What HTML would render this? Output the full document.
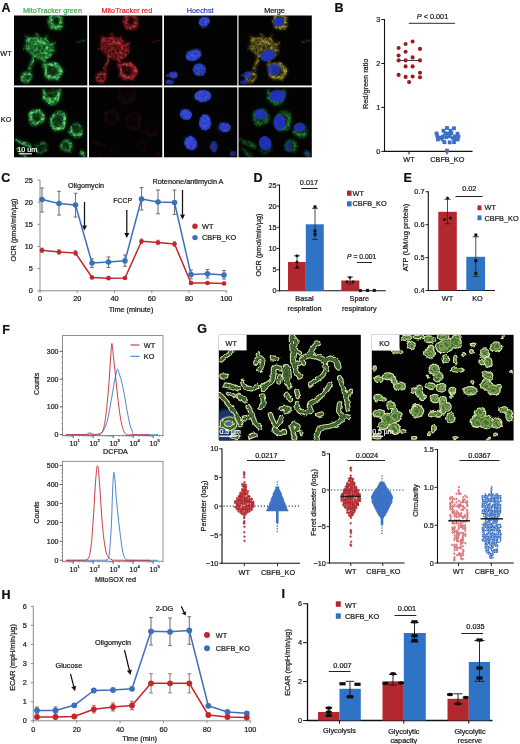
<!DOCTYPE html>
<html lang="en"><head><meta charset="utf-8"><title>Figure</title>
<style>
html,body{margin:0;padding:0;background:#fff;}
body{width:520px;height:744px;overflow:hidden;}
svg{display:block;font-family:"Liberation Sans",sans-serif;}
</style></head><body>
<svg width="520" height="744" viewBox="0 0 520 744">
<rect width="520" height="744" fill="#fff"/>
<defs>
<filter id="spk" x="-5%" y="-5%" width="110%" height="110%">
  <feTurbulence type="fractalNoise" baseFrequency="0.42" numOctaves="2" seed="7" result="n"/>
  <feColorMatrix in="n" type="matrix" values="0 0 0 0 0  0 0 0 0 0  0 0 0 0 0  2.4 0 0 0 -0.55" result="m"/>
  <feTurbulence type="fractalNoise" baseFrequency="0.085" numOctaves="2" seed="4" result="lf"/>
  <feDisplacementMap in="SourceGraphic" in2="lf" scale="6" xChannelSelector="R" yChannelSelector="G" result="sg"/>
  <feGaussianBlur in="sg" stdDeviation="0.8" result="b"/>
  <feComposite in="b" in2="m" operator="in" result="c"/>
  <feGaussianBlur in="c" stdDeviation="0.55"/>
</filter>
<filter id="spk2" x="-5%" y="-5%" width="110%" height="110%">
  <feTurbulence type="fractalNoise" baseFrequency="0.4" numOctaves="2" seed="3" result="n"/>
  <feColorMatrix in="n" type="matrix" values="0 0 0 0 0  0 0 0 0 0  0 0 0 0 0  2.2 0 0 0 -0.45" result="m"/>
  <feTurbulence type="fractalNoise" baseFrequency="0.085" numOctaves="2" seed="4" result="lf"/>
  <feDisplacementMap in="SourceGraphic" in2="lf" scale="6" xChannelSelector="R" yChannelSelector="G" result="sg"/>
  <feGaussianBlur in="sg" stdDeviation="0.8" result="b"/>
  <feComposite in="b" in2="m" operator="in" result="c"/>
  <feGaussianBlur in="c" stdDeviation="0.55"/>
</filter>
<filter id="hot" x="-5%" y="-5%" width="110%" height="110%">
  <feTurbulence type="fractalNoise" baseFrequency="0.33" numOctaves="2" seed="19" result="n"/>
  <feColorMatrix in="n" type="matrix" values="0 0 0 0 0  0 0 0 0 0  0 0 0 0 0  3.2 0 0 0 -1.35" result="m"/>
  <feTurbulence type="fractalNoise" baseFrequency="0.085" numOctaves="2" seed="4" result="lf"/>
  <feDisplacementMap in="SourceGraphic" in2="lf" scale="6" xChannelSelector="R" yChannelSelector="G" result="sg"/>
  <feGaussianBlur in="sg" stdDeviation="0.5" result="b"/>
  <feComposite in="b" in2="m" operator="in" result="c"/>
  <feGaussianBlur in="c" stdDeviation="0.5"/>
</filter>
<filter id="wob" x="-2%" y="-2%" width="104%" height="104%">
  <feTurbulence type="fractalNoise" baseFrequency="0.16" numOctaves="2" seed="11" result="t"/>
  <feDisplacementMap in="SourceGraphic" in2="t" scale="3.6" xChannelSelector="R" yChannelSelector="G" result="d"/>
  <feGaussianBlur in="d" stdDeviation="0.28"/>
</filter>
<filter id="glow" x="-5%" y="-5%" width="110%" height="110%">
  <feTurbulence type="fractalNoise" baseFrequency="0.085" numOctaves="2" seed="4" result="lf"/>
  <feDisplacementMap in="SourceGraphic" in2="lf" scale="6" xChannelSelector="R" yChannelSelector="G" result="sg"/>
  <feGaussianBlur in="sg" stdDeviation="2.0"/>
</filter>
<filter id="bl1"><feGaussianBlur stdDeviation="1.3"/></filter>
<filter id="bl05"><feGaussianBlur stdDeviation="0.7"/></filter>
<filter id="bl03"><feGaussianBlur stdDeviation="0.3"/></filter>
</defs>
<text x="1.50" y="12.00" font-size="12.5" fill="#111" stroke="#111" stroke-width="0.22" font-weight="bold">A</text>
<text x="52.50" y="12.60" font-size="7.3" fill="#3fae49" stroke="#3fae49" stroke-width="0.22" text-anchor="middle">MitoTracker green</text>
<text x="126.80" y="12.60" font-size="7.3" fill="#e0262b" stroke="#e0262b" stroke-width="0.22" text-anchor="middle">MitoTracker red</text>
<text x="200.20" y="12.60" font-size="7.3" fill="#2f3fc0" stroke="#2f3fc0" stroke-width="0.22" text-anchor="middle">Hoechst</text>
<text x="274.50" y="12.60" font-size="7.3" fill="#1a1a1a" stroke="#1a1a1a" stroke-width="0.22" text-anchor="middle">Merge</text>
<text x="0.30" y="55.60" font-size="7.3" fill="#1a1a1a" stroke="#1a1a1a" stroke-width="0.22">WT</text>
<text x="0.80" y="122.00" font-size="7.3" fill="#1a1a1a" stroke="#1a1a1a" stroke-width="0.22">KO</text>
<clipPath id="ct00"><rect x="14" y="15.5" width="73.3" height="70"/></clipPath>
<rect x="14.00" y="15.50" width="73.30" height="70.00" fill="#030303"/>
<g clip-path="url(#ct00)">
<g filter="url(#spk)" stroke="#3fd258" fill="#3fd258" stroke-linecap="round"><path d="M50.5 17.5 Q48.5 22.5 51 26 Q55.5 29.5 60.5 26.5 Q63 22.5 61 18.5" fill="none" stroke-width="3.0"/><ellipse cx="55.7" cy="22" rx="6.6" ry="5.0" fill-opacity="0.22" stroke-width="1.8" opacity="0.45"/><path d="M28 41 Q37 35 47 39 Q54 43 53 51 Q51 57 45 58 Q41 61 37 57 Q31 55 28 49 Q26 45 28 41 Z" opacity="0.9" stroke-width="1.5" fill-opacity="0.48"/><path d="M33 44 Q40 40 47 45 Q49 50 44 53" fill="none" stroke-width="3.0" opacity="0.9"/><path d="M31 40 L26 36.5 M38 38 L36 34 M45 38.5 L48 34.5 M51 44 L56 41.5 M28 47 L24 48" stroke-width="1.4" fill="none" opacity="0.55"/><path d="M34 55 Q32 61 30 70" fill="none" stroke-width="2.2" opacity="0.7"/><path d="M44 57 Q46 61 45 64" fill="none" stroke-width="2.2" opacity="0.6"/><path d="M44.5 65 L55.5 63 L61.5 72 L57 79 L46 75 Z" fill-opacity="0.15" stroke-width="2.8" stroke-linejoin="round"/><path d="M57 64.5 L62 72 L57.5 78.8 L50 77.5" fill="none" stroke-width="3.6" stroke-linejoin="round" opacity="0.95"/><ellipse cx="25.8" cy="76.8" rx="4.8" ry="4.6" fill-opacity="0.22" stroke-width="2.6" opacity="0.8"/><path d="M27 73 Q31.5 76 29 81" fill="none" stroke-width="2.2" opacity="0.7"/><path d="M78 42.8 L85.5 40.4" fill="none" stroke-width="1.6" opacity="0.3"/></g>
<g filter="url(#glow)" stroke="#1f9a38" fill="#1f9a38" opacity="0.6" stroke-linecap="round"><path d="M50.5 17.5 Q48.5 22.5 51 26 Q55.5 29.5 60.5 26.5 Q63 22.5 61 18.5" fill="none" stroke-width="3.0"/><ellipse cx="55.7" cy="22" rx="6.6" ry="5.0" fill-opacity="0.22" stroke-width="1.8" opacity="0.45"/><path d="M28 41 Q37 35 47 39 Q54 43 53 51 Q51 57 45 58 Q41 61 37 57 Q31 55 28 49 Q26 45 28 41 Z" opacity="0.9" stroke-width="1.5" fill-opacity="0.48"/><path d="M33 44 Q40 40 47 45 Q49 50 44 53" fill="none" stroke-width="3.0" opacity="0.9"/><path d="M31 40 L26 36.5 M38 38 L36 34 M45 38.5 L48 34.5 M51 44 L56 41.5 M28 47 L24 48" stroke-width="1.4" fill="none" opacity="0.55"/><path d="M34 55 Q32 61 30 70" fill="none" stroke-width="2.2" opacity="0.7"/><path d="M44 57 Q46 61 45 64" fill="none" stroke-width="2.2" opacity="0.6"/><path d="M44.5 65 L55.5 63 L61.5 72 L57 79 L46 75 Z" fill-opacity="0.15" stroke-width="2.8" stroke-linejoin="round"/><path d="M57 64.5 L62 72 L57.5 78.8 L50 77.5" fill="none" stroke-width="3.6" stroke-linejoin="round" opacity="0.95"/><ellipse cx="25.8" cy="76.8" rx="4.8" ry="4.6" fill-opacity="0.22" stroke-width="2.6" opacity="0.8"/><path d="M27 73 Q31.5 76 29 81" fill="none" stroke-width="2.2" opacity="0.7"/><path d="M78 42.8 L85.5 40.4" fill="none" stroke-width="1.6" opacity="0.3"/></g>
<g filter="url(#hot)" stroke="#8dffa0" fill="#8dffa0" opacity="0.8" stroke-linecap="round"><path d="M50.5 17.5 Q48.5 22.5 51 26 Q55.5 29.5 60.5 26.5 Q63 22.5 61 18.5" fill="none" stroke-width="3.0"/><ellipse cx="55.7" cy="22" rx="6.6" ry="5.0" fill-opacity="0.22" stroke-width="1.8" opacity="0.45"/><path d="M28 41 Q37 35 47 39 Q54 43 53 51 Q51 57 45 58 Q41 61 37 57 Q31 55 28 49 Q26 45 28 41 Z" opacity="0.9" stroke-width="1.5" fill-opacity="0.48"/><path d="M33 44 Q40 40 47 45 Q49 50 44 53" fill="none" stroke-width="3.0" opacity="0.9"/><path d="M31 40 L26 36.5 M38 38 L36 34 M45 38.5 L48 34.5 M51 44 L56 41.5 M28 47 L24 48" stroke-width="1.4" fill="none" opacity="0.55"/><path d="M34 55 Q32 61 30 70" fill="none" stroke-width="2.2" opacity="0.7"/><path d="M44 57 Q46 61 45 64" fill="none" stroke-width="2.2" opacity="0.6"/><path d="M44.5 65 L55.5 63 L61.5 72 L57 79 L46 75 Z" fill-opacity="0.15" stroke-width="2.8" stroke-linejoin="round"/><path d="M57 64.5 L62 72 L57.5 78.8 L50 77.5" fill="none" stroke-width="3.6" stroke-linejoin="round" opacity="0.95"/><ellipse cx="25.8" cy="76.8" rx="4.8" ry="4.6" fill-opacity="0.22" stroke-width="2.6" opacity="0.8"/><path d="M27 73 Q31.5 76 29 81" fill="none" stroke-width="2.2" opacity="0.7"/><path d="M78 42.8 L85.5 40.4" fill="none" stroke-width="1.6" opacity="0.3"/></g>
</g>
<clipPath id="ct10"><rect x="89" y="15.5" width="73.3" height="70"/></clipPath>
<rect x="89.00" y="15.50" width="73.30" height="70.00" fill="#030303"/>
<g clip-path="url(#ct10)">
<g transform="translate(75 0)" opacity="0.8">
<g filter="url(#spk2)" stroke="#ff3038" fill="#ff3038" stroke-linecap="round"><path d="M50.5 17.5 Q48.5 22.5 51 26 Q55.5 29.5 60.5 26.5 Q63 22.5 61 18.5" fill="none" stroke-width="3.0"/><ellipse cx="55.7" cy="22" rx="6.6" ry="5.0" fill-opacity="0.22" stroke-width="1.8" opacity="0.45"/><path d="M28 41 Q37 35 47 39 Q54 43 53 51 Q51 57 45 58 Q41 61 37 57 Q31 55 28 49 Q26 45 28 41 Z" opacity="0.9" stroke-width="1.5" fill-opacity="0.48"/><path d="M33 44 Q40 40 47 45 Q49 50 44 53" fill="none" stroke-width="3.0" opacity="0.9"/><path d="M31 40 L26 36.5 M38 38 L36 34 M45 38.5 L48 34.5 M51 44 L56 41.5 M28 47 L24 48" stroke-width="1.4" fill="none" opacity="0.55"/><path d="M34 55 Q32 61 30 70" fill="none" stroke-width="2.2" opacity="0.7"/><path d="M44 57 Q46 61 45 64" fill="none" stroke-width="2.2" opacity="0.6"/><path d="M44.5 65 L55.5 63 L61.5 72 L57 79 L46 75 Z" fill-opacity="0.15" stroke-width="2.8" stroke-linejoin="round"/><path d="M57 64.5 L62 72 L57.5 78.8 L50 77.5" fill="none" stroke-width="3.6" stroke-linejoin="round" opacity="0.95"/><ellipse cx="25.8" cy="76.8" rx="4.8" ry="4.6" fill-opacity="0.22" stroke-width="2.6" opacity="0.8"/><path d="M27 73 Q31.5 76 29 81" fill="none" stroke-width="2.2" opacity="0.7"/><path d="M78 42.8 L85.5 40.4" fill="none" stroke-width="1.6" opacity="0.3"/></g>
<g filter="url(#glow)" stroke="#b01820" fill="#b01820" opacity="0.6" stroke-linecap="round"><path d="M50.5 17.5 Q48.5 22.5 51 26 Q55.5 29.5 60.5 26.5 Q63 22.5 61 18.5" fill="none" stroke-width="3.0"/><ellipse cx="55.7" cy="22" rx="6.6" ry="5.0" fill-opacity="0.22" stroke-width="1.8" opacity="0.45"/><path d="M28 41 Q37 35 47 39 Q54 43 53 51 Q51 57 45 58 Q41 61 37 57 Q31 55 28 49 Q26 45 28 41 Z" opacity="0.9" stroke-width="1.5" fill-opacity="0.48"/><path d="M33 44 Q40 40 47 45 Q49 50 44 53" fill="none" stroke-width="3.0" opacity="0.9"/><path d="M31 40 L26 36.5 M38 38 L36 34 M45 38.5 L48 34.5 M51 44 L56 41.5 M28 47 L24 48" stroke-width="1.4" fill="none" opacity="0.55"/><path d="M34 55 Q32 61 30 70" fill="none" stroke-width="2.2" opacity="0.7"/><path d="M44 57 Q46 61 45 64" fill="none" stroke-width="2.2" opacity="0.6"/><path d="M44.5 65 L55.5 63 L61.5 72 L57 79 L46 75 Z" fill-opacity="0.15" stroke-width="2.8" stroke-linejoin="round"/><path d="M57 64.5 L62 72 L57.5 78.8 L50 77.5" fill="none" stroke-width="3.6" stroke-linejoin="round" opacity="0.95"/><ellipse cx="25.8" cy="76.8" rx="4.8" ry="4.6" fill-opacity="0.22" stroke-width="2.6" opacity="0.8"/><path d="M27 73 Q31.5 76 29 81" fill="none" stroke-width="2.2" opacity="0.7"/><path d="M78 42.8 L85.5 40.4" fill="none" stroke-width="1.6" opacity="0.3"/></g>
<g filter="url(#hot)" stroke="#ff8a8a" fill="#ff8a8a" opacity="0.7" stroke-linecap="round"><path d="M50.5 17.5 Q48.5 22.5 51 26 Q55.5 29.5 60.5 26.5 Q63 22.5 61 18.5" fill="none" stroke-width="3.0"/><ellipse cx="55.7" cy="22" rx="6.6" ry="5.0" fill-opacity="0.22" stroke-width="1.8" opacity="0.45"/><path d="M28 41 Q37 35 47 39 Q54 43 53 51 Q51 57 45 58 Q41 61 37 57 Q31 55 28 49 Q26 45 28 41 Z" opacity="0.9" stroke-width="1.5" fill-opacity="0.48"/><path d="M33 44 Q40 40 47 45 Q49 50 44 53" fill="none" stroke-width="3.0" opacity="0.9"/><path d="M31 40 L26 36.5 M38 38 L36 34 M45 38.5 L48 34.5 M51 44 L56 41.5 M28 47 L24 48" stroke-width="1.4" fill="none" opacity="0.55"/><path d="M34 55 Q32 61 30 70" fill="none" stroke-width="2.2" opacity="0.7"/><path d="M44 57 Q46 61 45 64" fill="none" stroke-width="2.2" opacity="0.6"/><path d="M44.5 65 L55.5 63 L61.5 72 L57 79 L46 75 Z" fill-opacity="0.15" stroke-width="2.8" stroke-linejoin="round"/><path d="M57 64.5 L62 72 L57.5 78.8 L50 77.5" fill="none" stroke-width="3.6" stroke-linejoin="round" opacity="0.95"/><ellipse cx="25.8" cy="76.8" rx="4.8" ry="4.6" fill-opacity="0.22" stroke-width="2.6" opacity="0.8"/><path d="M27 73 Q31.5 76 29 81" fill="none" stroke-width="2.2" opacity="0.7"/><path d="M78 42.8 L85.5 40.4" fill="none" stroke-width="1.6" opacity="0.3"/></g>
</g>
</g>
<clipPath id="ct20"><rect x="164" y="15.5" width="73.3" height="70"/></clipPath>
<rect x="164.00" y="15.50" width="73.30" height="70.00" fill="#030303"/>
<g clip-path="url(#ct20)">
<g filter="url(#bl05)" fill="#2232bc"><ellipse cx="204.2" cy="21.7" rx="5.6" ry="4.5" opacity="1" transform="rotate(-20 204.2 21.7)"/><ellipse cx="193.3" cy="55.4" rx="7.7" ry="5.6" opacity="1" transform="rotate(-20 193.3 55.4)"/><ellipse cx="199.4" cy="69.6" rx="6.6" ry="6.4" opacity="0.85"/><ellipse cx="173.4" cy="75.1" rx="4.4" ry="3.5" opacity="0.85"/><ellipse cx="168" cy="75.3" rx="1.8" ry="1.8" opacity="0.6"/><ellipse cx="169.5" cy="82.2" rx="4.2" ry="2.3" opacity="0.7"/></g>
<g filter="url(#spk2)" fill="#5a74f0" opacity="0.5"><ellipse cx="204.2" cy="21.7" rx="5.6" ry="4.5" opacity="1" transform="rotate(-20 204.2 21.7)"/><ellipse cx="193.3" cy="55.4" rx="7.7" ry="5.6" opacity="1" transform="rotate(-20 193.3 55.4)"/><ellipse cx="199.4" cy="69.6" rx="6.6" ry="6.4" opacity="0.85"/><ellipse cx="173.4" cy="75.1" rx="4.4" ry="3.5" opacity="0.85"/><ellipse cx="168" cy="75.3" rx="1.8" ry="1.8" opacity="0.6"/><ellipse cx="169.5" cy="82.2" rx="4.2" ry="2.3" opacity="0.7"/></g>
</g>
<clipPath id="ct30"><rect x="238.5" y="15.5" width="73.3" height="70"/></clipPath>
<rect x="238.50" y="15.50" width="73.30" height="70.00" fill="#030303"/>
<g clip-path="url(#ct30)">
<g transform="translate(224.5 0)" opacity="0.72">
<g filter="url(#spk)" stroke="#ece23a" fill="#ece23a" stroke-linecap="round"><path d="M50.5 17.5 Q48.5 22.5 51 26 Q55.5 29.5 60.5 26.5 Q63 22.5 61 18.5" fill="none" stroke-width="3.0"/><ellipse cx="55.7" cy="22" rx="6.6" ry="5.0" fill-opacity="0.22" stroke-width="1.8" opacity="0.45"/><path d="M28 41 Q37 35 47 39 Q54 43 53 51 Q51 57 45 58 Q41 61 37 57 Q31 55 28 49 Q26 45 28 41 Z" opacity="0.9" stroke-width="1.5" fill-opacity="0.48"/><path d="M33 44 Q40 40 47 45 Q49 50 44 53" fill="none" stroke-width="3.0" opacity="0.9"/><path d="M31 40 L26 36.5 M38 38 L36 34 M45 38.5 L48 34.5 M51 44 L56 41.5 M28 47 L24 48" stroke-width="1.4" fill="none" opacity="0.55"/><path d="M34 55 Q32 61 30 70" fill="none" stroke-width="2.2" opacity="0.7"/><path d="M44 57 Q46 61 45 64" fill="none" stroke-width="2.2" opacity="0.6"/><path d="M44.5 65 L55.5 63 L61.5 72 L57 79 L46 75 Z" fill-opacity="0.15" stroke-width="2.8" stroke-linejoin="round"/><path d="M57 64.5 L62 72 L57.5 78.8 L50 77.5" fill="none" stroke-width="3.6" stroke-linejoin="round" opacity="0.95"/><ellipse cx="25.8" cy="76.8" rx="4.8" ry="4.6" fill-opacity="0.22" stroke-width="2.6" opacity="0.8"/><path d="M27 73 Q31.5 76 29 81" fill="none" stroke-width="2.2" opacity="0.7"/><path d="M78 42.8 L85.5 40.4" fill="none" stroke-width="1.6" opacity="0.3"/></g>
<g filter="url(#glow)" stroke="#8a6a14" fill="#8a6a14" opacity="0.5" stroke-linecap="round"><path d="M50.5 17.5 Q48.5 22.5 51 26 Q55.5 29.5 60.5 26.5 Q63 22.5 61 18.5" fill="none" stroke-width="3.0"/><ellipse cx="55.7" cy="22" rx="6.6" ry="5.0" fill-opacity="0.22" stroke-width="1.8" opacity="0.45"/><path d="M28 41 Q37 35 47 39 Q54 43 53 51 Q51 57 45 58 Q41 61 37 57 Q31 55 28 49 Q26 45 28 41 Z" opacity="0.9" stroke-width="1.5" fill-opacity="0.48"/><path d="M33 44 Q40 40 47 45 Q49 50 44 53" fill="none" stroke-width="3.0" opacity="0.9"/><path d="M31 40 L26 36.5 M38 38 L36 34 M45 38.5 L48 34.5 M51 44 L56 41.5 M28 47 L24 48" stroke-width="1.4" fill="none" opacity="0.55"/><path d="M34 55 Q32 61 30 70" fill="none" stroke-width="2.2" opacity="0.7"/><path d="M44 57 Q46 61 45 64" fill="none" stroke-width="2.2" opacity="0.6"/><path d="M44.5 65 L55.5 63 L61.5 72 L57 79 L46 75 Z" fill-opacity="0.15" stroke-width="2.8" stroke-linejoin="round"/><path d="M57 64.5 L62 72 L57.5 78.8 L50 77.5" fill="none" stroke-width="3.6" stroke-linejoin="round" opacity="0.95"/><ellipse cx="25.8" cy="76.8" rx="4.8" ry="4.6" fill-opacity="0.22" stroke-width="2.6" opacity="0.8"/><path d="M27 73 Q31.5 76 29 81" fill="none" stroke-width="2.2" opacity="0.7"/><path d="M78 42.8 L85.5 40.4" fill="none" stroke-width="1.6" opacity="0.3"/></g>
<g filter="url(#hot)" stroke="#ffff70" fill="#ffff70" opacity="0.85" stroke-linecap="round"><path d="M50.5 17.5 Q48.5 22.5 51 26 Q55.5 29.5 60.5 26.5 Q63 22.5 61 18.5" fill="none" stroke-width="3.0"/><ellipse cx="55.7" cy="22" rx="6.6" ry="5.0" fill-opacity="0.22" stroke-width="1.8" opacity="0.45"/><path d="M28 41 Q37 35 47 39 Q54 43 53 51 Q51 57 45 58 Q41 61 37 57 Q31 55 28 49 Q26 45 28 41 Z" opacity="0.9" stroke-width="1.5" fill-opacity="0.48"/><path d="M33 44 Q40 40 47 45 Q49 50 44 53" fill="none" stroke-width="3.0" opacity="0.9"/><path d="M31 40 L26 36.5 M38 38 L36 34 M45 38.5 L48 34.5 M51 44 L56 41.5 M28 47 L24 48" stroke-width="1.4" fill="none" opacity="0.55"/><path d="M34 55 Q32 61 30 70" fill="none" stroke-width="2.2" opacity="0.7"/><path d="M44 57 Q46 61 45 64" fill="none" stroke-width="2.2" opacity="0.6"/><path d="M44.5 65 L55.5 63 L61.5 72 L57 79 L46 75 Z" fill-opacity="0.15" stroke-width="2.8" stroke-linejoin="round"/><path d="M57 64.5 L62 72 L57.5 78.8 L50 77.5" fill="none" stroke-width="3.6" stroke-linejoin="round" opacity="0.95"/><ellipse cx="25.8" cy="76.8" rx="4.8" ry="4.6" fill-opacity="0.22" stroke-width="2.6" opacity="0.8"/><path d="M27 73 Q31.5 76 29 81" fill="none" stroke-width="2.2" opacity="0.7"/><path d="M78 42.8 L85.5 40.4" fill="none" stroke-width="1.6" opacity="0.3"/></g>
</g>
<g transform="translate(74.5 0)">
<g filter="url(#bl05)" fill="#2232bc" opacity="0.95"><ellipse cx="204.2" cy="21.7" rx="5.6" ry="4.5" opacity="1" transform="rotate(-20 204.2 21.7)"/><ellipse cx="193.3" cy="55.4" rx="7.7" ry="5.6" opacity="1" transform="rotate(-20 193.3 55.4)"/><ellipse cx="199.4" cy="69.6" rx="6.6" ry="6.4" opacity="0.85"/><ellipse cx="173.4" cy="75.1" rx="4.4" ry="3.5" opacity="0.85"/><ellipse cx="168" cy="75.3" rx="1.8" ry="1.8" opacity="0.6"/><ellipse cx="169.5" cy="82.2" rx="4.2" ry="2.3" opacity="0.7"/></g>
</g>
</g>
<clipPath id="ct01"><rect x="14" y="87.3" width="73.3" height="70"/></clipPath>
<rect x="14.00" y="87.30" width="73.30" height="70.00" fill="#030303"/>
<g clip-path="url(#ct01)">
<g filter="url(#spk)" stroke="#3fd258" fill="#3fd258" stroke-linecap="round"><path d="M43 91 Q42 98 47 101 Q52 103.5 57 100 Q60.5 96 59 91" fill-opacity="0.2" stroke-width="3.2"/><path d="M44.5 98.5 Q51 104 58 98.5" fill="none" stroke-width="3.4" opacity="0.9"/><ellipse cx="36.8" cy="118" rx="6.2" ry="6.4" fill-opacity="0.22" stroke-width="3.2" opacity="0.8"/><path d="M31 114 Q34 110 40 111.5" fill="none" stroke-width="2.6" opacity="0.8"/><ellipse cx="57.3" cy="121" rx="5.9" ry="7.4" fill-opacity="0.22" stroke-width="2.4" opacity="0.85"/><path d="M52.5 126 Q56 131 61 128 Q64 124 63.5 117" fill="none" stroke-width="2.8" opacity="0.85"/><ellipse cx="76.2" cy="129.7" rx="5.2" ry="5.2" fill-opacity="0.22" stroke-width="2.2" opacity="0.6"/><path d="M70.8 131 Q75 137 81 133.5" fill="none" stroke-width="3.0" opacity="0.9"/><path d="M15 139 Q22 143 30 147" fill="none" stroke-width="2.6" opacity="0.7"/><ellipse cx="41.5" cy="147.5" rx="5.5" ry="5" fill-opacity="0.22" stroke-width="2.2" opacity="0.4"/><path d="M16 150 Q22 154 28 156" fill="none" stroke-width="2.2" opacity="0.5"/><ellipse cx="66" cy="146.3" rx="4.8" ry="4.8" fill-opacity="0.22" stroke-width="2.4" opacity="0.6"/><path d="M69 142 Q72.5 146 70 151" fill="none" stroke-width="2.6" opacity="0.8"/><path d="M81.5 152 L84 155.5" fill="none" stroke-width="3" opacity="0.8"/></g>
<g filter="url(#glow)" stroke="#1f9a38" fill="#1f9a38" opacity="0.6" stroke-linecap="round"><path d="M43 91 Q42 98 47 101 Q52 103.5 57 100 Q60.5 96 59 91" fill-opacity="0.2" stroke-width="3.2"/><path d="M44.5 98.5 Q51 104 58 98.5" fill="none" stroke-width="3.4" opacity="0.9"/><ellipse cx="36.8" cy="118" rx="6.2" ry="6.4" fill-opacity="0.22" stroke-width="3.2" opacity="0.8"/><path d="M31 114 Q34 110 40 111.5" fill="none" stroke-width="2.6" opacity="0.8"/><ellipse cx="57.3" cy="121" rx="5.9" ry="7.4" fill-opacity="0.22" stroke-width="2.4" opacity="0.85"/><path d="M52.5 126 Q56 131 61 128 Q64 124 63.5 117" fill="none" stroke-width="2.8" opacity="0.85"/><ellipse cx="76.2" cy="129.7" rx="5.2" ry="5.2" fill-opacity="0.22" stroke-width="2.2" opacity="0.6"/><path d="M70.8 131 Q75 137 81 133.5" fill="none" stroke-width="3.0" opacity="0.9"/><path d="M15 139 Q22 143 30 147" fill="none" stroke-width="2.6" opacity="0.7"/><ellipse cx="41.5" cy="147.5" rx="5.5" ry="5" fill-opacity="0.22" stroke-width="2.2" opacity="0.4"/><path d="M16 150 Q22 154 28 156" fill="none" stroke-width="2.2" opacity="0.5"/><ellipse cx="66" cy="146.3" rx="4.8" ry="4.8" fill-opacity="0.22" stroke-width="2.4" opacity="0.6"/><path d="M69 142 Q72.5 146 70 151" fill="none" stroke-width="2.6" opacity="0.8"/><path d="M81.5 152 L84 155.5" fill="none" stroke-width="3" opacity="0.8"/></g>
<g filter="url(#hot)" stroke="#8dffa0" fill="#8dffa0" opacity="0.8" stroke-linecap="round"><path d="M43 91 Q42 98 47 101 Q52 103.5 57 100 Q60.5 96 59 91" fill-opacity="0.2" stroke-width="3.2"/><path d="M44.5 98.5 Q51 104 58 98.5" fill="none" stroke-width="3.4" opacity="0.9"/><ellipse cx="36.8" cy="118" rx="6.2" ry="6.4" fill-opacity="0.22" stroke-width="3.2" opacity="0.8"/><path d="M31 114 Q34 110 40 111.5" fill="none" stroke-width="2.6" opacity="0.8"/><ellipse cx="57.3" cy="121" rx="5.9" ry="7.4" fill-opacity="0.22" stroke-width="2.4" opacity="0.85"/><path d="M52.5 126 Q56 131 61 128 Q64 124 63.5 117" fill="none" stroke-width="2.8" opacity="0.85"/><ellipse cx="76.2" cy="129.7" rx="5.2" ry="5.2" fill-opacity="0.22" stroke-width="2.2" opacity="0.6"/><path d="M70.8 131 Q75 137 81 133.5" fill="none" stroke-width="3.0" opacity="0.9"/><path d="M15 139 Q22 143 30 147" fill="none" stroke-width="2.6" opacity="0.7"/><ellipse cx="41.5" cy="147.5" rx="5.5" ry="5" fill-opacity="0.22" stroke-width="2.2" opacity="0.4"/><path d="M16 150 Q22 154 28 156" fill="none" stroke-width="2.2" opacity="0.5"/><ellipse cx="66" cy="146.3" rx="4.8" ry="4.8" fill-opacity="0.22" stroke-width="2.4" opacity="0.6"/><path d="M69 142 Q72.5 146 70 151" fill="none" stroke-width="2.6" opacity="0.8"/><path d="M81.5 152 L84 155.5" fill="none" stroke-width="3" opacity="0.8"/></g>
</g>
<clipPath id="ct11"><rect x="89" y="87.3" width="73.3" height="70"/></clipPath>
<rect x="89.00" y="87.30" width="73.30" height="70.00" fill="#030303"/>
<g clip-path="url(#ct11)">
<g transform="translate(75 0)" opacity="0.1">
<g filter="url(#spk2)" stroke="#ff3038" fill="#ff3038" stroke-linecap="round"><path d="M43 91 Q42 98 47 101 Q52 103.5 57 100 Q60.5 96 59 91" fill-opacity="0.2" stroke-width="3.2"/><path d="M44.5 98.5 Q51 104 58 98.5" fill="none" stroke-width="3.4" opacity="0.9"/><ellipse cx="36.8" cy="118" rx="6.2" ry="6.4" fill-opacity="0.22" stroke-width="3.2" opacity="0.8"/><path d="M31 114 Q34 110 40 111.5" fill="none" stroke-width="2.6" opacity="0.8"/><ellipse cx="57.3" cy="121" rx="5.9" ry="7.4" fill-opacity="0.22" stroke-width="2.4" opacity="0.85"/><path d="M52.5 126 Q56 131 61 128 Q64 124 63.5 117" fill="none" stroke-width="2.8" opacity="0.85"/><ellipse cx="76.2" cy="129.7" rx="5.2" ry="5.2" fill-opacity="0.22" stroke-width="2.2" opacity="0.6"/><path d="M70.8 131 Q75 137 81 133.5" fill="none" stroke-width="3.0" opacity="0.9"/><path d="M15 139 Q22 143 30 147" fill="none" stroke-width="2.6" opacity="0.7"/><ellipse cx="41.5" cy="147.5" rx="5.5" ry="5" fill-opacity="0.22" stroke-width="2.2" opacity="0.4"/><path d="M16 150 Q22 154 28 156" fill="none" stroke-width="2.2" opacity="0.5"/><ellipse cx="66" cy="146.3" rx="4.8" ry="4.8" fill-opacity="0.22" stroke-width="2.4" opacity="0.6"/><path d="M69 142 Q72.5 146 70 151" fill="none" stroke-width="2.6" opacity="0.8"/><path d="M81.5 152 L84 155.5" fill="none" stroke-width="3" opacity="0.8"/></g>
<g filter="url(#glow)" stroke="#b01820" fill="#b01820" opacity="0.6" stroke-linecap="round"><path d="M43 91 Q42 98 47 101 Q52 103.5 57 100 Q60.5 96 59 91" fill-opacity="0.2" stroke-width="3.2"/><path d="M44.5 98.5 Q51 104 58 98.5" fill="none" stroke-width="3.4" opacity="0.9"/><ellipse cx="36.8" cy="118" rx="6.2" ry="6.4" fill-opacity="0.22" stroke-width="3.2" opacity="0.8"/><path d="M31 114 Q34 110 40 111.5" fill="none" stroke-width="2.6" opacity="0.8"/><ellipse cx="57.3" cy="121" rx="5.9" ry="7.4" fill-opacity="0.22" stroke-width="2.4" opacity="0.85"/><path d="M52.5 126 Q56 131 61 128 Q64 124 63.5 117" fill="none" stroke-width="2.8" opacity="0.85"/><ellipse cx="76.2" cy="129.7" rx="5.2" ry="5.2" fill-opacity="0.22" stroke-width="2.2" opacity="0.6"/><path d="M70.8 131 Q75 137 81 133.5" fill="none" stroke-width="3.0" opacity="0.9"/><path d="M15 139 Q22 143 30 147" fill="none" stroke-width="2.6" opacity="0.7"/><ellipse cx="41.5" cy="147.5" rx="5.5" ry="5" fill-opacity="0.22" stroke-width="2.2" opacity="0.4"/><path d="M16 150 Q22 154 28 156" fill="none" stroke-width="2.2" opacity="0.5"/><ellipse cx="66" cy="146.3" rx="4.8" ry="4.8" fill-opacity="0.22" stroke-width="2.4" opacity="0.6"/><path d="M69 142 Q72.5 146 70 151" fill="none" stroke-width="2.6" opacity="0.8"/><path d="M81.5 152 L84 155.5" fill="none" stroke-width="3" opacity="0.8"/></g>
<g filter="url(#hot)" stroke="#ff8a8a" fill="#ff8a8a" opacity="0.7" stroke-linecap="round"><path d="M43 91 Q42 98 47 101 Q52 103.5 57 100 Q60.5 96 59 91" fill-opacity="0.2" stroke-width="3.2"/><path d="M44.5 98.5 Q51 104 58 98.5" fill="none" stroke-width="3.4" opacity="0.9"/><ellipse cx="36.8" cy="118" rx="6.2" ry="6.4" fill-opacity="0.22" stroke-width="3.2" opacity="0.8"/><path d="M31 114 Q34 110 40 111.5" fill="none" stroke-width="2.6" opacity="0.8"/><ellipse cx="57.3" cy="121" rx="5.9" ry="7.4" fill-opacity="0.22" stroke-width="2.4" opacity="0.85"/><path d="M52.5 126 Q56 131 61 128 Q64 124 63.5 117" fill="none" stroke-width="2.8" opacity="0.85"/><ellipse cx="76.2" cy="129.7" rx="5.2" ry="5.2" fill-opacity="0.22" stroke-width="2.2" opacity="0.6"/><path d="M70.8 131 Q75 137 81 133.5" fill="none" stroke-width="3.0" opacity="0.9"/><path d="M15 139 Q22 143 30 147" fill="none" stroke-width="2.6" opacity="0.7"/><ellipse cx="41.5" cy="147.5" rx="5.5" ry="5" fill-opacity="0.22" stroke-width="2.2" opacity="0.4"/><path d="M16 150 Q22 154 28 156" fill="none" stroke-width="2.2" opacity="0.5"/><ellipse cx="66" cy="146.3" rx="4.8" ry="4.8" fill-opacity="0.22" stroke-width="2.4" opacity="0.6"/><path d="M69 142 Q72.5 146 70 151" fill="none" stroke-width="2.6" opacity="0.8"/><path d="M81.5 152 L84 155.5" fill="none" stroke-width="3" opacity="0.8"/></g>
</g>
</g>
<clipPath id="ct21"><rect x="164" y="87.3" width="73.3" height="70"/></clipPath>
<rect x="164.00" y="87.30" width="73.30" height="70.00" fill="#030303"/>
<g clip-path="url(#ct21)">
<g filter="url(#bl05)" fill="#2232bc"><ellipse cx="203" cy="96" rx="8.4" ry="6.0" opacity="1.0"/><ellipse cx="186" cy="114.5" rx="6.2" ry="5.2" opacity="1" transform="rotate(20 186 114.5)"/><ellipse cx="205" cy="122.5" rx="6.0" ry="8.2" opacity="1.0"/><ellipse cx="225" cy="127.5" rx="5.8" ry="4.7" opacity="0.9"/><ellipse cx="190.7" cy="143.2" rx="6.2" ry="7.2" opacity="1" transform="rotate(-20 190.7 143.2)"/><ellipse cx="214" cy="146.5" rx="3.6" ry="5.8" opacity="0.6"/><ellipse cx="233" cy="153.5" rx="3" ry="2.6" opacity="0.55"/></g>
<g filter="url(#spk2)" fill="#5a74f0" opacity="0.5"><ellipse cx="203" cy="96" rx="8.4" ry="6.0" opacity="1.0"/><ellipse cx="186" cy="114.5" rx="6.2" ry="5.2" opacity="1" transform="rotate(20 186 114.5)"/><ellipse cx="205" cy="122.5" rx="6.0" ry="8.2" opacity="1.0"/><ellipse cx="225" cy="127.5" rx="5.8" ry="4.7" opacity="0.9"/><ellipse cx="190.7" cy="143.2" rx="6.2" ry="7.2" opacity="1" transform="rotate(-20 190.7 143.2)"/><ellipse cx="214" cy="146.5" rx="3.6" ry="5.8" opacity="0.6"/><ellipse cx="233" cy="153.5" rx="3" ry="2.6" opacity="0.55"/></g>
</g>
<clipPath id="ct31"><rect x="238.5" y="87.3" width="73.3" height="70"/></clipPath>
<rect x="238.50" y="87.30" width="73.30" height="70.00" fill="#030303"/>
<g clip-path="url(#ct31)">
<g transform="translate(224.5 0)" opacity="0.8">
<g filter="url(#spk)" stroke="#3fd258" fill="#3fd258" stroke-linecap="round"><path d="M43 91 Q42 98 47 101 Q52 103.5 57 100 Q60.5 96 59 91" fill-opacity="0.2" stroke-width="3.2"/><path d="M44.5 98.5 Q51 104 58 98.5" fill="none" stroke-width="3.4" opacity="0.9"/><ellipse cx="36.8" cy="118" rx="6.2" ry="6.4" fill-opacity="0.22" stroke-width="3.2" opacity="0.8"/><path d="M31 114 Q34 110 40 111.5" fill="none" stroke-width="2.6" opacity="0.8"/><ellipse cx="57.3" cy="121" rx="5.9" ry="7.4" fill-opacity="0.22" stroke-width="2.4" opacity="0.85"/><path d="M52.5 126 Q56 131 61 128 Q64 124 63.5 117" fill="none" stroke-width="2.8" opacity="0.85"/><ellipse cx="76.2" cy="129.7" rx="5.2" ry="5.2" fill-opacity="0.22" stroke-width="2.2" opacity="0.6"/><path d="M70.8 131 Q75 137 81 133.5" fill="none" stroke-width="3.0" opacity="0.9"/><path d="M15 139 Q22 143 30 147" fill="none" stroke-width="2.6" opacity="0.7"/><ellipse cx="41.5" cy="147.5" rx="5.5" ry="5" fill-opacity="0.22" stroke-width="2.2" opacity="0.4"/><path d="M16 150 Q22 154 28 156" fill="none" stroke-width="2.2" opacity="0.5"/><ellipse cx="66" cy="146.3" rx="4.8" ry="4.8" fill-opacity="0.22" stroke-width="2.4" opacity="0.6"/><path d="M69 142 Q72.5 146 70 151" fill="none" stroke-width="2.6" opacity="0.8"/><path d="M81.5 152 L84 155.5" fill="none" stroke-width="3" opacity="0.8"/></g>
<g filter="url(#glow)" stroke="#1f9a38" fill="#1f9a38" opacity="0.6" stroke-linecap="round"><path d="M43 91 Q42 98 47 101 Q52 103.5 57 100 Q60.5 96 59 91" fill-opacity="0.2" stroke-width="3.2"/><path d="M44.5 98.5 Q51 104 58 98.5" fill="none" stroke-width="3.4" opacity="0.9"/><ellipse cx="36.8" cy="118" rx="6.2" ry="6.4" fill-opacity="0.22" stroke-width="3.2" opacity="0.8"/><path d="M31 114 Q34 110 40 111.5" fill="none" stroke-width="2.6" opacity="0.8"/><ellipse cx="57.3" cy="121" rx="5.9" ry="7.4" fill-opacity="0.22" stroke-width="2.4" opacity="0.85"/><path d="M52.5 126 Q56 131 61 128 Q64 124 63.5 117" fill="none" stroke-width="2.8" opacity="0.85"/><ellipse cx="76.2" cy="129.7" rx="5.2" ry="5.2" fill-opacity="0.22" stroke-width="2.2" opacity="0.6"/><path d="M70.8 131 Q75 137 81 133.5" fill="none" stroke-width="3.0" opacity="0.9"/><path d="M15 139 Q22 143 30 147" fill="none" stroke-width="2.6" opacity="0.7"/><ellipse cx="41.5" cy="147.5" rx="5.5" ry="5" fill-opacity="0.22" stroke-width="2.2" opacity="0.4"/><path d="M16 150 Q22 154 28 156" fill="none" stroke-width="2.2" opacity="0.5"/><ellipse cx="66" cy="146.3" rx="4.8" ry="4.8" fill-opacity="0.22" stroke-width="2.4" opacity="0.6"/><path d="M69 142 Q72.5 146 70 151" fill="none" stroke-width="2.6" opacity="0.8"/><path d="M81.5 152 L84 155.5" fill="none" stroke-width="3" opacity="0.8"/></g>
</g>
<g transform="translate(74.5 0)">
<g filter="url(#bl05)" fill="#2232bc" opacity="0.95"><ellipse cx="203" cy="96" rx="8.4" ry="6.0" opacity="1.0"/><ellipse cx="186" cy="114.5" rx="6.2" ry="5.2" opacity="1" transform="rotate(20 186 114.5)"/><ellipse cx="205" cy="122.5" rx="6.0" ry="8.2" opacity="1.0"/><ellipse cx="225" cy="127.5" rx="5.8" ry="4.7" opacity="0.9"/><ellipse cx="190.7" cy="143.2" rx="6.2" ry="7.2" opacity="1" transform="rotate(-20 190.7 143.2)"/><ellipse cx="214" cy="146.5" rx="3.6" ry="5.8" opacity="0.6"/><ellipse cx="233" cy="153.5" rx="3" ry="2.6" opacity="0.55"/></g>
</g>
</g>
<text x="17.20" y="152.20" font-size="7.2" fill="#fff" stroke="#fff" stroke-width="0.22">10 um</text>
<line x1="18.80" y1="153.80" x2="32.00" y2="153.80" stroke="#fff" stroke-width="1.1"/>
<text x="334.50" y="12.00" font-size="12.5" fill="#111" stroke="#111" stroke-width="0.22" font-weight="bold">B</text>
<line x1="384.50" y1="19.00" x2="384.50" y2="151.90" stroke="#111" stroke-width="1.1"/>
<line x1="384.00" y1="151.40" x2="472.50" y2="151.40" stroke="#111" stroke-width="1.1"/>
<line x1="381.30" y1="151.40" x2="384.50" y2="151.40" stroke="#111" stroke-width="1.0"/>
<text x="380.20" y="154.00" font-size="7.3" fill="#1a1a1a" stroke="#1a1a1a" stroke-width="0.22" text-anchor="end">0</text>
<line x1="381.30" y1="107.43" x2="384.50" y2="107.43" stroke="#111" stroke-width="1.0"/>
<text x="380.20" y="110.03" font-size="7.3" fill="#1a1a1a" stroke="#1a1a1a" stroke-width="0.22" text-anchor="end">1</text>
<line x1="381.30" y1="63.47" x2="384.50" y2="63.47" stroke="#111" stroke-width="1.0"/>
<text x="380.20" y="66.07" font-size="7.3" fill="#1a1a1a" stroke="#1a1a1a" stroke-width="0.22" text-anchor="end">2</text>
<line x1="381.30" y1="19.50" x2="384.50" y2="19.50" stroke="#111" stroke-width="1.0"/>
<text x="380.20" y="22.10" font-size="7.3" fill="#1a1a1a" stroke="#1a1a1a" stroke-width="0.22" text-anchor="end">3</text>
<line x1="409.00" y1="151.40" x2="409.00" y2="154.40" stroke="#111" stroke-width="1.0"/>
<line x1="447.00" y1="151.40" x2="447.00" y2="154.40" stroke="#111" stroke-width="1.0"/>
<text x="367.60" y="83.80" font-size="7.3" fill="#1a1a1a" stroke="#1a1a1a" stroke-width="0.22" text-anchor="middle" transform="rotate(-90 367.60 83.80)">Red/green ratio</text>
<text x="409.00" y="161.60" font-size="7.3" fill="#1a1a1a" stroke="#1a1a1a" stroke-width="0.22" text-anchor="middle">WT</text>
<text x="447.30" y="161.60" font-size="7.3" fill="#1a1a1a" stroke="#1a1a1a" stroke-width="0.22" text-anchor="middle">CBFB_KO</text>
<text x="432.50" y="18.90" font-size="7.3" fill="#1a1a1a" stroke="#1a1a1a" stroke-width="0.22" text-anchor="middle"><tspan font-style="italic">P</tspan> &lt; 0.001</text>
<line x1="408.80" y1="23.40" x2="455.00" y2="23.40" stroke="#555" stroke-width="1.3"/>
<line x1="398.60" y1="60.40" x2="420.00" y2="60.40" stroke="#111" stroke-width="0.9"/>
<circle cx="412.60" cy="41.50" r="2.05" fill="#9c1a22"/>
<circle cx="405.60" cy="44.00" r="2.05" fill="#9c1a22"/>
<circle cx="398.60" cy="48.00" r="2.05" fill="#9c1a22"/>
<circle cx="420.00" cy="48.90" r="2.05" fill="#9c1a22"/>
<circle cx="405.60" cy="51.70" r="2.05" fill="#9c1a22"/>
<circle cx="398.60" cy="55.50" r="2.05" fill="#9c1a22"/>
<circle cx="412.60" cy="57.40" r="2.05" fill="#9c1a22"/>
<circle cx="398.60" cy="60.40" r="2.05" fill="#9c1a22"/>
<circle cx="405.60" cy="60.40" r="2.05" fill="#9c1a22"/>
<circle cx="420.00" cy="60.40" r="2.05" fill="#9c1a22"/>
<circle cx="405.60" cy="66.40" r="2.05" fill="#9c1a22"/>
<circle cx="412.60" cy="66.40" r="2.05" fill="#9c1a22"/>
<circle cx="420.00" cy="72.70" r="2.05" fill="#9c1a22"/>
<circle cx="398.60" cy="74.90" r="2.05" fill="#9c1a22"/>
<circle cx="405.60" cy="76.90" r="2.05" fill="#9c1a22"/>
<circle cx="412.60" cy="76.50" r="2.05" fill="#9c1a22"/>
<circle cx="420.00" cy="77.20" r="2.05" fill="#9c1a22"/>
<circle cx="409.10" cy="82.10" r="2.05" fill="#9c1a22"/>
<rect x="445.10" y="126.10" width="3.80" height="3.80" fill="#3b6fc6"/>
<rect x="452.10" y="126.40" width="3.80" height="3.80" fill="#3b6fc6"/>
<rect x="441.60" y="128.80" width="3.80" height="3.80" fill="#3b6fc6"/>
<rect x="448.60" y="128.80" width="3.80" height="3.80" fill="#3b6fc6"/>
<rect x="434.70" y="131.60" width="3.80" height="3.80" fill="#3b6fc6"/>
<rect x="443.40" y="131.60" width="3.80" height="3.80" fill="#3b6fc6"/>
<rect x="449.50" y="131.40" width="3.80" height="3.80" fill="#3b6fc6"/>
<rect x="455.60" y="131.80" width="3.80" height="3.80" fill="#3b6fc6"/>
<rect x="435.50" y="134.50" width="3.80" height="3.80" fill="#3b6fc6"/>
<rect x="440.80" y="134.70" width="3.80" height="3.80" fill="#3b6fc6"/>
<rect x="447.80" y="134.30" width="3.80" height="3.80" fill="#3b6fc6"/>
<rect x="453.10" y="134.60" width="3.80" height="3.80" fill="#3b6fc6"/>
<rect x="456.50" y="134.50" width="3.80" height="3.80" fill="#3b6fc6"/>
<rect x="436.10" y="137.50" width="3.80" height="3.80" fill="#3b6fc6"/>
<rect x="440.80" y="137.60" width="3.80" height="3.80" fill="#3b6fc6"/>
<rect x="453.10" y="137.50" width="3.80" height="3.80" fill="#3b6fc6"/>
<rect x="455.90" y="137.50" width="3.80" height="3.80" fill="#3b6fc6"/>
<rect x="442.50" y="140.30" width="3.80" height="3.80" fill="#3b6fc6"/>
<rect x="447.80" y="140.50" width="3.80" height="3.80" fill="#3b6fc6"/>
<rect x="452.10" y="140.30" width="3.80" height="3.80" fill="#3b6fc6"/>
<rect x="445.10" y="148.70" width="3.80" height="3.80" fill="#3b6fc6"/>
<rect x="446.40" y="131.70" width="3.80" height="3.80" fill="#3b6fc6"/>
<rect x="444.40" y="135.30" width="3.80" height="3.80" fill="#3b6fc6"/>
<rect x="450.70" y="136.30" width="3.80" height="3.80" fill="#3b6fc6"/>
<rect x="438.40" y="136.00" width="3.80" height="3.80" fill="#3b6fc6"/>
<line x1="443.00" y1="139.40" x2="452.00" y2="139.40" stroke="#e8eefc" stroke-width="0.7"/>
<text x="1.20" y="181.50" font-size="12.5" fill="#111" stroke="#111" stroke-width="0.22" font-weight="bold">C</text>
<line x1="40.00" y1="179.70" x2="40.00" y2="291.20" stroke="#7d7d7d" stroke-width="0.9"/>
<line x1="39.60" y1="290.80" x2="226.75" y2="290.80" stroke="#7d7d7d" stroke-width="0.9"/>
<line x1="37.40" y1="290.80" x2="40.00" y2="290.80" stroke="#7d7d7d" stroke-width="0.8"/>
<text x="32.80" y="293.40" font-size="7.3" fill="#1a1a1a" stroke="#1a1a1a" stroke-width="0.22" text-anchor="end">0</text>
<line x1="37.40" y1="268.64" x2="40.00" y2="268.64" stroke="#7d7d7d" stroke-width="0.8"/>
<text x="32.80" y="271.24" font-size="7.3" fill="#1a1a1a" stroke="#1a1a1a" stroke-width="0.22" text-anchor="end">5</text>
<line x1="37.40" y1="246.48" x2="40.00" y2="246.48" stroke="#7d7d7d" stroke-width="0.8"/>
<text x="32.80" y="249.08" font-size="7.3" fill="#1a1a1a" stroke="#1a1a1a" stroke-width="0.22" text-anchor="end">10</text>
<line x1="37.40" y1="224.32" x2="40.00" y2="224.32" stroke="#7d7d7d" stroke-width="0.8"/>
<text x="32.80" y="226.92" font-size="7.3" fill="#1a1a1a" stroke="#1a1a1a" stroke-width="0.22" text-anchor="end">15</text>
<line x1="37.40" y1="202.16" x2="40.00" y2="202.16" stroke="#7d7d7d" stroke-width="0.8"/>
<text x="32.80" y="204.76" font-size="7.3" fill="#1a1a1a" stroke="#1a1a1a" stroke-width="0.22" text-anchor="end">20</text>
<line x1="37.40" y1="180.00" x2="40.00" y2="180.00" stroke="#7d7d7d" stroke-width="0.8"/>
<text x="32.80" y="182.60" font-size="7.3" fill="#1a1a1a" stroke="#1a1a1a" stroke-width="0.22" text-anchor="end">25</text>
<line x1="40.00" y1="290.80" x2="40.00" y2="293.20" stroke="#7d7d7d" stroke-width="0.8"/>
<text x="40.00" y="301.40" font-size="7.3" fill="#1a1a1a" stroke="#1a1a1a" stroke-width="0.22" text-anchor="middle">0</text>
<line x1="77.25" y1="290.80" x2="77.25" y2="293.20" stroke="#7d7d7d" stroke-width="0.8"/>
<text x="77.25" y="301.40" font-size="7.3" fill="#1a1a1a" stroke="#1a1a1a" stroke-width="0.22" text-anchor="middle">20</text>
<line x1="114.50" y1="290.80" x2="114.50" y2="293.20" stroke="#7d7d7d" stroke-width="0.8"/>
<text x="114.50" y="301.40" font-size="7.3" fill="#1a1a1a" stroke="#1a1a1a" stroke-width="0.22" text-anchor="middle">40</text>
<line x1="151.75" y1="290.80" x2="151.75" y2="293.20" stroke="#7d7d7d" stroke-width="0.8"/>
<text x="151.75" y="301.40" font-size="7.3" fill="#1a1a1a" stroke="#1a1a1a" stroke-width="0.22" text-anchor="middle">60</text>
<line x1="189.00" y1="290.80" x2="189.00" y2="293.20" stroke="#7d7d7d" stroke-width="0.8"/>
<text x="189.00" y="301.40" font-size="7.3" fill="#1a1a1a" stroke="#1a1a1a" stroke-width="0.22" text-anchor="middle">80</text>
<line x1="226.25" y1="290.80" x2="226.25" y2="293.20" stroke="#7d7d7d" stroke-width="0.8"/>
<text x="226.25" y="301.40" font-size="7.3" fill="#1a1a1a" stroke="#1a1a1a" stroke-width="0.22" text-anchor="middle">100</text>
<text x="16.40" y="230.00" font-size="7.3" fill="#1a1a1a" stroke="#1a1a1a" stroke-width="0.22" text-anchor="middle" transform="rotate(-90 16.40 230.00)">OCR (pmol/min/µg)</text>
<text x="131.00" y="312.40" font-size="7.3" fill="#1a1a1a" stroke="#1a1a1a" stroke-width="0.22" text-anchor="middle">Time (minute)</text>
<text x="68.00" y="187.70" font-size="7.3" fill="#1a1a1a" stroke="#1a1a1a" stroke-width="0.22">Oligomycin</text>
<line x1="84.50" y1="202.00" x2="84.50" y2="225.50" stroke="#111" stroke-width="1.25"/>
<polygon points="84.50,230.50 82.00,225.50 87.00,225.50" fill="#111"/>
<text x="113.30" y="203.40" font-size="7.3" fill="#1a1a1a" stroke="#1a1a1a" stroke-width="0.22" textLength="18.80" lengthAdjust="spacingAndGlyphs">FCCP</text>
<line x1="126.80" y1="210.00" x2="126.80" y2="233.00" stroke="#111" stroke-width="1.25"/>
<polygon points="126.80,238.00 124.30,233.00 129.30,233.00" fill="#111"/>
<text x="152.50" y="183.90" font-size="7.3" fill="#1a1a1a" stroke="#1a1a1a" stroke-width="0.22">Rotenone/antimycin A</text>
<line x1="182.50" y1="190.00" x2="182.50" y2="214.50" stroke="#111" stroke-width="1.25"/>
<polygon points="182.50,219.50 180.00,214.50 185.00,214.50" fill="#111"/>
<line x1="42.00" y1="188.00" x2="42.00" y2="212.00" stroke="#757575" stroke-width="1.1"/>
<line x1="40.10" y1="188.00" x2="43.90" y2="188.00" stroke="#757575" stroke-width="1.1"/>
<line x1="40.10" y1="212.00" x2="43.90" y2="212.00" stroke="#757575" stroke-width="1.1"/>
<line x1="59.00" y1="191.30" x2="59.00" y2="215.00" stroke="#757575" stroke-width="1.1"/>
<line x1="57.10" y1="191.30" x2="60.90" y2="191.30" stroke="#757575" stroke-width="1.1"/>
<line x1="57.10" y1="215.00" x2="60.90" y2="215.00" stroke="#757575" stroke-width="1.1"/>
<line x1="75.50" y1="193.30" x2="75.50" y2="217.00" stroke="#757575" stroke-width="1.1"/>
<line x1="73.60" y1="193.30" x2="77.40" y2="193.30" stroke="#757575" stroke-width="1.1"/>
<line x1="73.60" y1="217.00" x2="77.40" y2="217.00" stroke="#757575" stroke-width="1.1"/>
<line x1="92.00" y1="258.80" x2="92.00" y2="267.50" stroke="#757575" stroke-width="1.1"/>
<line x1="90.10" y1="258.80" x2="93.90" y2="258.80" stroke="#757575" stroke-width="1.1"/>
<line x1="90.10" y1="267.50" x2="93.90" y2="267.50" stroke="#757575" stroke-width="1.1"/>
<line x1="108.50" y1="257.00" x2="108.50" y2="267.50" stroke="#757575" stroke-width="1.1"/>
<line x1="106.60" y1="257.00" x2="110.40" y2="257.00" stroke="#757575" stroke-width="1.1"/>
<line x1="106.60" y1="267.50" x2="110.40" y2="267.50" stroke="#757575" stroke-width="1.1"/>
<line x1="125.00" y1="255.00" x2="125.00" y2="266.30" stroke="#757575" stroke-width="1.1"/>
<line x1="123.10" y1="255.00" x2="126.90" y2="255.00" stroke="#757575" stroke-width="1.1"/>
<line x1="123.10" y1="266.30" x2="126.90" y2="266.30" stroke="#757575" stroke-width="1.1"/>
<line x1="141.50" y1="187.50" x2="141.50" y2="210.00" stroke="#757575" stroke-width="1.1"/>
<line x1="139.60" y1="187.50" x2="143.40" y2="187.50" stroke="#757575" stroke-width="1.1"/>
<line x1="139.60" y1="210.00" x2="143.40" y2="210.00" stroke="#757575" stroke-width="1.1"/>
<line x1="158.00" y1="190.00" x2="158.00" y2="213.80" stroke="#757575" stroke-width="1.1"/>
<line x1="156.10" y1="190.00" x2="159.90" y2="190.00" stroke="#757575" stroke-width="1.1"/>
<line x1="156.10" y1="213.80" x2="159.90" y2="213.80" stroke="#757575" stroke-width="1.1"/>
<line x1="174.50" y1="190.00" x2="174.50" y2="214.50" stroke="#757575" stroke-width="1.1"/>
<line x1="172.60" y1="190.00" x2="176.40" y2="190.00" stroke="#757575" stroke-width="1.1"/>
<line x1="172.60" y1="214.50" x2="176.40" y2="214.50" stroke="#757575" stroke-width="1.1"/>
<line x1="191.00" y1="270.00" x2="191.00" y2="278.80" stroke="#757575" stroke-width="1.1"/>
<line x1="189.10" y1="270.00" x2="192.90" y2="270.00" stroke="#757575" stroke-width="1.1"/>
<line x1="189.10" y1="278.80" x2="192.90" y2="278.80" stroke="#757575" stroke-width="1.1"/>
<line x1="207.50" y1="269.50" x2="207.50" y2="278.00" stroke="#757575" stroke-width="1.1"/>
<line x1="205.60" y1="269.50" x2="209.40" y2="269.50" stroke="#757575" stroke-width="1.1"/>
<line x1="205.60" y1="278.00" x2="209.40" y2="278.00" stroke="#757575" stroke-width="1.1"/>
<line x1="224.00" y1="270.50" x2="224.00" y2="279.00" stroke="#757575" stroke-width="1.1"/>
<line x1="222.10" y1="270.50" x2="225.90" y2="270.50" stroke="#757575" stroke-width="1.1"/>
<line x1="222.10" y1="279.00" x2="225.90" y2="279.00" stroke="#757575" stroke-width="1.1"/>
<line x1="42.00" y1="248.00" x2="42.00" y2="252.60" stroke="#a8644e" stroke-width="0.8"/>
<line x1="40.40" y1="248.00" x2="43.60" y2="248.00" stroke="#a8644e" stroke-width="0.8"/>
<line x1="40.40" y1="252.60" x2="43.60" y2="252.60" stroke="#a8644e" stroke-width="0.8"/>
<line x1="59.00" y1="249.70" x2="59.00" y2="254.30" stroke="#a8644e" stroke-width="0.8"/>
<line x1="57.40" y1="249.70" x2="60.60" y2="249.70" stroke="#a8644e" stroke-width="0.8"/>
<line x1="57.40" y1="254.30" x2="60.60" y2="254.30" stroke="#a8644e" stroke-width="0.8"/>
<line x1="75.50" y1="250.70" x2="75.50" y2="255.30" stroke="#a8644e" stroke-width="0.8"/>
<line x1="73.90" y1="250.70" x2="77.10" y2="250.70" stroke="#a8644e" stroke-width="0.8"/>
<line x1="73.90" y1="255.30" x2="77.10" y2="255.30" stroke="#a8644e" stroke-width="0.8"/>
<line x1="92.00" y1="276.30" x2="92.00" y2="278.70" stroke="#a8644e" stroke-width="0.8"/>
<line x1="90.40" y1="276.30" x2="93.60" y2="276.30" stroke="#a8644e" stroke-width="0.8"/>
<line x1="90.40" y1="278.70" x2="93.60" y2="278.70" stroke="#a8644e" stroke-width="0.8"/>
<line x1="108.50" y1="277.00" x2="108.50" y2="279.40" stroke="#a8644e" stroke-width="0.8"/>
<line x1="106.90" y1="277.00" x2="110.10" y2="277.00" stroke="#a8644e" stroke-width="0.8"/>
<line x1="106.90" y1="279.40" x2="110.10" y2="279.40" stroke="#a8644e" stroke-width="0.8"/>
<line x1="125.00" y1="276.80" x2="125.00" y2="279.20" stroke="#a8644e" stroke-width="0.8"/>
<line x1="123.40" y1="276.80" x2="126.60" y2="276.80" stroke="#a8644e" stroke-width="0.8"/>
<line x1="123.40" y1="279.20" x2="126.60" y2="279.20" stroke="#a8644e" stroke-width="0.8"/>
<line x1="141.50" y1="239.00" x2="141.50" y2="243.60" stroke="#a8644e" stroke-width="0.8"/>
<line x1="139.90" y1="239.00" x2="143.10" y2="239.00" stroke="#a8644e" stroke-width="0.8"/>
<line x1="139.90" y1="243.60" x2="143.10" y2="243.60" stroke="#a8644e" stroke-width="0.8"/>
<line x1="158.00" y1="240.20" x2="158.00" y2="244.80" stroke="#a8644e" stroke-width="0.8"/>
<line x1="156.40" y1="240.20" x2="159.60" y2="240.20" stroke="#a8644e" stroke-width="0.8"/>
<line x1="156.40" y1="244.80" x2="159.60" y2="244.80" stroke="#a8644e" stroke-width="0.8"/>
<line x1="174.50" y1="241.70" x2="174.50" y2="246.30" stroke="#a8644e" stroke-width="0.8"/>
<line x1="172.90" y1="241.70" x2="176.10" y2="241.70" stroke="#a8644e" stroke-width="0.8"/>
<line x1="172.90" y1="246.30" x2="176.10" y2="246.30" stroke="#a8644e" stroke-width="0.8"/>
<line x1="191.00" y1="281.80" x2="191.00" y2="284.20" stroke="#a8644e" stroke-width="0.8"/>
<line x1="189.40" y1="281.80" x2="192.60" y2="281.80" stroke="#a8644e" stroke-width="0.8"/>
<line x1="189.40" y1="284.20" x2="192.60" y2="284.20" stroke="#a8644e" stroke-width="0.8"/>
<line x1="207.50" y1="281.80" x2="207.50" y2="284.20" stroke="#a8644e" stroke-width="0.8"/>
<line x1="205.90" y1="281.80" x2="209.10" y2="281.80" stroke="#a8644e" stroke-width="0.8"/>
<line x1="205.90" y1="284.20" x2="209.10" y2="284.20" stroke="#a8644e" stroke-width="0.8"/>
<line x1="224.00" y1="282.30" x2="224.00" y2="284.70" stroke="#a8644e" stroke-width="0.8"/>
<line x1="222.40" y1="282.30" x2="225.60" y2="282.30" stroke="#a8644e" stroke-width="0.8"/>
<line x1="222.40" y1="284.70" x2="225.60" y2="284.70" stroke="#a8644e" stroke-width="0.8"/>
<polyline fill="none" stroke="#3c71ba" stroke-width="1.5" stroke-linejoin="round" points="42,199.5 59,203.5 75.5,205 92,263 108.5,262 125,260.8 141.5,199 158,202 174.5,202.5 191,274.5 207.5,273.8 224,275"/>
<polyline fill="none" stroke="#c4262e" stroke-width="1.5" stroke-linejoin="round" points="42,250.3 59,252 75.5,253 92,277.5 108.5,278.2 125,278 141.5,241.3 158,242.5 174.5,244 191,283 207.5,283 224,283.5"/>
<circle cx="42.00" cy="199.50" r="2.8" fill="#3c71ba"/>
<circle cx="59.00" cy="203.50" r="2.8" fill="#3c71ba"/>
<circle cx="75.50" cy="205.00" r="2.8" fill="#3c71ba"/>
<circle cx="92.00" cy="263.00" r="2.8" fill="#3c71ba"/>
<circle cx="108.50" cy="262.00" r="2.8" fill="#3c71ba"/>
<circle cx="125.00" cy="260.80" r="2.8" fill="#3c71ba"/>
<circle cx="141.50" cy="199.00" r="2.8" fill="#3c71ba"/>
<circle cx="158.00" cy="202.00" r="2.8" fill="#3c71ba"/>
<circle cx="174.50" cy="202.50" r="2.8" fill="#3c71ba"/>
<circle cx="191.00" cy="274.50" r="2.8" fill="#3c71ba"/>
<circle cx="207.50" cy="273.80" r="2.8" fill="#3c71ba"/>
<circle cx="224.00" cy="275.00" r="2.8" fill="#3c71ba"/>
<circle cx="42.00" cy="250.30" r="2.35" fill="#c4262e"/>
<circle cx="59.00" cy="252.00" r="2.35" fill="#c4262e"/>
<circle cx="75.50" cy="253.00" r="2.35" fill="#c4262e"/>
<circle cx="92.00" cy="277.50" r="2.35" fill="#c4262e"/>
<circle cx="108.50" cy="278.20" r="2.35" fill="#c4262e"/>
<circle cx="125.00" cy="278.00" r="2.35" fill="#c4262e"/>
<circle cx="141.50" cy="241.30" r="2.35" fill="#c4262e"/>
<circle cx="158.00" cy="242.50" r="2.35" fill="#c4262e"/>
<circle cx="174.50" cy="244.00" r="2.35" fill="#c4262e"/>
<circle cx="191.00" cy="283.00" r="2.35" fill="#c4262e"/>
<circle cx="207.50" cy="283.00" r="2.35" fill="#c4262e"/>
<circle cx="224.00" cy="283.50" r="2.35" fill="#c4262e"/>
<circle cx="195.00" cy="226.30" r="2.7" fill="#c4262e"/>
<text x="202.00" y="228.90" font-size="7.3" fill="#1a1a1a" stroke="#1a1a1a" stroke-width="0.22">WT</text>
<circle cx="195.00" cy="237.60" r="2.7" fill="#3c71ba"/>
<text x="202.00" y="240.20" font-size="7.3" fill="#1a1a1a" stroke="#1a1a1a" stroke-width="0.22">CBFB_KO</text>
<text x="253.50" y="181.50" font-size="12.5" fill="#111" stroke="#111" stroke-width="0.22" font-weight="bold">D</text>
<line x1="279.50" y1="184.60" x2="279.50" y2="291.30" stroke="#111" stroke-width="1.1"/>
<line x1="279.00" y1="290.80" x2="385.80" y2="290.80" stroke="#111" stroke-width="1.1"/>
<line x1="276.90" y1="290.80" x2="279.50" y2="290.80" stroke="#111" stroke-width="0.9"/>
<text x="276.60" y="293.40" font-size="7.3" fill="#1a1a1a" stroke="#1a1a1a" stroke-width="0.22" text-anchor="end">0</text>
<line x1="276.90" y1="269.64" x2="279.50" y2="269.64" stroke="#111" stroke-width="0.9"/>
<text x="276.60" y="272.24" font-size="7.3" fill="#1a1a1a" stroke="#1a1a1a" stroke-width="0.22" text-anchor="end">5</text>
<line x1="276.90" y1="248.48" x2="279.50" y2="248.48" stroke="#111" stroke-width="0.9"/>
<text x="276.60" y="251.08" font-size="7.3" fill="#1a1a1a" stroke="#1a1a1a" stroke-width="0.22" text-anchor="end">10</text>
<line x1="276.90" y1="227.32" x2="279.50" y2="227.32" stroke="#111" stroke-width="0.9"/>
<text x="276.60" y="229.92" font-size="7.3" fill="#1a1a1a" stroke="#1a1a1a" stroke-width="0.22" text-anchor="end">15</text>
<line x1="276.90" y1="206.16" x2="279.50" y2="206.16" stroke="#111" stroke-width="0.9"/>
<text x="276.60" y="208.76" font-size="7.3" fill="#1a1a1a" stroke="#1a1a1a" stroke-width="0.22" text-anchor="end">20</text>
<line x1="276.90" y1="185.00" x2="279.50" y2="185.00" stroke="#111" stroke-width="0.9"/>
<text x="276.60" y="187.60" font-size="7.3" fill="#1a1a1a" stroke="#1a1a1a" stroke-width="0.22" text-anchor="end">25</text>
<text x="261.40" y="245.00" font-size="7.3" fill="#1a1a1a" stroke="#1a1a1a" stroke-width="0.22" text-anchor="middle" transform="rotate(-90 261.40 245.00)">OCR (pmol/min/µg)</text>
<rect x="288.00" y="262.00" width="17.80" height="28.80" fill="#b3282f"/>
<rect x="305.80" y="224.30" width="18.00" height="66.50" fill="#2f74c4"/>
<rect x="341.30" y="280.50" width="18.00" height="10.30" fill="#b3282f"/>
<line x1="297.00" y1="255.80" x2="297.00" y2="268.00" stroke="#222" stroke-width="0.8"/>
<line x1="294.00" y1="255.80" x2="300.00" y2="255.80" stroke="#222" stroke-width="0.8"/>
<line x1="294.00" y1="268.00" x2="300.00" y2="268.00" stroke="#222" stroke-width="0.8"/>
<line x1="315.00" y1="208.30" x2="315.00" y2="239.50" stroke="#222" stroke-width="0.8"/>
<line x1="312.00" y1="208.30" x2="318.00" y2="208.30" stroke="#222" stroke-width="0.8"/>
<line x1="312.00" y1="239.50" x2="318.00" y2="239.50" stroke="#222" stroke-width="0.8"/>
<line x1="350.00" y1="277.00" x2="350.00" y2="283.80" stroke="#222" stroke-width="0.8"/>
<line x1="347.00" y1="277.00" x2="353.00" y2="277.00" stroke="#222" stroke-width="0.8"/>
<line x1="347.00" y1="283.80" x2="353.00" y2="283.80" stroke="#222" stroke-width="0.8"/>
<circle cx="297.00" cy="255.80" r="1.5" fill="#111"/>
<circle cx="297.00" cy="262.00" r="1.5" fill="#111"/>
<circle cx="297.00" cy="267.00" r="1.5" fill="#111"/>
<rect x="313.50" y="205.30" width="3.00" height="3.00" fill="#111"/>
<rect x="313.50" y="229.50" width="3.00" height="3.00" fill="#111"/>
<rect x="313.50" y="233.00" width="3.00" height="3.00" fill="#111"/>
<circle cx="347.00" cy="281.80" r="1.4" fill="#111"/>
<circle cx="350.00" cy="277.60" r="1.4" fill="#111"/>
<circle cx="353.00" cy="281.80" r="1.4" fill="#111"/>
<rect x="358.80" y="289.10" width="3.00" height="3.00" fill="#111"/>
<rect x="366.00" y="288.90" width="3.00" height="3.00" fill="#111"/>
<rect x="372.80" y="288.90" width="3.00" height="3.00" fill="#111"/>
<text x="309.00" y="185.10" font-size="7.3" fill="#1a1a1a" stroke="#1a1a1a" stroke-width="0.22" text-anchor="middle">0.017</text>
<line x1="301.30" y1="188.50" x2="317.50" y2="188.50" stroke="#222" stroke-width="1.0"/>
<text x="347.00" y="259.30" font-size="7.3" fill="#1a1a1a" stroke="#1a1a1a" stroke-width="0.22" textLength="29.30" lengthAdjust="spacingAndGlyphs"><tspan font-style="italic">P</tspan> = 0.001</text>
<line x1="357.00" y1="262.50" x2="372.00" y2="262.50" stroke="#222" stroke-width="1.0"/>
<rect x="347.00" y="190.60" width="4.60" height="5.20" fill="#b3282f"/>
<text x="352.60" y="195.70" font-size="7.3" fill="#1a1a1a" stroke="#1a1a1a" stroke-width="0.22">WT</text>
<rect x="347.00" y="201.20" width="4.60" height="5.20" fill="#2f74c4"/>
<text x="352.60" y="206.40" font-size="7.3" fill="#1a1a1a" stroke="#1a1a1a" stroke-width="0.22">CBFB_KO</text>
<text x="304.50" y="301.40" font-size="7.3" fill="#1a1a1a" stroke="#1a1a1a" stroke-width="0.22" text-anchor="middle">Basal</text>
<text x="304.50" y="310.60" font-size="7.3" fill="#1a1a1a" stroke="#1a1a1a" stroke-width="0.22" text-anchor="middle">respiration</text>
<text x="359.30" y="301.40" font-size="7.3" fill="#1a1a1a" stroke="#1a1a1a" stroke-width="0.22" text-anchor="middle">Spare</text>
<text x="359.30" y="310.60" font-size="7.3" fill="#1a1a1a" stroke="#1a1a1a" stroke-width="0.22" text-anchor="middle">respiratory</text>
<text x="403.50" y="182.00" font-size="12.5" fill="#111" stroke="#111" stroke-width="0.22" font-weight="bold">E</text>
<line x1="428.30" y1="191.34" x2="428.30" y2="291.00" stroke="#111" stroke-width="1.1"/>
<line x1="427.80" y1="290.50" x2="495.00" y2="290.50" stroke="#111" stroke-width="1.1"/>
<line x1="425.50" y1="290.50" x2="428.30" y2="290.50" stroke="#111" stroke-width="0.9"/>
<text x="424.50" y="293.10" font-size="7.3" fill="#1a1a1a" stroke="#1a1a1a" stroke-width="0.22" text-anchor="end">0.4</text>
<line x1="425.50" y1="257.58" x2="428.30" y2="257.58" stroke="#111" stroke-width="0.9"/>
<text x="424.50" y="260.18" font-size="7.3" fill="#1a1a1a" stroke="#1a1a1a" stroke-width="0.22" text-anchor="end">0.5</text>
<line x1="425.50" y1="224.66" x2="428.30" y2="224.66" stroke="#111" stroke-width="0.9"/>
<text x="424.50" y="227.26" font-size="7.3" fill="#1a1a1a" stroke="#1a1a1a" stroke-width="0.22" text-anchor="end">0.6</text>
<line x1="425.50" y1="191.74" x2="428.30" y2="191.74" stroke="#111" stroke-width="0.9"/>
<text x="424.50" y="194.34" font-size="7.3" fill="#1a1a1a" stroke="#1a1a1a" stroke-width="0.22" text-anchor="end">0.7</text>
<text x="408.20" y="237.60" font-size="7.45" fill="#1a1a1a" stroke="#1a1a1a" stroke-width="0.22" text-anchor="middle" transform="rotate(-90 408.20 237.60)">ATP (UM/ug protein)</text>
<rect x="438.30" y="211.80" width="18.50" height="78.70" fill="#b3282f"/>
<rect x="466.30" y="256.80" width="18.70" height="33.70" fill="#2f74c4"/>
<line x1="447.50" y1="199.30" x2="447.50" y2="223.80" stroke="#222" stroke-width="0.8"/>
<line x1="444.30" y1="199.30" x2="450.70" y2="199.30" stroke="#222" stroke-width="0.8"/>
<line x1="444.30" y1="223.80" x2="450.70" y2="223.80" stroke="#222" stroke-width="0.8"/>
<line x1="475.80" y1="236.80" x2="475.80" y2="276.30" stroke="#222" stroke-width="0.8"/>
<line x1="472.60" y1="236.80" x2="479.00" y2="236.80" stroke="#222" stroke-width="0.8"/>
<line x1="472.60" y1="276.30" x2="479.00" y2="276.30" stroke="#222" stroke-width="0.8"/>
<circle cx="447.50" cy="198.00" r="1.5" fill="#111"/>
<circle cx="444.50" cy="219.50" r="1.5" fill="#111"/>
<circle cx="450.50" cy="218.00" r="1.5" fill="#111"/>
<rect x="474.30" y="233.50" width="3.00" height="3.00" fill="#111"/>
<rect x="474.30" y="259.30" width="3.00" height="3.00" fill="#111"/>
<rect x="474.30" y="271.80" width="3.00" height="3.00" fill="#111"/>
<text x="469.30" y="190.80" font-size="7.3" fill="#1a1a1a" stroke="#1a1a1a" stroke-width="0.22" text-anchor="middle">0.02</text>
<line x1="455.50" y1="196.50" x2="482.50" y2="196.50" stroke="#222" stroke-width="1.0"/>
<rect x="477.50" y="205.40" width="4.00" height="4.80" fill="#b3282f"/>
<text x="484.50" y="210.40" font-size="7.3" fill="#1a1a1a" stroke="#1a1a1a" stroke-width="0.22">WT</text>
<rect x="477.50" y="215.40" width="4.00" height="4.80" fill="#2f74c4"/>
<text x="484.50" y="220.60" font-size="7.3" fill="#1a1a1a" stroke="#1a1a1a" stroke-width="0.22">CBFB_KO</text>
<text x="447.50" y="301.40" font-size="7.3" fill="#1a1a1a" stroke="#1a1a1a" stroke-width="0.22" text-anchor="middle">WT</text>
<text x="477.50" y="301.40" font-size="7.3" fill="#1a1a1a" stroke="#1a1a1a" stroke-width="0.22" text-anchor="middle">KO</text>
<text x="2.30" y="334.00" font-size="12.5" fill="#111" stroke="#111" stroke-width="0.22" font-weight="bold">F</text>
<rect x="62.5" y="335.6" width="100.5" height="99.89999999999998" fill="#fff" stroke="#777" stroke-width="0.8"/>
<line x1="59.70" y1="434.60" x2="62.50" y2="434.60" stroke="#333" stroke-width="0.8"/>
<text x="58.50" y="437.10" font-size="7.0" fill="#1a1a1a" stroke="#1a1a1a" stroke-width="0.22" text-anchor="end">0</text>
<line x1="61.20" y1="429.05" x2="62.50" y2="429.05" stroke="#555" stroke-width="0.5"/>
<line x1="61.20" y1="423.49" x2="62.50" y2="423.49" stroke="#555" stroke-width="0.5"/>
<line x1="61.20" y1="417.94" x2="62.50" y2="417.94" stroke="#555" stroke-width="0.5"/>
<line x1="61.20" y1="412.39" x2="62.50" y2="412.39" stroke="#555" stroke-width="0.5"/>
<line x1="59.70" y1="406.83" x2="62.50" y2="406.83" stroke="#333" stroke-width="0.8"/>
<text x="58.50" y="409.33" font-size="7.0" fill="#1a1a1a" stroke="#1a1a1a" stroke-width="0.22" text-anchor="end">100</text>
<line x1="61.20" y1="401.28" x2="62.50" y2="401.28" stroke="#555" stroke-width="0.5"/>
<line x1="61.20" y1="395.73" x2="62.50" y2="395.73" stroke="#555" stroke-width="0.5"/>
<line x1="61.20" y1="390.17" x2="62.50" y2="390.17" stroke="#555" stroke-width="0.5"/>
<line x1="61.20" y1="384.62" x2="62.50" y2="384.62" stroke="#555" stroke-width="0.5"/>
<line x1="59.70" y1="379.07" x2="62.50" y2="379.07" stroke="#333" stroke-width="0.8"/>
<text x="58.50" y="381.57" font-size="7.0" fill="#1a1a1a" stroke="#1a1a1a" stroke-width="0.22" text-anchor="end">200</text>
<line x1="61.20" y1="373.51" x2="62.50" y2="373.51" stroke="#555" stroke-width="0.5"/>
<line x1="61.20" y1="367.96" x2="62.50" y2="367.96" stroke="#555" stroke-width="0.5"/>
<line x1="61.20" y1="362.41" x2="62.50" y2="362.41" stroke="#555" stroke-width="0.5"/>
<line x1="61.20" y1="356.85" x2="62.50" y2="356.85" stroke="#555" stroke-width="0.5"/>
<line x1="59.70" y1="351.30" x2="62.50" y2="351.30" stroke="#333" stroke-width="0.8"/>
<text x="58.50" y="353.80" font-size="7.0" fill="#1a1a1a" stroke="#1a1a1a" stroke-width="0.22" text-anchor="end">300</text>
<text x="39.40" y="383.80" font-size="7.0" fill="#1a1a1a" stroke="#1a1a1a" stroke-width="0.22" text-anchor="middle" transform="rotate(-90 39.40 383.80)">Counts</text>
<line x1="73.20" y1="435.50" x2="73.20" y2="438.10" stroke="#333" stroke-width="0.8"/>
<text x="69.60" y="445.90" font-size="7.0" fill="#1a1a1a" stroke="#1a1a1a" stroke-width="0.22">10</text>
<text x="77.50" y="442.30" font-size="4.2" fill="#1a1a1a" stroke="#1a1a1a" stroke-width="0.22">1</text>
<line x1="79.22" y1="435.50" x2="79.22" y2="436.80" stroke="#555" stroke-width="0.5"/>
<line x1="82.74" y1="435.50" x2="82.74" y2="436.80" stroke="#555" stroke-width="0.5"/>
<line x1="85.24" y1="435.50" x2="85.24" y2="436.80" stroke="#555" stroke-width="0.5"/>
<line x1="87.18" y1="435.50" x2="87.18" y2="436.80" stroke="#555" stroke-width="0.5"/>
<line x1="88.76" y1="435.50" x2="88.76" y2="436.80" stroke="#555" stroke-width="0.5"/>
<line x1="90.10" y1="435.50" x2="90.10" y2="436.80" stroke="#555" stroke-width="0.5"/>
<line x1="91.26" y1="435.50" x2="91.26" y2="436.80" stroke="#555" stroke-width="0.5"/>
<line x1="92.28" y1="435.50" x2="92.28" y2="436.80" stroke="#555" stroke-width="0.5"/>
<line x1="93.20" y1="435.50" x2="93.20" y2="438.10" stroke="#333" stroke-width="0.8"/>
<text x="89.60" y="445.90" font-size="7.0" fill="#1a1a1a" stroke="#1a1a1a" stroke-width="0.22">10</text>
<text x="97.50" y="442.30" font-size="4.2" fill="#1a1a1a" stroke="#1a1a1a" stroke-width="0.22">2</text>
<line x1="99.22" y1="435.50" x2="99.22" y2="436.80" stroke="#555" stroke-width="0.5"/>
<line x1="102.74" y1="435.50" x2="102.74" y2="436.80" stroke="#555" stroke-width="0.5"/>
<line x1="105.24" y1="435.50" x2="105.24" y2="436.80" stroke="#555" stroke-width="0.5"/>
<line x1="107.18" y1="435.50" x2="107.18" y2="436.80" stroke="#555" stroke-width="0.5"/>
<line x1="108.76" y1="435.50" x2="108.76" y2="436.80" stroke="#555" stroke-width="0.5"/>
<line x1="110.10" y1="435.50" x2="110.10" y2="436.80" stroke="#555" stroke-width="0.5"/>
<line x1="111.26" y1="435.50" x2="111.26" y2="436.80" stroke="#555" stroke-width="0.5"/>
<line x1="112.28" y1="435.50" x2="112.28" y2="436.80" stroke="#555" stroke-width="0.5"/>
<line x1="113.20" y1="435.50" x2="113.20" y2="438.10" stroke="#333" stroke-width="0.8"/>
<text x="109.60" y="445.90" font-size="7.0" fill="#1a1a1a" stroke="#1a1a1a" stroke-width="0.22">10</text>
<text x="117.50" y="442.30" font-size="4.2" fill="#1a1a1a" stroke="#1a1a1a" stroke-width="0.22">3</text>
<line x1="119.22" y1="435.50" x2="119.22" y2="436.80" stroke="#555" stroke-width="0.5"/>
<line x1="122.74" y1="435.50" x2="122.74" y2="436.80" stroke="#555" stroke-width="0.5"/>
<line x1="125.24" y1="435.50" x2="125.24" y2="436.80" stroke="#555" stroke-width="0.5"/>
<line x1="127.18" y1="435.50" x2="127.18" y2="436.80" stroke="#555" stroke-width="0.5"/>
<line x1="128.76" y1="435.50" x2="128.76" y2="436.80" stroke="#555" stroke-width="0.5"/>
<line x1="130.10" y1="435.50" x2="130.10" y2="436.80" stroke="#555" stroke-width="0.5"/>
<line x1="131.26" y1="435.50" x2="131.26" y2="436.80" stroke="#555" stroke-width="0.5"/>
<line x1="132.28" y1="435.50" x2="132.28" y2="436.80" stroke="#555" stroke-width="0.5"/>
<line x1="133.20" y1="435.50" x2="133.20" y2="438.10" stroke="#333" stroke-width="0.8"/>
<text x="129.60" y="445.90" font-size="7.0" fill="#1a1a1a" stroke="#1a1a1a" stroke-width="0.22">10</text>
<text x="137.50" y="442.30" font-size="4.2" fill="#1a1a1a" stroke="#1a1a1a" stroke-width="0.22">4</text>
<line x1="139.22" y1="435.50" x2="139.22" y2="436.80" stroke="#555" stroke-width="0.5"/>
<line x1="142.74" y1="435.50" x2="142.74" y2="436.80" stroke="#555" stroke-width="0.5"/>
<line x1="145.24" y1="435.50" x2="145.24" y2="436.80" stroke="#555" stroke-width="0.5"/>
<line x1="147.18" y1="435.50" x2="147.18" y2="436.80" stroke="#555" stroke-width="0.5"/>
<line x1="148.76" y1="435.50" x2="148.76" y2="436.80" stroke="#555" stroke-width="0.5"/>
<line x1="150.10" y1="435.50" x2="150.10" y2="436.80" stroke="#555" stroke-width="0.5"/>
<line x1="151.26" y1="435.50" x2="151.26" y2="436.80" stroke="#555" stroke-width="0.5"/>
<line x1="152.28" y1="435.50" x2="152.28" y2="436.80" stroke="#555" stroke-width="0.5"/>
<line x1="153.20" y1="435.50" x2="153.20" y2="438.10" stroke="#333" stroke-width="0.8"/>
<text x="149.60" y="445.90" font-size="7.0" fill="#1a1a1a" stroke="#1a1a1a" stroke-width="0.22">10</text>
<text x="157.50" y="442.30" font-size="4.2" fill="#1a1a1a" stroke="#1a1a1a" stroke-width="0.22">5</text>
<line x1="159.22" y1="435.50" x2="159.22" y2="436.80" stroke="#555" stroke-width="0.5"/>
<line x1="162.74" y1="435.50" x2="162.74" y2="436.80" stroke="#555" stroke-width="0.5"/>
<line x1="62.74" y1="435.50" x2="62.74" y2="436.80" stroke="#555" stroke-width="0.5"/>
<line x1="65.24" y1="435.50" x2="65.24" y2="436.80" stroke="#555" stroke-width="0.5"/>
<line x1="67.18" y1="435.50" x2="67.18" y2="436.80" stroke="#555" stroke-width="0.5"/>
<line x1="68.76" y1="435.50" x2="68.76" y2="436.80" stroke="#555" stroke-width="0.5"/>
<line x1="70.10" y1="435.50" x2="70.10" y2="436.80" stroke="#555" stroke-width="0.5"/>
<line x1="71.26" y1="435.50" x2="71.26" y2="436.80" stroke="#555" stroke-width="0.5"/>
<line x1="72.28" y1="435.50" x2="72.28" y2="436.80" stroke="#555" stroke-width="0.5"/>
<text x="115.50" y="453.80" font-size="7.2" fill="#1a1a1a" stroke="#1a1a1a" stroke-width="0.22" text-anchor="middle">DCFDA</text>
<path fill="none" stroke="#3f7fc4" stroke-width="0.95" stroke-linejoin="round" d="M66.0 434.7 C69.2 434.7 81.3 434.7 85.0 434.5 C88.7 434.3 87.2 433.8 88.0 433.5 C88.8 433.2 89.3 432.7 90.0 432.8 C90.7 432.8 91.2 433.5 92.0 433.8 C92.8 434.0 93.7 434.5 95.0 434.5 C96.3 434.5 98.5 434.2 100.0 433.5 C101.5 432.8 102.5 432.2 103.8 430.0 C105.0 427.8 106.2 424.9 107.5 420.0 C108.8 415.1 110.2 406.2 111.2 400.5 C112.3 394.8 113.0 389.9 113.8 385.5 C114.5 381.1 115.4 376.7 116.0 374.0 C116.6 371.3 117.0 369.4 117.5 369.2 C118.0 369.1 118.4 371.5 119.0 373.2 C119.6 375.0 120.4 377.5 121.0 379.5 C121.6 381.5 121.9 382.8 122.5 385.5 C123.1 388.2 123.8 391.3 124.5 395.5 C125.2 399.7 126.1 405.6 127.0 410.5 C127.9 415.4 129.1 421.5 130.0 425.0 C130.9 428.5 131.7 429.9 132.5 431.5 C133.3 433.1 130.8 434.2 135.0 434.8 C139.2 435.3 154.2 434.7 158.0 434.7"/>
<path fill="none" stroke="#c8323a" stroke-width="0.95" stroke-linejoin="round" d="M66.0 434.7 C70.0 434.7 84.8 434.7 90.0 434.8 C95.2 434.8 95.6 435.0 97.5 434.8 C99.4 434.5 100.2 434.7 101.2 433.5 C102.3 432.3 102.9 431.0 103.8 427.5 C104.6 424.0 105.4 419.6 106.2 412.5 C107.1 405.4 108.1 393.1 108.8 385.0 C109.4 376.9 109.8 370.6 110.2 363.8 C110.8 356.9 111.3 345.6 111.8 343.8 C112.2 341.9 112.5 347.9 113.0 352.5 C113.5 357.1 114.2 364.2 115.0 371.2 C115.8 378.3 116.7 387.7 117.5 395.0 C118.3 402.3 119.2 409.6 120.0 415.0 C120.8 420.4 121.6 424.4 122.5 427.5 C123.4 430.6 124.2 432.5 125.5 433.8 C126.8 435.0 125.9 434.6 130.0 434.8 C134.1 434.9 146.7 434.7 150.0 434.7"/>
<line x1="130.50" y1="345.00" x2="139.50" y2="345.00" stroke="#c8323a" stroke-width="1.1"/>
<text x="143.80" y="347.60" font-size="7.3" fill="#1a1a1a" stroke="#1a1a1a" stroke-width="0.22">WT</text>
<line x1="130.50" y1="356.30" x2="139.50" y2="356.30" stroke="#3f7fc4" stroke-width="1.1"/>
<text x="143.80" y="358.90" font-size="7.3" fill="#1a1a1a" stroke="#1a1a1a" stroke-width="0.22">KO</text>
<rect x="62.5" y="461.3" width="100.5" height="99.90000000000003" fill="#fff" stroke="#777" stroke-width="0.8"/>
<line x1="59.70" y1="560.20" x2="62.50" y2="560.20" stroke="#333" stroke-width="0.8"/>
<text x="58.50" y="562.70" font-size="7.0" fill="#1a1a1a" stroke="#1a1a1a" stroke-width="0.22" text-anchor="end">0</text>
<line x1="61.20" y1="556.42" x2="62.50" y2="556.42" stroke="#555" stroke-width="0.5"/>
<line x1="61.20" y1="552.63" x2="62.50" y2="552.63" stroke="#555" stroke-width="0.5"/>
<line x1="61.20" y1="548.85" x2="62.50" y2="548.85" stroke="#555" stroke-width="0.5"/>
<line x1="61.20" y1="545.06" x2="62.50" y2="545.06" stroke="#555" stroke-width="0.5"/>
<line x1="59.70" y1="541.28" x2="62.50" y2="541.28" stroke="#333" stroke-width="0.8"/>
<text x="58.50" y="543.78" font-size="7.0" fill="#1a1a1a" stroke="#1a1a1a" stroke-width="0.22" text-anchor="end">100</text>
<line x1="61.20" y1="537.50" x2="62.50" y2="537.50" stroke="#555" stroke-width="0.5"/>
<line x1="61.20" y1="533.71" x2="62.50" y2="533.71" stroke="#555" stroke-width="0.5"/>
<line x1="61.20" y1="529.93" x2="62.50" y2="529.93" stroke="#555" stroke-width="0.5"/>
<line x1="61.20" y1="526.14" x2="62.50" y2="526.14" stroke="#555" stroke-width="0.5"/>
<line x1="59.70" y1="522.36" x2="62.50" y2="522.36" stroke="#333" stroke-width="0.8"/>
<text x="58.50" y="524.86" font-size="7.0" fill="#1a1a1a" stroke="#1a1a1a" stroke-width="0.22" text-anchor="end">200</text>
<line x1="61.20" y1="518.58" x2="62.50" y2="518.58" stroke="#555" stroke-width="0.5"/>
<line x1="61.20" y1="514.79" x2="62.50" y2="514.79" stroke="#555" stroke-width="0.5"/>
<line x1="61.20" y1="511.01" x2="62.50" y2="511.01" stroke="#555" stroke-width="0.5"/>
<line x1="61.20" y1="507.22" x2="62.50" y2="507.22" stroke="#555" stroke-width="0.5"/>
<line x1="59.70" y1="503.44" x2="62.50" y2="503.44" stroke="#333" stroke-width="0.8"/>
<text x="58.50" y="505.94" font-size="7.0" fill="#1a1a1a" stroke="#1a1a1a" stroke-width="0.22" text-anchor="end">300</text>
<line x1="61.20" y1="499.66" x2="62.50" y2="499.66" stroke="#555" stroke-width="0.5"/>
<line x1="61.20" y1="495.87" x2="62.50" y2="495.87" stroke="#555" stroke-width="0.5"/>
<line x1="61.20" y1="492.09" x2="62.50" y2="492.09" stroke="#555" stroke-width="0.5"/>
<line x1="61.20" y1="488.30" x2="62.50" y2="488.30" stroke="#555" stroke-width="0.5"/>
<line x1="59.70" y1="484.52" x2="62.50" y2="484.52" stroke="#333" stroke-width="0.8"/>
<text x="58.50" y="487.02" font-size="7.0" fill="#1a1a1a" stroke="#1a1a1a" stroke-width="0.22" text-anchor="end">400</text>
<line x1="61.20" y1="480.74" x2="62.50" y2="480.74" stroke="#555" stroke-width="0.5"/>
<line x1="61.20" y1="476.95" x2="62.50" y2="476.95" stroke="#555" stroke-width="0.5"/>
<line x1="61.20" y1="473.17" x2="62.50" y2="473.17" stroke="#555" stroke-width="0.5"/>
<line x1="61.20" y1="469.38" x2="62.50" y2="469.38" stroke="#555" stroke-width="0.5"/>
<line x1="59.70" y1="465.60" x2="62.50" y2="465.60" stroke="#333" stroke-width="0.8"/>
<text x="58.50" y="468.10" font-size="7.0" fill="#1a1a1a" stroke="#1a1a1a" stroke-width="0.22" text-anchor="end">500</text>
<text x="39.40" y="512.50" font-size="7.0" fill="#1a1a1a" stroke="#1a1a1a" stroke-width="0.22" text-anchor="middle" transform="rotate(-90 39.40 512.50)">Counts</text>
<line x1="73.20" y1="561.20" x2="73.20" y2="563.80" stroke="#333" stroke-width="0.8"/>
<text x="69.60" y="571.60" font-size="7.0" fill="#1a1a1a" stroke="#1a1a1a" stroke-width="0.22">10</text>
<text x="77.50" y="568.00" font-size="4.2" fill="#1a1a1a" stroke="#1a1a1a" stroke-width="0.22">1</text>
<line x1="79.22" y1="561.20" x2="79.22" y2="562.50" stroke="#555" stroke-width="0.5"/>
<line x1="82.74" y1="561.20" x2="82.74" y2="562.50" stroke="#555" stroke-width="0.5"/>
<line x1="85.24" y1="561.20" x2="85.24" y2="562.50" stroke="#555" stroke-width="0.5"/>
<line x1="87.18" y1="561.20" x2="87.18" y2="562.50" stroke="#555" stroke-width="0.5"/>
<line x1="88.76" y1="561.20" x2="88.76" y2="562.50" stroke="#555" stroke-width="0.5"/>
<line x1="90.10" y1="561.20" x2="90.10" y2="562.50" stroke="#555" stroke-width="0.5"/>
<line x1="91.26" y1="561.20" x2="91.26" y2="562.50" stroke="#555" stroke-width="0.5"/>
<line x1="92.28" y1="561.20" x2="92.28" y2="562.50" stroke="#555" stroke-width="0.5"/>
<line x1="93.20" y1="561.20" x2="93.20" y2="563.80" stroke="#333" stroke-width="0.8"/>
<text x="89.60" y="571.60" font-size="7.0" fill="#1a1a1a" stroke="#1a1a1a" stroke-width="0.22">10</text>
<text x="97.50" y="568.00" font-size="4.2" fill="#1a1a1a" stroke="#1a1a1a" stroke-width="0.22">2</text>
<line x1="99.22" y1="561.20" x2="99.22" y2="562.50" stroke="#555" stroke-width="0.5"/>
<line x1="102.74" y1="561.20" x2="102.74" y2="562.50" stroke="#555" stroke-width="0.5"/>
<line x1="105.24" y1="561.20" x2="105.24" y2="562.50" stroke="#555" stroke-width="0.5"/>
<line x1="107.18" y1="561.20" x2="107.18" y2="562.50" stroke="#555" stroke-width="0.5"/>
<line x1="108.76" y1="561.20" x2="108.76" y2="562.50" stroke="#555" stroke-width="0.5"/>
<line x1="110.10" y1="561.20" x2="110.10" y2="562.50" stroke="#555" stroke-width="0.5"/>
<line x1="111.26" y1="561.20" x2="111.26" y2="562.50" stroke="#555" stroke-width="0.5"/>
<line x1="112.28" y1="561.20" x2="112.28" y2="562.50" stroke="#555" stroke-width="0.5"/>
<line x1="113.20" y1="561.20" x2="113.20" y2="563.80" stroke="#333" stroke-width="0.8"/>
<text x="109.60" y="571.60" font-size="7.0" fill="#1a1a1a" stroke="#1a1a1a" stroke-width="0.22">10</text>
<text x="117.50" y="568.00" font-size="4.2" fill="#1a1a1a" stroke="#1a1a1a" stroke-width="0.22">3</text>
<line x1="119.22" y1="561.20" x2="119.22" y2="562.50" stroke="#555" stroke-width="0.5"/>
<line x1="122.74" y1="561.20" x2="122.74" y2="562.50" stroke="#555" stroke-width="0.5"/>
<line x1="125.24" y1="561.20" x2="125.24" y2="562.50" stroke="#555" stroke-width="0.5"/>
<line x1="127.18" y1="561.20" x2="127.18" y2="562.50" stroke="#555" stroke-width="0.5"/>
<line x1="128.76" y1="561.20" x2="128.76" y2="562.50" stroke="#555" stroke-width="0.5"/>
<line x1="130.10" y1="561.20" x2="130.10" y2="562.50" stroke="#555" stroke-width="0.5"/>
<line x1="131.26" y1="561.20" x2="131.26" y2="562.50" stroke="#555" stroke-width="0.5"/>
<line x1="132.28" y1="561.20" x2="132.28" y2="562.50" stroke="#555" stroke-width="0.5"/>
<line x1="133.20" y1="561.20" x2="133.20" y2="563.80" stroke="#333" stroke-width="0.8"/>
<text x="129.60" y="571.60" font-size="7.0" fill="#1a1a1a" stroke="#1a1a1a" stroke-width="0.22">10</text>
<text x="137.50" y="568.00" font-size="4.2" fill="#1a1a1a" stroke="#1a1a1a" stroke-width="0.22">4</text>
<line x1="139.22" y1="561.20" x2="139.22" y2="562.50" stroke="#555" stroke-width="0.5"/>
<line x1="142.74" y1="561.20" x2="142.74" y2="562.50" stroke="#555" stroke-width="0.5"/>
<line x1="145.24" y1="561.20" x2="145.24" y2="562.50" stroke="#555" stroke-width="0.5"/>
<line x1="147.18" y1="561.20" x2="147.18" y2="562.50" stroke="#555" stroke-width="0.5"/>
<line x1="148.76" y1="561.20" x2="148.76" y2="562.50" stroke="#555" stroke-width="0.5"/>
<line x1="150.10" y1="561.20" x2="150.10" y2="562.50" stroke="#555" stroke-width="0.5"/>
<line x1="151.26" y1="561.20" x2="151.26" y2="562.50" stroke="#555" stroke-width="0.5"/>
<line x1="152.28" y1="561.20" x2="152.28" y2="562.50" stroke="#555" stroke-width="0.5"/>
<line x1="153.20" y1="561.20" x2="153.20" y2="563.80" stroke="#333" stroke-width="0.8"/>
<text x="149.60" y="571.60" font-size="7.0" fill="#1a1a1a" stroke="#1a1a1a" stroke-width="0.22">10</text>
<text x="157.50" y="568.00" font-size="4.2" fill="#1a1a1a" stroke="#1a1a1a" stroke-width="0.22">5</text>
<line x1="159.22" y1="561.20" x2="159.22" y2="562.50" stroke="#555" stroke-width="0.5"/>
<line x1="162.74" y1="561.20" x2="162.74" y2="562.50" stroke="#555" stroke-width="0.5"/>
<line x1="62.74" y1="561.20" x2="62.74" y2="562.50" stroke="#555" stroke-width="0.5"/>
<line x1="65.24" y1="561.20" x2="65.24" y2="562.50" stroke="#555" stroke-width="0.5"/>
<line x1="67.18" y1="561.20" x2="67.18" y2="562.50" stroke="#555" stroke-width="0.5"/>
<line x1="68.76" y1="561.20" x2="68.76" y2="562.50" stroke="#555" stroke-width="0.5"/>
<line x1="70.10" y1="561.20" x2="70.10" y2="562.50" stroke="#555" stroke-width="0.5"/>
<line x1="71.26" y1="561.20" x2="71.26" y2="562.50" stroke="#555" stroke-width="0.5"/>
<line x1="72.28" y1="561.20" x2="72.28" y2="562.50" stroke="#555" stroke-width="0.5"/>
<text x="115.50" y="581.80" font-size="7.2" fill="#1a1a1a" stroke="#1a1a1a" stroke-width="0.22" text-anchor="middle">MitoSOX red</text>
<path fill="none" stroke="#3f7fc4" stroke-width="0.95" stroke-linejoin="round" d="M66.0 560.3 C72.3 560.3 97.0 560.3 103.8 560.2 C110.5 560.2 105.4 560.3 106.2 559.8 C107.1 559.2 108.0 560.3 108.8 557.0 C109.5 553.7 110.0 547.0 110.5 540.0 C111.0 533.0 111.4 524.0 111.8 515.0 C112.1 506.0 112.4 493.3 112.8 486.2 C113.1 479.2 113.4 473.5 113.8 472.5 C114.1 471.5 114.6 475.8 115.0 480.0 C115.4 484.2 115.8 491.7 116.2 497.5 C116.8 503.3 117.4 509.2 118.0 515.0 C118.6 520.8 119.3 527.1 120.0 532.5 C120.7 537.9 121.4 543.7 122.0 547.5 C122.6 551.3 123.0 553.5 123.8 555.5 C124.5 557.5 125.2 558.7 126.2 559.5 C127.3 560.3 124.7 560.1 130.0 560.2 C135.3 560.4 153.3 560.3 158.0 560.3"/>
<path fill="none" stroke="#c8323a" stroke-width="0.95" stroke-linejoin="round" d="M66.0 560.3 C68.8 560.3 79.2 560.3 82.5 560.2 C85.8 560.2 84.5 560.5 85.5 560.0 C86.5 559.5 87.8 560.0 88.8 557.5 C89.7 555.0 90.5 551.2 91.2 545.0 C92.0 538.8 92.6 529.2 93.2 520.0 C93.9 510.8 94.5 498.2 95.0 490.0 C95.5 481.8 96.1 474.5 96.5 470.5 C96.9 466.5 97.2 465.8 97.5 465.8 C97.8 465.8 98.1 466.5 98.5 470.5 C98.9 474.5 99.4 481.8 100.0 490.0 C100.6 498.2 101.3 511.7 102.0 520.0 C102.7 528.3 103.3 534.6 104.0 540.0 C104.7 545.4 105.5 549.6 106.2 552.5 C107.0 555.4 107.7 556.2 108.8 557.5 C109.8 558.8 111.2 559.5 112.5 560.0 C113.8 560.5 110.0 560.2 116.2 560.2 C122.5 560.3 144.4 560.3 150.0 560.3"/>
<text x="197.30" y="333.00" font-size="12.5" fill="#111" stroke="#111" stroke-width="0.22" font-weight="bold">G</text>
<clipPath id="cgw"><rect x="218.8" y="334.8" width="142.0" height="105.69999999999999"/></clipPath>
<rect x="218.80" y="334.80" width="142.00" height="105.70" fill="#020202"/>
<g clip-path="url(#cgw)">
<g filter="url(#bl1)"><ellipse cx="226" cy="426" rx="13" ry="17" fill="#1c3a6e" opacity="0.9"/><ellipse cx="228" cy="424" rx="8" ry="7" fill="#6f9fc0" opacity="0.55"/></g>
<g filter="url(#wob)">
<g fill="none" stroke="#d3e2a2" stroke-linecap="round" stroke-linejoin="round">
<path d="M221.2 360.0 C222.1 359.2 224.7 356.8 226.5 355.4 C228.3 354.0 231.0 352.2 231.9 351.5" stroke-width="5.1"/>
<path d="M221.9 375.8 L225.8 376.2" stroke-width="5.3"/>
<path d="M225.0 385.1 C226.2 385.3 229.7 385.5 231.9 386.2 C234.1 386.8 237.1 388.3 238.1 388.8" stroke-width="5.5"/>
<path d="M228.1 393.1 L233.5 395.7" stroke-width="4.7"/>
<path d="M238.1 396.2 C238.8 396.5 241.5 397.7 242.7 398.5 C243.8 399.2 244.6 400.1 245.0 400.5" stroke-width="5.5"/>
<path d="M242.7 382.3 C243.2 383.1 243.9 386.2 245.5 387.2 C247.0 388.3 250.0 388.9 251.9 388.8 C253.8 388.7 256.0 387.0 256.8 386.6" stroke-width="5.3"/>
<path d="M255.8 362.3 C256.4 361.6 258.4 358.3 259.6 358.0 C260.8 357.7 262.7 359.3 263.0 360.8 C263.3 362.3 261.8 365.3 261.2 366.9 C260.5 368.5 259.2 369.7 258.8 370.3" stroke-width="5.3"/>
<path d="M259.6 358.0 L258.1 354.6" stroke-width="4.9"/>
<path d="M272.2 357.7 L276.8 358.6" stroke-width="5.1"/>
<path d="M279.6 368.5 C278.7 368.3 275.3 366.7 274.2 367.7 C273.2 368.7 273.8 372.4 273.5 374.6 C273.1 376.8 273.2 379.0 271.9 380.8 C270.6 382.6 267.3 384.2 265.8 385.4 C264.2 386.6 263.2 387.7 262.7 388.2" stroke-width="5.9"/>
<path d="M285.8 368.5 C285.6 369.7 284.7 373.7 285.0 376.2 C285.3 378.6 286.9 381.9 287.3 383.1" stroke-width="6.1"/>
<path d="M288.5 370.0 C288.6 371.0 289.3 374.4 289.2 376.2 C289.1 377.9 288.1 380.0 287.9 380.8" stroke-width="5.3"/>
<path d="M279.6 376.2 L278.8 382.3" stroke-width="4.9"/>
<path d="M291.2 337.7 C291.3 339.5 291.7 344.6 291.9 348.5 C292.2 352.3 292.6 358.7 292.7 360.8" stroke-width="5.1"/>
<path d="M262.7 396.2 C262.8 397.1 263.9 400.2 263.6 402.0 C263.4 403.8 261.6 406.4 261.2 407.2" stroke-width="5.9"/>
<path d="M248.1 406.6 C248.6 407.7 251.2 411.2 251.2 413.1 C251.2 414.9 249.2 416.7 248.1 417.7 C246.9 418.7 244.9 418.7 244.2 418.9" stroke-width="5.3"/>
<path d="M251.2 413.1 C251.8 414.6 253.5 419.9 255.0 422.3 C256.5 424.7 259.1 426.4 259.9 427.2" stroke-width="5.5"/>
<path d="M219.6 394.6 C220.4 395.4 222.4 397.2 224.2 399.2 C226.0 401.3 228.3 404.1 230.4 406.9 C232.4 409.7 234.9 413.3 236.5 416.2 C238.2 419.0 239.7 422.6 240.4 423.8" stroke-width="5.3"/>
<path d="M222.7 420.8 C224.0 420.5 228.3 418.4 230.4 418.9 C232.5 419.4 235.5 422.2 235.3 423.8 C235.1 425.5 231.3 428.5 229.2 428.8 C227.1 429.1 223.8 427.0 222.7 425.7 C221.6 424.4 222.7 421.6 222.7 420.8" stroke-width="4.9"/>
<path d="M281.2 408.8 C282.2 408.7 286.5 407.6 287.3 408.2 C288.1 408.7 286.3 411.2 286.1 411.8" stroke-width="5.1"/>
<path d="M287.0 394.3 L290.4 399.5" stroke-width="5.5"/>
<path d="M270.4 414.6 C270.9 415.9 272.4 420.5 273.5 422.3 C274.5 424.2 275.5 426.5 276.8 425.7 C278.2 424.9 280.7 418.8 281.5 417.4" stroke-width="5.3"/>
<path d="M273.5 428.8 C274.5 429.5 277.8 432.9 279.6 433.4 C281.5 433.8 283.7 431.8 284.5 431.5" stroke-width="5.3"/>
<path d="M250.4 436.5 L255.3 434.6" stroke-width="5.1"/>
<path d="M291.9 425.4 L293.8 435.2" stroke-width="5.1"/>
<path d="M231.9 436.2 L238.1 437.7" stroke-width="4.9"/>
<path d="M292.7 336.9 C293.3 337.8 295.8 340.1 296.1 342.3 C296.3 344.5 294.8 347.4 294.2 350.0 C293.7 352.6 292.6 355.1 292.7 357.7 C292.7 360.3 293.8 362.8 294.5 365.4 C295.3 367.9 296.4 371.2 297.3 373.1 C298.2 374.9 299.4 375.9 299.8 376.5" stroke-width="5.7"/>
<path d="M294.2 350.0 L299.6 353.1" stroke-width="4.9"/>
<path d="M294.5 365.4 L299.2 363.1" stroke-width="4.9"/>
<path d="M317.6 343.1 C316.8 344.0 314.2 346.4 312.7 348.5 C311.2 350.5 310.6 353.7 308.8 355.4 C307.1 357.1 302.8 357.1 301.9 358.5 C301.0 359.8 303.2 362.7 303.5 363.5" stroke-width="5.5"/>
<path d="M308.8 355.4 C310.3 355.6 314.6 356.2 317.3 356.9 C320.0 357.7 322.7 359.7 325.0 360.0 C327.3 360.3 329.1 358.0 331.2 358.5 C333.2 358.9 336.0 361.1 337.3 362.6 C338.6 364.2 338.6 367.0 338.8 367.8" stroke-width="5.7"/>
<path d="M331.2 358.5 C331.9 358.8 334.8 359.5 335.8 360.8 C336.7 362.1 336.8 365.3 337.0 366.2" stroke-width="5.5"/>
<path d="M325.0 360.0 C325.2 361.7 326.4 367.3 325.9 370.0 C325.4 372.7 323.9 374.2 321.9 376.2 C320.0 378.1 316.3 379.9 314.2 381.5 C312.2 383.1 310.4 385.0 309.6 385.7" stroke-width="5.1"/>
<path d="M329.9 384.6 C329.4 385.5 327.9 388.3 326.5 390.0 C325.2 391.7 323.7 393.3 321.9 394.9 C320.1 396.6 317.8 398.5 315.8 400.0 C313.7 401.5 310.4 402.2 309.6 404.2 C308.8 406.1 310.9 410.3 311.2 411.5" stroke-width="5.5"/>
<path d="M339.6 377.7 C340.0 378.7 341.2 381.5 341.9 383.8 C342.7 386.2 343.5 388.9 344.2 391.5 C345.0 394.2 345.9 396.7 346.5 399.5 C347.2 402.4 347.8 407.2 348.1 408.8" stroke-width="5.3"/>
<path d="M349.9 391.2 L346.5 399.5" stroke-width="5.1"/>
<path d="M296.7 391.2 L298.2 396.5" stroke-width="5.5"/>
<path d="M296.5 403.8 C296.9 404.9 297.4 408.4 298.8 410.0 C300.3 411.6 303.4 413.3 305.0 413.4 C306.6 413.5 307.8 411.1 308.4 410.6" stroke-width="5.5"/>
<path d="M318.5 414.9 L321.6 413.8" stroke-width="5.1"/>
<path d="M339.6 403.8 C339.5 405.1 338.2 409.5 338.8 411.5 C339.5 413.6 341.9 415.2 343.5 416.2 C345.1 417.1 347.6 416.9 348.4 417.1" stroke-width="5.3"/>
<path d="M343.5 416.2 C342.7 417.2 341.2 420.6 338.8 422.3 C336.5 424.0 332.7 425.4 329.6 426.3 C326.5 427.2 322.4 426.5 320.4 427.8 C318.3 429.2 318.1 432.5 317.3 434.6 C316.5 436.7 316.0 439.5 315.8 440.5" stroke-width="5.3"/>
<path d="M286.5 366.9 C286.8 367.9 288.4 370.8 288.4 373.1 C288.4 375.4 286.3 378.7 286.5 380.8 C286.7 382.9 289.1 384.9 289.6 385.7" stroke-width="5.9"/>
<path d="M286.2 396.2 L289.6 398.0" stroke-width="5.3"/>
<path d="M286.2 410.3 L289.9 409.1" stroke-width="5.3"/>
<path d="M293.5 423.8 C294.3 424.3 297.8 425.2 298.2 426.3 C298.6 427.4 296.2 429.6 295.8 430.3" stroke-width="5.3"/>
<path d="M300.4 432.3 L301.0 432.8" stroke-width="4.9"/>
<path d="M293.9 437.7 L294.8 438.3" stroke-width="5.3"/>
</g>
<g fill="none" stroke="#34552a" stroke-linecap="round" stroke-linejoin="round">
<path d="M221.2 360.0 C222.1 359.2 224.7 356.8 226.5 355.4 C228.3 354.0 231.0 352.2 231.9 351.5" stroke-width="2.9"/>
<path d="M221.9 375.8 L225.8 376.2" stroke-width="3.1"/>
<path d="M225.0 385.1 C226.2 385.3 229.7 385.5 231.9 386.2 C234.1 386.8 237.1 388.3 238.1 388.8" stroke-width="3.3"/>
<path d="M228.1 393.1 L233.5 395.7" stroke-width="2.5"/>
<path d="M238.1 396.2 C238.8 396.5 241.5 397.7 242.7 398.5 C243.8 399.2 244.6 400.1 245.0 400.5" stroke-width="3.3"/>
<path d="M242.7 382.3 C243.2 383.1 243.9 386.2 245.5 387.2 C247.0 388.3 250.0 388.9 251.9 388.8 C253.8 388.7 256.0 387.0 256.8 386.6" stroke-width="3.1"/>
<path d="M255.8 362.3 C256.4 361.6 258.4 358.3 259.6 358.0 C260.8 357.7 262.7 359.3 263.0 360.8 C263.3 362.3 261.8 365.3 261.2 366.9 C260.5 368.5 259.2 369.7 258.8 370.3" stroke-width="3.1"/>
<path d="M259.6 358.0 L258.1 354.6" stroke-width="2.7"/>
<path d="M272.2 357.7 L276.8 358.6" stroke-width="2.9"/>
<path d="M279.6 368.5 C278.7 368.3 275.3 366.7 274.2 367.7 C273.2 368.7 273.8 372.4 273.5 374.6 C273.1 376.8 273.2 379.0 271.9 380.8 C270.6 382.6 267.3 384.2 265.8 385.4 C264.2 386.6 263.2 387.7 262.7 388.2" stroke-width="3.7"/>
<path d="M285.8 368.5 C285.6 369.7 284.7 373.7 285.0 376.2 C285.3 378.6 286.9 381.9 287.3 383.1" stroke-width="3.9"/>
<path d="M288.5 370.0 C288.6 371.0 289.3 374.4 289.2 376.2 C289.1 377.9 288.1 380.0 287.9 380.8" stroke-width="3.1"/>
<path d="M279.6 376.2 L278.8 382.3" stroke-width="2.7"/>
<path d="M291.2 337.7 C291.3 339.5 291.7 344.6 291.9 348.5 C292.2 352.3 292.6 358.7 292.7 360.8" stroke-width="2.9"/>
<path d="M262.7 396.2 C262.8 397.1 263.9 400.2 263.6 402.0 C263.4 403.8 261.6 406.4 261.2 407.2" stroke-width="3.7"/>
<path d="M248.1 406.6 C248.6 407.7 251.2 411.2 251.2 413.1 C251.2 414.9 249.2 416.7 248.1 417.7 C246.9 418.7 244.9 418.7 244.2 418.9" stroke-width="3.1"/>
<path d="M251.2 413.1 C251.8 414.6 253.5 419.9 255.0 422.3 C256.5 424.7 259.1 426.4 259.9 427.2" stroke-width="3.3"/>
<path d="M219.6 394.6 C220.4 395.4 222.4 397.2 224.2 399.2 C226.0 401.3 228.3 404.1 230.4 406.9 C232.4 409.7 234.9 413.3 236.5 416.2 C238.2 419.0 239.7 422.6 240.4 423.8" stroke-width="3.1"/>
<path d="M222.7 420.8 C224.0 420.5 228.3 418.4 230.4 418.9 C232.5 419.4 235.5 422.2 235.3 423.8 C235.1 425.5 231.3 428.5 229.2 428.8 C227.1 429.1 223.8 427.0 222.7 425.7 C221.6 424.4 222.7 421.6 222.7 420.8" stroke-width="2.7"/>
<path d="M281.2 408.8 C282.2 408.7 286.5 407.6 287.3 408.2 C288.1 408.7 286.3 411.2 286.1 411.8" stroke-width="2.9"/>
<path d="M287.0 394.3 L290.4 399.5" stroke-width="3.3"/>
<path d="M270.4 414.6 C270.9 415.9 272.4 420.5 273.5 422.3 C274.5 424.2 275.5 426.5 276.8 425.7 C278.2 424.9 280.7 418.8 281.5 417.4" stroke-width="3.1"/>
<path d="M273.5 428.8 C274.5 429.5 277.8 432.9 279.6 433.4 C281.5 433.8 283.7 431.8 284.5 431.5" stroke-width="3.1"/>
<path d="M250.4 436.5 L255.3 434.6" stroke-width="2.9"/>
<path d="M291.9 425.4 L293.8 435.2" stroke-width="2.9"/>
<path d="M231.9 436.2 L238.1 437.7" stroke-width="2.7"/>
<path d="M292.7 336.9 C293.3 337.8 295.8 340.1 296.1 342.3 C296.3 344.5 294.8 347.4 294.2 350.0 C293.7 352.6 292.6 355.1 292.7 357.7 C292.7 360.3 293.8 362.8 294.5 365.4 C295.3 367.9 296.4 371.2 297.3 373.1 C298.2 374.9 299.4 375.9 299.8 376.5" stroke-width="3.5"/>
<path d="M294.2 350.0 L299.6 353.1" stroke-width="2.7"/>
<path d="M294.5 365.4 L299.2 363.1" stroke-width="2.7"/>
<path d="M317.6 343.1 C316.8 344.0 314.2 346.4 312.7 348.5 C311.2 350.5 310.6 353.7 308.8 355.4 C307.1 357.1 302.8 357.1 301.9 358.5 C301.0 359.8 303.2 362.7 303.5 363.5" stroke-width="3.3"/>
<path d="M308.8 355.4 C310.3 355.6 314.6 356.2 317.3 356.9 C320.0 357.7 322.7 359.7 325.0 360.0 C327.3 360.3 329.1 358.0 331.2 358.5 C333.2 358.9 336.0 361.1 337.3 362.6 C338.6 364.2 338.6 367.0 338.8 367.8" stroke-width="3.5"/>
<path d="M331.2 358.5 C331.9 358.8 334.8 359.5 335.8 360.8 C336.7 362.1 336.8 365.3 337.0 366.2" stroke-width="3.3"/>
<path d="M325.0 360.0 C325.2 361.7 326.4 367.3 325.9 370.0 C325.4 372.7 323.9 374.2 321.9 376.2 C320.0 378.1 316.3 379.9 314.2 381.5 C312.2 383.1 310.4 385.0 309.6 385.7" stroke-width="2.9"/>
<path d="M329.9 384.6 C329.4 385.5 327.9 388.3 326.5 390.0 C325.2 391.7 323.7 393.3 321.9 394.9 C320.1 396.6 317.8 398.5 315.8 400.0 C313.7 401.5 310.4 402.2 309.6 404.2 C308.8 406.1 310.9 410.3 311.2 411.5" stroke-width="3.3"/>
<path d="M339.6 377.7 C340.0 378.7 341.2 381.5 341.9 383.8 C342.7 386.2 343.5 388.9 344.2 391.5 C345.0 394.2 345.9 396.7 346.5 399.5 C347.2 402.4 347.8 407.2 348.1 408.8" stroke-width="3.1"/>
<path d="M349.9 391.2 L346.5 399.5" stroke-width="2.9"/>
<path d="M296.7 391.2 L298.2 396.5" stroke-width="3.3"/>
<path d="M296.5 403.8 C296.9 404.9 297.4 408.4 298.8 410.0 C300.3 411.6 303.4 413.3 305.0 413.4 C306.6 413.5 307.8 411.1 308.4 410.6" stroke-width="3.3"/>
<path d="M318.5 414.9 L321.6 413.8" stroke-width="2.9"/>
<path d="M339.6 403.8 C339.5 405.1 338.2 409.5 338.8 411.5 C339.5 413.6 341.9 415.2 343.5 416.2 C345.1 417.1 347.6 416.9 348.4 417.1" stroke-width="3.1"/>
<path d="M343.5 416.2 C342.7 417.2 341.2 420.6 338.8 422.3 C336.5 424.0 332.7 425.4 329.6 426.3 C326.5 427.2 322.4 426.5 320.4 427.8 C318.3 429.2 318.1 432.5 317.3 434.6 C316.5 436.7 316.0 439.5 315.8 440.5" stroke-width="3.1"/>
<path d="M286.5 366.9 C286.8 367.9 288.4 370.8 288.4 373.1 C288.4 375.4 286.3 378.7 286.5 380.8 C286.7 382.9 289.1 384.9 289.6 385.7" stroke-width="3.7"/>
<path d="M286.2 396.2 L289.6 398.0" stroke-width="3.1"/>
<path d="M286.2 410.3 L289.9 409.1" stroke-width="3.1"/>
<path d="M293.5 423.8 C294.3 424.3 297.8 425.2 298.2 426.3 C298.6 427.4 296.2 429.6 295.8 430.3" stroke-width="3.1"/>
<path d="M300.4 432.3 L301.0 432.8" stroke-width="2.7"/>
<path d="M293.9 437.7 L294.8 438.3" stroke-width="3.1"/>
</g>
<g fill="none" stroke="#86a868" stroke-linecap="round" stroke-linejoin="round" stroke-dasharray="1.2 2.2" opacity="0.6">
<path d="M221.2 360.0 C222.1 359.2 224.7 356.8 226.5 355.4 C228.3 354.0 231.0 352.2 231.9 351.5" stroke-width="0.8"/>
<path d="M221.9 375.8 L225.8 376.2" stroke-width="0.8"/>
<path d="M225.0 385.1 C226.2 385.3 229.7 385.5 231.9 386.2 C234.1 386.8 237.1 388.3 238.1 388.8" stroke-width="0.8"/>
<path d="M228.1 393.1 L233.5 395.7" stroke-width="0.8"/>
<path d="M238.1 396.2 C238.8 396.5 241.5 397.7 242.7 398.5 C243.8 399.2 244.6 400.1 245.0 400.5" stroke-width="0.8"/>
<path d="M242.7 382.3 C243.2 383.1 243.9 386.2 245.5 387.2 C247.0 388.3 250.0 388.9 251.9 388.8 C253.8 388.7 256.0 387.0 256.8 386.6" stroke-width="0.8"/>
<path d="M255.8 362.3 C256.4 361.6 258.4 358.3 259.6 358.0 C260.8 357.7 262.7 359.3 263.0 360.8 C263.3 362.3 261.8 365.3 261.2 366.9 C260.5 368.5 259.2 369.7 258.8 370.3" stroke-width="0.8"/>
<path d="M259.6 358.0 L258.1 354.6" stroke-width="0.8"/>
<path d="M272.2 357.7 L276.8 358.6" stroke-width="0.8"/>
<path d="M279.6 368.5 C278.7 368.3 275.3 366.7 274.2 367.7 C273.2 368.7 273.8 372.4 273.5 374.6 C273.1 376.8 273.2 379.0 271.9 380.8 C270.6 382.6 267.3 384.2 265.8 385.4 C264.2 386.6 263.2 387.7 262.7 388.2" stroke-width="0.8"/>
<path d="M285.8 368.5 C285.6 369.7 284.7 373.7 285.0 376.2 C285.3 378.6 286.9 381.9 287.3 383.1" stroke-width="0.8"/>
<path d="M288.5 370.0 C288.6 371.0 289.3 374.4 289.2 376.2 C289.1 377.9 288.1 380.0 287.9 380.8" stroke-width="0.8"/>
<path d="M279.6 376.2 L278.8 382.3" stroke-width="0.8"/>
<path d="M291.2 337.7 C291.3 339.5 291.7 344.6 291.9 348.5 C292.2 352.3 292.6 358.7 292.7 360.8" stroke-width="0.8"/>
<path d="M262.7 396.2 C262.8 397.1 263.9 400.2 263.6 402.0 C263.4 403.8 261.6 406.4 261.2 407.2" stroke-width="0.8"/>
<path d="M248.1 406.6 C248.6 407.7 251.2 411.2 251.2 413.1 C251.2 414.9 249.2 416.7 248.1 417.7 C246.9 418.7 244.9 418.7 244.2 418.9" stroke-width="0.8"/>
<path d="M251.2 413.1 C251.8 414.6 253.5 419.9 255.0 422.3 C256.5 424.7 259.1 426.4 259.9 427.2" stroke-width="0.8"/>
<path d="M219.6 394.6 C220.4 395.4 222.4 397.2 224.2 399.2 C226.0 401.3 228.3 404.1 230.4 406.9 C232.4 409.7 234.9 413.3 236.5 416.2 C238.2 419.0 239.7 422.6 240.4 423.8" stroke-width="0.8"/>
<path d="M222.7 420.8 C224.0 420.5 228.3 418.4 230.4 418.9 C232.5 419.4 235.5 422.2 235.3 423.8 C235.1 425.5 231.3 428.5 229.2 428.8 C227.1 429.1 223.8 427.0 222.7 425.7 C221.6 424.4 222.7 421.6 222.7 420.8" stroke-width="0.8"/>
<path d="M281.2 408.8 C282.2 408.7 286.5 407.6 287.3 408.2 C288.1 408.7 286.3 411.2 286.1 411.8" stroke-width="0.8"/>
<path d="M287.0 394.3 L290.4 399.5" stroke-width="0.8"/>
<path d="M270.4 414.6 C270.9 415.9 272.4 420.5 273.5 422.3 C274.5 424.2 275.5 426.5 276.8 425.7 C278.2 424.9 280.7 418.8 281.5 417.4" stroke-width="0.8"/>
<path d="M273.5 428.8 C274.5 429.5 277.8 432.9 279.6 433.4 C281.5 433.8 283.7 431.8 284.5 431.5" stroke-width="0.8"/>
<path d="M250.4 436.5 L255.3 434.6" stroke-width="0.8"/>
<path d="M291.9 425.4 L293.8 435.2" stroke-width="0.8"/>
<path d="M231.9 436.2 L238.1 437.7" stroke-width="0.8"/>
<path d="M292.7 336.9 C293.3 337.8 295.8 340.1 296.1 342.3 C296.3 344.5 294.8 347.4 294.2 350.0 C293.7 352.6 292.6 355.1 292.7 357.7 C292.7 360.3 293.8 362.8 294.5 365.4 C295.3 367.9 296.4 371.2 297.3 373.1 C298.2 374.9 299.4 375.9 299.8 376.5" stroke-width="0.8"/>
<path d="M294.2 350.0 L299.6 353.1" stroke-width="0.8"/>
<path d="M294.5 365.4 L299.2 363.1" stroke-width="0.8"/>
<path d="M317.6 343.1 C316.8 344.0 314.2 346.4 312.7 348.5 C311.2 350.5 310.6 353.7 308.8 355.4 C307.1 357.1 302.8 357.1 301.9 358.5 C301.0 359.8 303.2 362.7 303.5 363.5" stroke-width="0.8"/>
<path d="M308.8 355.4 C310.3 355.6 314.6 356.2 317.3 356.9 C320.0 357.7 322.7 359.7 325.0 360.0 C327.3 360.3 329.1 358.0 331.2 358.5 C333.2 358.9 336.0 361.1 337.3 362.6 C338.6 364.2 338.6 367.0 338.8 367.8" stroke-width="0.8"/>
<path d="M331.2 358.5 C331.9 358.8 334.8 359.5 335.8 360.8 C336.7 362.1 336.8 365.3 337.0 366.2" stroke-width="0.8"/>
<path d="M325.0 360.0 C325.2 361.7 326.4 367.3 325.9 370.0 C325.4 372.7 323.9 374.2 321.9 376.2 C320.0 378.1 316.3 379.9 314.2 381.5 C312.2 383.1 310.4 385.0 309.6 385.7" stroke-width="0.8"/>
<path d="M329.9 384.6 C329.4 385.5 327.9 388.3 326.5 390.0 C325.2 391.7 323.7 393.3 321.9 394.9 C320.1 396.6 317.8 398.5 315.8 400.0 C313.7 401.5 310.4 402.2 309.6 404.2 C308.8 406.1 310.9 410.3 311.2 411.5" stroke-width="0.8"/>
<path d="M339.6 377.7 C340.0 378.7 341.2 381.5 341.9 383.8 C342.7 386.2 343.5 388.9 344.2 391.5 C345.0 394.2 345.9 396.7 346.5 399.5 C347.2 402.4 347.8 407.2 348.1 408.8" stroke-width="0.8"/>
<path d="M349.9 391.2 L346.5 399.5" stroke-width="0.8"/>
<path d="M296.7 391.2 L298.2 396.5" stroke-width="0.8"/>
<path d="M296.5 403.8 C296.9 404.9 297.4 408.4 298.8 410.0 C300.3 411.6 303.4 413.3 305.0 413.4 C306.6 413.5 307.8 411.1 308.4 410.6" stroke-width="0.8"/>
<path d="M318.5 414.9 L321.6 413.8" stroke-width="0.8"/>
<path d="M339.6 403.8 C339.5 405.1 338.2 409.5 338.8 411.5 C339.5 413.6 341.9 415.2 343.5 416.2 C345.1 417.1 347.6 416.9 348.4 417.1" stroke-width="0.8"/>
<path d="M343.5 416.2 C342.7 417.2 341.2 420.6 338.8 422.3 C336.5 424.0 332.7 425.4 329.6 426.3 C326.5 427.2 322.4 426.5 320.4 427.8 C318.3 429.2 318.1 432.5 317.3 434.6 C316.5 436.7 316.0 439.5 315.8 440.5" stroke-width="0.8"/>
<path d="M286.5 366.9 C286.8 367.9 288.4 370.8 288.4 373.1 C288.4 375.4 286.3 378.7 286.5 380.8 C286.7 382.9 289.1 384.9 289.6 385.7" stroke-width="0.8"/>
<path d="M286.2 396.2 L289.6 398.0" stroke-width="0.8"/>
<path d="M286.2 410.3 L289.9 409.1" stroke-width="0.8"/>
<path d="M293.5 423.8 C294.3 424.3 297.8 425.2 298.2 426.3 C298.6 427.4 296.2 429.6 295.8 430.3" stroke-width="0.8"/>
<path d="M300.4 432.3 L301.0 432.8" stroke-width="0.8"/>
<path d="M293.9 437.7 L294.8 438.3" stroke-width="0.8"/>
</g>
</g>
</g>
<rect x="218.80" y="334.80" width="27.80" height="15.60" fill="#fff"/>
<text x="231.20" y="345.70" font-size="7.2" fill="#1a1a1a" stroke="#1a1a1a" stroke-width="0.22" text-anchor="middle">WT</text>
<text x="219.40" y="433.80" font-size="7.0" fill="#fff" stroke="#fff" stroke-width="0.22" textLength="21.50" lengthAdjust="spacingAndGlyphs">0.5 µm</text>
<line x1="219.40" y1="436.20" x2="236.50" y2="436.20" stroke="#fff" stroke-width="1.3"/>
<clipPath id="cgk"><rect x="371.8" y="334.8" width="141.8" height="105.69999999999999"/></clipPath>
<rect x="371.80" y="334.80" width="141.80" height="105.70" fill="#020202"/>
<g clip-path="url(#cgk)">
<g filter="url(#wob)">
<g fill="#d3e2a2">
<ellipse cx="406.5" cy="337.7" rx="5.6" ry="3.3"/>
<ellipse cx="411.1" cy="345.4" rx="4.8" ry="4.8"/>
<ellipse cx="418.8" cy="336.9" rx="6.4" ry="2.5"/>
<ellipse cx="429.5" cy="339.2" rx="6.4" ry="4.0"/>
<ellipse cx="397.2" cy="351.5" rx="6.4" ry="3.3"/>
<ellipse cx="429.5" cy="353.1" rx="5.6" ry="5.6"/>
<ellipse cx="431.1" cy="349.2" rx="3.3" ry="4.8"/>
<ellipse cx="441.8" cy="346.9" rx="6.4" ry="6.4"/>
<ellipse cx="444.9" cy="359.2" rx="3.3" ry="4.8"/>
<ellipse cx="434.2" cy="369.2" rx="5.6" ry="5.6"/>
<ellipse cx="438.0" cy="376.9" rx="5.6" ry="5.6"/>
<ellipse cx="427.2" cy="376.2" rx="1.7" ry="1.7"/>
<ellipse cx="378.8" cy="379.2" rx="4.8" ry="4.0"/>
<ellipse cx="388.0" cy="376.2" rx="6.4" ry="4.0"/>
<ellipse cx="394.2" cy="380.8" rx="3.3" ry="4.8"/>
<ellipse cx="399.5" cy="386.2" rx="6.4" ry="4.8"/>
<ellipse cx="430.3" cy="386.2" rx="5.6" ry="4.0"/>
<ellipse cx="441.1" cy="387.7" rx="5.6" ry="4.8"/>
<ellipse cx="414.2" cy="390.8" rx="4.0" ry="3.3"/>
<ellipse cx="419.5" cy="391.5" rx="4.0" ry="7.1"/>
<ellipse cx="422.6" cy="396.9" rx="3.3" ry="3.3"/>
<ellipse cx="434.9" cy="398.5" rx="4.8" ry="4.8"/>
<ellipse cx="443.4" cy="399.2" rx="3.3" ry="3.3"/>
<ellipse cx="378.0" cy="397.7" rx="4.8" ry="4.0"/>
<ellipse cx="383.4" cy="399.2" rx="3.3" ry="3.3"/>
<ellipse cx="391.1" cy="405.4" rx="4.8" ry="4.0"/>
<ellipse cx="394.9" cy="410.8" rx="4.0" ry="4.0"/>
<ellipse cx="417.2" cy="410.8" rx="7.1" ry="7.1"/>
<ellipse cx="435.7" cy="413.8" rx="7.1" ry="4.0"/>
<ellipse cx="443.4" cy="406.9" rx="4.0" ry="7.9"/>
<ellipse cx="378.8" cy="413.8" rx="6.4" ry="4.8"/>
<ellipse cx="388.0" cy="419.2" rx="7.9" ry="6.4"/>
<ellipse cx="395.7" cy="416.2" rx="6.4" ry="6.4"/>
<ellipse cx="383.4" cy="425.4" rx="6.4" ry="4.8"/>
<ellipse cx="394.2" cy="428.5" rx="6.4" ry="6.4"/>
<ellipse cx="433.4" cy="428.5" rx="2.5" ry="4.0"/>
<ellipse cx="429.5" cy="433.8" rx="2.5" ry="2.5"/>
<ellipse cx="374.2" cy="368.5" rx="1.7" ry="3.3"/>
<ellipse cx="403.4" cy="431.5" rx="3.3" ry="2.5"/>
<ellipse cx="377.2" cy="436.2" rx="4.8" ry="3.3"/>
<ellipse cx="414.2" cy="437.7" rx="3.3" ry="2.0"/>
<ellipse cx="446.2" cy="345.4" rx="7.9" ry="7.1"/>
<ellipse cx="455.4" cy="342.3" rx="6.4" ry="6.4"/>
<ellipse cx="473.1" cy="344.6" rx="3.3" ry="2.0"/>
<ellipse cx="471.5" cy="351.5" rx="2.5" ry="2.5"/>
<ellipse cx="463.8" cy="354.6" rx="2.5" ry="2.5"/>
<ellipse cx="446.2" cy="359.2" rx="3.0" ry="4.8"/>
<ellipse cx="455.4" cy="360.0" rx="2.5" ry="5.6"/>
<ellipse cx="457.7" cy="370.0" rx="7.1" ry="3.0"/>
<ellipse cx="496.2" cy="346.9" rx="6.4" ry="5.6"/>
<ellipse cx="484.6" cy="353.1" rx="5.6" ry="4.8"/>
<ellipse cx="487.7" cy="362.3" rx="4.8" ry="5.6"/>
<ellipse cx="481.5" cy="362.3" rx="3.3" ry="3.3"/>
<ellipse cx="487.7" cy="375.4" rx="5.6" ry="4.8"/>
<ellipse cx="486.2" cy="385.4" rx="6.4" ry="6.4"/>
<ellipse cx="493.8" cy="390.0" rx="7.1" ry="5.6"/>
<ellipse cx="499.2" cy="386.2" rx="3.3" ry="2.5"/>
<ellipse cx="472.3" cy="382.3" rx="2.0" ry="2.5"/>
<ellipse cx="470.0" cy="390.8" rx="7.9" ry="4.8"/>
<ellipse cx="452.3" cy="390.8" rx="4.0" ry="4.0"/>
<ellipse cx="450.8" cy="396.2" rx="1.7" ry="2.5"/>
<ellipse cx="442.3" cy="387.7" rx="4.0" ry="4.8"/>
<ellipse cx="443.1" cy="402.3" rx="4.0" ry="6.4"/>
<ellipse cx="447.7" cy="406.9" rx="4.0" ry="4.8"/>
<ellipse cx="450.8" cy="417.7" rx="4.8" ry="5.6"/>
<ellipse cx="480.0" cy="413.1" rx="6.4" ry="5.6"/>
<ellipse cx="476.9" cy="421.5" rx="6.4" ry="6.4"/>
<ellipse cx="486.2" cy="422.3" rx="7.9" ry="7.1"/>
<ellipse cx="496.9" cy="423.1" rx="5.6" ry="5.6"/>
<ellipse cx="503.8" cy="410.0" rx="4.8" ry="4.0"/>
<ellipse cx="509.2" cy="415.4" rx="4.0" ry="6.4"/>
<ellipse cx="494.6" cy="434.6" rx="2.5" ry="2.0"/>
<ellipse cx="455.4" cy="437.7" rx="3.3" ry="1.7"/>
<ellipse cx="489.2" cy="439.2" rx="2.5" ry="1.7"/>
<ellipse cx="503.1" cy="336.9" rx="1.7" ry="1.4"/>
<ellipse cx="511.5" cy="371.5" rx="1.4" ry="1.7"/>
<ellipse cx="443.1" cy="336.9" rx="6.4" ry="4.0"/>
<ellipse cx="456.9" cy="336.9" rx="4.8" ry="2.5"/>
</g>
<g fill="#48722f">
<ellipse cx="406.5" cy="337.7" rx="4.3" ry="2.0"/>
<ellipse cx="411.1" cy="345.4" rx="3.5" ry="3.5"/>
<ellipse cx="418.8" cy="336.9" rx="5.1" ry="1.2"/>
<ellipse cx="429.5" cy="339.2" rx="5.1" ry="2.7"/>
<ellipse cx="397.2" cy="351.5" rx="5.1" ry="2.0"/>
<ellipse cx="429.5" cy="353.1" rx="4.3" ry="4.3"/>
<ellipse cx="431.1" cy="349.2" rx="2.0" ry="3.5"/>
<ellipse cx="441.8" cy="346.9" rx="5.1" ry="5.1"/>
<ellipse cx="444.9" cy="359.2" rx="2.0" ry="3.5"/>
<ellipse cx="434.2" cy="369.2" rx="4.3" ry="4.3"/>
<ellipse cx="438.0" cy="376.9" rx="4.3" ry="4.3"/>
<ellipse cx="427.2" cy="376.2" rx="0.4" ry="0.4"/>
<ellipse cx="378.8" cy="379.2" rx="3.5" ry="2.7"/>
<ellipse cx="388.0" cy="376.2" rx="5.1" ry="2.7"/>
<ellipse cx="394.2" cy="380.8" rx="2.0" ry="3.5"/>
<ellipse cx="399.5" cy="386.2" rx="5.1" ry="3.5"/>
<ellipse cx="430.3" cy="386.2" rx="4.3" ry="2.7"/>
<ellipse cx="441.1" cy="387.7" rx="4.3" ry="3.5"/>
<ellipse cx="414.2" cy="390.8" rx="2.7" ry="2.0"/>
<ellipse cx="419.5" cy="391.5" rx="2.7" ry="5.8"/>
<ellipse cx="422.6" cy="396.9" rx="2.0" ry="2.0"/>
<ellipse cx="434.9" cy="398.5" rx="3.5" ry="3.5"/>
<ellipse cx="443.4" cy="399.2" rx="2.0" ry="2.0"/>
<ellipse cx="378.0" cy="397.7" rx="3.5" ry="2.7"/>
<ellipse cx="383.4" cy="399.2" rx="2.0" ry="2.0"/>
<ellipse cx="391.1" cy="405.4" rx="3.5" ry="2.7"/>
<ellipse cx="394.9" cy="410.8" rx="2.7" ry="2.7"/>
<ellipse cx="417.2" cy="410.8" rx="5.8" ry="5.8"/>
<ellipse cx="435.7" cy="413.8" rx="5.8" ry="2.7"/>
<ellipse cx="443.4" cy="406.9" rx="2.7" ry="6.6"/>
<ellipse cx="378.8" cy="413.8" rx="5.1" ry="3.5"/>
<ellipse cx="388.0" cy="419.2" rx="6.6" ry="5.1"/>
<ellipse cx="395.7" cy="416.2" rx="5.1" ry="5.1"/>
<ellipse cx="383.4" cy="425.4" rx="5.1" ry="3.5"/>
<ellipse cx="394.2" cy="428.5" rx="5.1" ry="5.1"/>
<ellipse cx="433.4" cy="428.5" rx="1.2" ry="2.7"/>
<ellipse cx="429.5" cy="433.8" rx="1.2" ry="1.2"/>
<ellipse cx="374.2" cy="368.5" rx="0.4" ry="2.0"/>
<ellipse cx="403.4" cy="431.5" rx="2.0" ry="1.2"/>
<ellipse cx="377.2" cy="436.2" rx="3.5" ry="2.0"/>
<ellipse cx="414.2" cy="437.7" rx="2.0" ry="0.7"/>
<ellipse cx="446.2" cy="345.4" rx="6.6" ry="5.8"/>
<ellipse cx="455.4" cy="342.3" rx="5.1" ry="5.1"/>
<ellipse cx="473.1" cy="344.6" rx="2.0" ry="0.7"/>
<ellipse cx="471.5" cy="351.5" rx="1.2" ry="1.2"/>
<ellipse cx="463.8" cy="354.6" rx="1.2" ry="1.2"/>
<ellipse cx="446.2" cy="359.2" rx="1.7" ry="3.5"/>
<ellipse cx="455.4" cy="360.0" rx="1.2" ry="4.3"/>
<ellipse cx="457.7" cy="370.0" rx="5.8" ry="1.7"/>
<ellipse cx="496.2" cy="346.9" rx="5.1" ry="4.3"/>
<ellipse cx="484.6" cy="353.1" rx="4.3" ry="3.5"/>
<ellipse cx="487.7" cy="362.3" rx="3.5" ry="4.3"/>
<ellipse cx="481.5" cy="362.3" rx="2.0" ry="2.0"/>
<ellipse cx="487.7" cy="375.4" rx="4.3" ry="3.5"/>
<ellipse cx="486.2" cy="385.4" rx="5.1" ry="5.1"/>
<ellipse cx="493.8" cy="390.0" rx="5.8" ry="4.3"/>
<ellipse cx="499.2" cy="386.2" rx="2.0" ry="1.2"/>
<ellipse cx="472.3" cy="382.3" rx="0.7" ry="1.2"/>
<ellipse cx="470.0" cy="390.8" rx="6.6" ry="3.5"/>
<ellipse cx="452.3" cy="390.8" rx="2.7" ry="2.7"/>
<ellipse cx="450.8" cy="396.2" rx="0.4" ry="1.2"/>
<ellipse cx="442.3" cy="387.7" rx="2.7" ry="3.5"/>
<ellipse cx="443.1" cy="402.3" rx="2.7" ry="5.1"/>
<ellipse cx="447.7" cy="406.9" rx="2.7" ry="3.5"/>
<ellipse cx="450.8" cy="417.7" rx="3.5" ry="4.3"/>
<ellipse cx="480.0" cy="413.1" rx="5.1" ry="4.3"/>
<ellipse cx="476.9" cy="421.5" rx="5.1" ry="5.1"/>
<ellipse cx="486.2" cy="422.3" rx="6.6" ry="5.8"/>
<ellipse cx="496.9" cy="423.1" rx="4.3" ry="4.3"/>
<ellipse cx="503.8" cy="410.0" rx="3.5" ry="2.7"/>
<ellipse cx="509.2" cy="415.4" rx="2.7" ry="5.1"/>
<ellipse cx="494.6" cy="434.6" rx="1.2" ry="0.7"/>
<ellipse cx="455.4" cy="437.7" rx="2.0" ry="0.4"/>
<ellipse cx="489.2" cy="439.2" rx="1.2" ry="0.4"/>
<ellipse cx="503.1" cy="336.9" rx="0.4" ry="0.1"/>
<ellipse cx="511.5" cy="371.5" rx="0.1" ry="0.4"/>
<ellipse cx="443.1" cy="336.9" rx="5.1" ry="2.7"/>
<ellipse cx="456.9" cy="336.9" rx="3.5" ry="1.2"/>
</g>
<g fill="none" stroke="#b4cc8c" stroke-width="0.7" opacity="0.9">
<ellipse cx="406.7" cy="338.1" rx="2.4" ry="1.4"/>
<ellipse cx="411.5" cy="346.1" rx="2.1" ry="2.1"/>
<ellipse cx="429.9" cy="339.9" rx="2.8" ry="1.7"/>
<ellipse cx="396.5" cy="351.5" rx="2.8" ry="1.4"/>
<ellipse cx="430.2" cy="353.3" rx="2.4" ry="2.4"/>
<ellipse cx="430.5" cy="352.1" rx="3.8" ry="3.7" stroke-dasharray="3 2"/>
<ellipse cx="431.0" cy="348.8" rx="1.4" ry="2.1"/>
<ellipse cx="441.9" cy="347.0" rx="2.8" ry="2.8"/>
<ellipse cx="440.7" cy="346.2" rx="4.3" ry="4.2" stroke-dasharray="3 2"/>
<ellipse cx="444.6" cy="359.9" rx="1.4" ry="2.1"/>
<ellipse cx="434.6" cy="368.7" rx="2.4" ry="2.4"/>
<ellipse cx="434.9" cy="368.4" rx="3.8" ry="3.7" stroke-dasharray="3 2"/>
<ellipse cx="438.2" cy="376.3" rx="2.4" ry="2.4"/>
<ellipse cx="436.8" cy="377.8" rx="3.8" ry="3.7" stroke-dasharray="3 2"/>
<ellipse cx="378.3" cy="378.8" rx="2.1" ry="1.7"/>
<ellipse cx="388.8" cy="376.7" rx="2.8" ry="1.7"/>
<ellipse cx="393.8" cy="381.5" rx="1.4" ry="2.1"/>
<ellipse cx="399.6" cy="386.4" rx="2.8" ry="2.1"/>
<ellipse cx="398.8" cy="387.2" rx="4.3" ry="3.1" stroke-dasharray="3 2"/>
<ellipse cx="430.6" cy="386.9" rx="2.4" ry="1.7"/>
<ellipse cx="441.7" cy="387.4" rx="2.4" ry="2.1"/>
<ellipse cx="440.7" cy="386.9" rx="3.8" ry="3.1" stroke-dasharray="3 2"/>
<ellipse cx="413.6" cy="390.1" rx="1.7" ry="1.4"/>
<ellipse cx="419.2" cy="391.7" rx="1.7" ry="3.1"/>
<ellipse cx="421.8" cy="397.2" rx="1.4" ry="1.4"/>
<ellipse cx="434.7" cy="398.2" rx="2.1" ry="2.1"/>
<ellipse cx="443.9" cy="399.2" rx="1.4" ry="1.4"/>
<ellipse cx="377.7" cy="397.7" rx="2.1" ry="1.7"/>
<ellipse cx="383.7" cy="398.5" rx="1.4" ry="1.4"/>
<ellipse cx="391.8" cy="404.6" rx="2.1" ry="1.7"/>
<ellipse cx="395.3" cy="411.3" rx="1.7" ry="1.7"/>
<ellipse cx="416.5" cy="411.2" rx="3.1" ry="3.1"/>
<ellipse cx="416.9" cy="411.0" rx="4.8" ry="4.7" stroke-dasharray="3 2"/>
<ellipse cx="434.9" cy="413.1" rx="3.1" ry="1.7"/>
<ellipse cx="442.9" cy="407.7" rx="1.7" ry="3.5"/>
<ellipse cx="378.3" cy="414.3" rx="2.8" ry="2.1"/>
<ellipse cx="379.8" cy="414.9" rx="4.3" ry="3.1" stroke-dasharray="3 2"/>
<ellipse cx="387.8" cy="419.0" rx="3.5" ry="2.8"/>
<ellipse cx="388.1" cy="419.9" rx="5.4" ry="4.2" stroke-dasharray="3 2"/>
<ellipse cx="395.1" cy="416.6" rx="2.8" ry="2.8"/>
<ellipse cx="396.4" cy="417.0" rx="4.3" ry="4.2" stroke-dasharray="3 2"/>
<ellipse cx="382.6" cy="426.1" rx="2.8" ry="2.1"/>
<ellipse cx="382.4" cy="425.0" rx="4.3" ry="3.1" stroke-dasharray="3 2"/>
<ellipse cx="394.3" cy="429.1" rx="2.8" ry="2.8"/>
<ellipse cx="393.8" cy="429.5" rx="4.3" ry="4.2" stroke-dasharray="3 2"/>
<ellipse cx="377.3" cy="435.9" rx="2.1" ry="1.4"/>
<ellipse cx="445.9" cy="344.9" rx="3.5" ry="3.1"/>
<ellipse cx="445.1" cy="344.5" rx="5.4" ry="4.7" stroke-dasharray="3 2"/>
<ellipse cx="455.7" cy="343.1" rx="2.8" ry="2.8"/>
<ellipse cx="454.6" cy="341.2" rx="4.3" ry="4.2" stroke-dasharray="3 2"/>
<ellipse cx="496.9" cy="347.0" rx="2.8" ry="2.4"/>
<ellipse cx="495.9" cy="346.3" rx="4.3" ry="3.7" stroke-dasharray="3 2"/>
<ellipse cx="484.8" cy="353.6" rx="2.4" ry="2.1"/>
<ellipse cx="484.5" cy="352.9" rx="3.8" ry="3.1" stroke-dasharray="3 2"/>
<ellipse cx="487.0" cy="363.0" rx="2.1" ry="2.4"/>
<ellipse cx="480.8" cy="362.3" rx="1.4" ry="1.4"/>
<ellipse cx="488.2" cy="374.8" rx="2.4" ry="2.1"/>
<ellipse cx="488.2" cy="376.5" rx="3.8" ry="3.1" stroke-dasharray="3 2"/>
<ellipse cx="486.4" cy="385.8" rx="2.8" ry="2.8"/>
<ellipse cx="485.2" cy="385.2" rx="4.3" ry="4.2" stroke-dasharray="3 2"/>
<ellipse cx="493.3" cy="390.6" rx="3.1" ry="2.4"/>
<ellipse cx="493.4" cy="389.9" rx="4.8" ry="3.7" stroke-dasharray="3 2"/>
<ellipse cx="470.8" cy="391.3" rx="3.5" ry="2.1"/>
<ellipse cx="471.1" cy="390.7" rx="5.4" ry="3.1" stroke-dasharray="3 2"/>
<ellipse cx="452.3" cy="391.1" rx="1.7" ry="1.7"/>
<ellipse cx="442.3" cy="387.4" rx="1.7" ry="2.1"/>
<ellipse cx="442.9" cy="401.7" rx="1.7" ry="2.8"/>
<ellipse cx="447.5" cy="407.7" rx="1.7" ry="2.1"/>
<ellipse cx="451.5" cy="417.9" rx="2.1" ry="2.4"/>
<ellipse cx="480.0" cy="412.8" rx="2.8" ry="2.4"/>
<ellipse cx="479.0" cy="412.5" rx="4.3" ry="3.7" stroke-dasharray="3 2"/>
<ellipse cx="477.4" cy="422.1" rx="2.8" ry="2.8"/>
<ellipse cx="476.6" cy="422.2" rx="4.3" ry="4.2" stroke-dasharray="3 2"/>
<ellipse cx="486.6" cy="422.6" rx="3.5" ry="3.1"/>
<ellipse cx="486.5" cy="422.9" rx="5.4" ry="4.7" stroke-dasharray="3 2"/>
<ellipse cx="496.7" cy="423.4" rx="2.4" ry="2.4"/>
<ellipse cx="496.4" cy="423.0" rx="3.8" ry="3.7" stroke-dasharray="3 2"/>
<ellipse cx="504.3" cy="410.3" rx="2.1" ry="1.7"/>
<ellipse cx="508.9" cy="416.1" rx="1.7" ry="2.8"/>
<ellipse cx="443.3" cy="337.1" rx="2.8" ry="1.7"/>
</g>
</g>
</g>
<rect x="371.80" y="334.80" width="27.70" height="15.80" fill="#fff"/>
<text x="384.40" y="345.70" font-size="7.2" fill="#1a1a1a" stroke="#1a1a1a" stroke-width="0.22" text-anchor="middle">KO</text>
<text x="372.20" y="433.80" font-size="7.0" fill="#fff" stroke="#fff" stroke-width="0.22" textLength="21.50" lengthAdjust="spacingAndGlyphs">0.5 µm</text>
<line x1="372.40" y1="436.20" x2="383.20" y2="436.20" stroke="#fff" stroke-width="1.3"/>
<line x1="222.00" y1="448.40" x2="222.00" y2="563.70" stroke="#111" stroke-width="1.1"/>
<line x1="221.50" y1="563.20" x2="300.00" y2="563.20" stroke="#111" stroke-width="1.1"/>
<line x1="219.20" y1="448.80" x2="222.00" y2="448.80" stroke="#111" stroke-width="0.9"/>
<text x="218.30" y="451.40" font-size="7.3" fill="#1a1a1a" stroke="#1a1a1a" stroke-width="0.22" text-anchor="end">10</text>
<line x1="219.20" y1="477.50" x2="222.00" y2="477.50" stroke="#111" stroke-width="0.9"/>
<text x="218.30" y="480.10" font-size="7.3" fill="#1a1a1a" stroke="#1a1a1a" stroke-width="0.22" text-anchor="end">5</text>
<line x1="219.20" y1="506.20" x2="222.00" y2="506.20" stroke="#111" stroke-width="0.9"/>
<text x="218.30" y="508.80" font-size="7.3" fill="#1a1a1a" stroke="#1a1a1a" stroke-width="0.22" text-anchor="end">0</text>
<line x1="219.20" y1="534.90" x2="222.00" y2="534.90" stroke="#111" stroke-width="0.9"/>
<text x="218.30" y="537.50" font-size="7.3" fill="#1a1a1a" stroke="#1a1a1a" stroke-width="0.22" text-anchor="end">−5</text>
<line x1="219.20" y1="563.20" x2="222.00" y2="563.20" stroke="#111" stroke-width="0.9"/>
<text x="218.30" y="565.80" font-size="7.3" fill="#1a1a1a" stroke="#1a1a1a" stroke-width="0.22" text-anchor="end">−10</text>
<text x="206.20" y="506.00" font-size="7.3" fill="#1a1a1a" stroke="#1a1a1a" stroke-width="0.22" text-anchor="middle" transform="rotate(-90 206.20 506.00)">Perimeter (log<tspan font-size="4.6" dy="1.6">2</tspan><tspan dy="-1.6">)</tspan></text>
<text x="266.30" y="458.00" font-size="7.3" fill="#1a1a1a" stroke="#1a1a1a" stroke-width="0.22" text-anchor="middle">0.0217</text>
<line x1="247.00" y1="460.50" x2="285.00" y2="460.50" stroke="#222" stroke-width="1.0"/>
<line x1="244.30" y1="563.20" x2="244.30" y2="566.20" stroke="#111" stroke-width="0.9"/>
<text x="244.30" y="574.60" font-size="7.3" fill="#1a1a1a" stroke="#1a1a1a" stroke-width="0.22" text-anchor="middle">WT</text>
<line x1="277.50" y1="563.20" x2="277.50" y2="566.20" stroke="#111" stroke-width="0.9"/>
<text x="278.10" y="574.60" font-size="7.3" fill="#1a1a1a" stroke="#1a1a1a" stroke-width="0.22" text-anchor="middle">CBFB_KO</text>
<line x1="223.5" y1="506.2" x2="300" y2="506.2" stroke="#1f3d48" stroke-width="1.2" stroke-dasharray="1.2 1.9"/>
<g fill="#ab1d24" fill-opacity="0.55" stroke="#ab1d24" stroke-width="0.8">
<circle cx="244.2" cy="472.3" r="0.78"/>
<circle cx="244.2" cy="473.5" r="0.78"/>
<circle cx="244.2" cy="474.9" r="0.78"/>
<circle cx="244.1" cy="477.3" r="0.78"/>
<circle cx="244.5" cy="482.2" r="0.78"/>
<circle cx="242.2" cy="484.2" r="0.78"/>
<circle cx="243.9" cy="484.4" r="0.78"/>
<circle cx="245.7" cy="484.6" r="0.78"/>
<circle cx="242.6" cy="486.0" r="0.78"/>
<circle cx="244.2" cy="486.1" r="0.78"/>
<circle cx="245.8" cy="486.4" r="0.78"/>
<circle cx="244.3" cy="487.3" r="0.78"/>
<circle cx="245.9" cy="487.1" r="0.78"/>
<circle cx="242.3" cy="489.1" r="0.78"/>
<circle cx="244.5" cy="489.1" r="0.78"/>
<circle cx="245.8" cy="489.1" r="0.78"/>
<circle cx="242.7" cy="490.1" r="0.78"/>
<circle cx="244.3" cy="490.4" r="0.78"/>
<circle cx="245.7" cy="490.1" r="0.78"/>
<circle cx="242.1" cy="491.4" r="0.78"/>
<circle cx="243.9" cy="491.8" r="0.78"/>
<circle cx="246.0" cy="491.6" r="0.78"/>
<circle cx="248.0" cy="491.3" r="0.78"/>
<circle cx="240.3" cy="492.9" r="0.78"/>
<circle cx="242.2" cy="493.4" r="0.78"/>
<circle cx="244.1" cy="493.3" r="0.78"/>
<circle cx="245.9" cy="493.3" r="0.78"/>
<circle cx="247.5" cy="493.4" r="0.78"/>
<circle cx="240.4" cy="494.6" r="0.78"/>
<circle cx="242.3" cy="494.1" r="0.78"/>
<circle cx="244.3" cy="494.2" r="0.78"/>
<circle cx="245.9" cy="494.4" r="0.78"/>
<circle cx="238.9" cy="496.1" r="0.78"/>
<circle cx="240.4" cy="496.1" r="0.78"/>
<circle cx="242.2" cy="495.6" r="0.78"/>
<circle cx="244.5" cy="495.6" r="0.78"/>
<circle cx="247.9" cy="495.7" r="0.78"/>
<circle cx="249.3" cy="496.2" r="0.78"/>
<circle cx="238.9" cy="497.0" r="0.78"/>
<circle cx="240.7" cy="497.0" r="0.78"/>
<circle cx="242.6" cy="496.9" r="0.78"/>
<circle cx="244.2" cy="497.5" r="0.78"/>
<circle cx="245.8" cy="497.5" r="0.78"/>
<circle cx="247.5" cy="497.0" r="0.78"/>
<circle cx="249.3" cy="496.9" r="0.78"/>
<circle cx="237.1" cy="498.3" r="0.78"/>
<circle cx="239.1" cy="499.0" r="0.78"/>
<circle cx="240.7" cy="498.7" r="0.78"/>
<circle cx="242.1" cy="498.2" r="0.78"/>
<circle cx="244.3" cy="499.0" r="0.78"/>
<circle cx="246.1" cy="498.6" r="0.78"/>
<circle cx="247.7" cy="499.0" r="0.78"/>
<circle cx="249.6" cy="498.8" r="0.78"/>
<circle cx="251.6" cy="498.8" r="0.78"/>
<circle cx="237.3" cy="499.9" r="0.78"/>
<circle cx="239.1" cy="500.3" r="0.78"/>
<circle cx="240.8" cy="500.3" r="0.78"/>
<circle cx="242.5" cy="499.9" r="0.78"/>
<circle cx="244.3" cy="499.7" r="0.78"/>
<circle cx="246.3" cy="500.3" r="0.78"/>
<circle cx="247.7" cy="500.2" r="0.78"/>
<circle cx="249.6" cy="500.3" r="0.78"/>
<circle cx="251.6" cy="499.6" r="0.78"/>
<circle cx="235.2" cy="501.2" r="0.78"/>
<circle cx="237.0" cy="501.5" r="0.78"/>
<circle cx="238.6" cy="501.0" r="0.78"/>
<circle cx="240.7" cy="501.2" r="0.78"/>
<circle cx="242.7" cy="501.5" r="0.78"/>
<circle cx="244.5" cy="501.3" r="0.78"/>
<circle cx="245.8" cy="501.3" r="0.78"/>
<circle cx="248.1" cy="501.7" r="0.78"/>
<circle cx="249.7" cy="501.3" r="0.78"/>
<circle cx="251.4" cy="501.7" r="0.78"/>
<circle cx="253.3" cy="501.8" r="0.78"/>
<circle cx="235.0" cy="502.8" r="0.78"/>
<circle cx="236.8" cy="502.7" r="0.78"/>
<circle cx="238.8" cy="502.7" r="0.78"/>
<circle cx="240.9" cy="502.8" r="0.78"/>
<circle cx="242.1" cy="503.1" r="0.78"/>
<circle cx="244.3" cy="502.9" r="0.78"/>
<circle cx="246.2" cy="502.4" r="0.78"/>
<circle cx="247.8" cy="502.4" r="0.78"/>
<circle cx="249.4" cy="502.5" r="0.78"/>
<circle cx="251.5" cy="502.8" r="0.78"/>
<circle cx="253.3" cy="503.0" r="0.78"/>
<circle cx="236.8" cy="504.2" r="0.78"/>
<circle cx="238.5" cy="504.2" r="0.78"/>
<circle cx="240.4" cy="504.0" r="0.78"/>
<circle cx="242.5" cy="504.2" r="0.78"/>
<circle cx="244.4" cy="504.1" r="0.78"/>
<circle cx="246.3" cy="503.9" r="0.78"/>
<circle cx="249.3" cy="504.2" r="0.78"/>
<circle cx="251.7" cy="504.1" r="0.78"/>
<circle cx="253.5" cy="504.4" r="0.78"/>
<circle cx="237.1" cy="505.4" r="0.78"/>
<circle cx="239.0" cy="505.7" r="0.78"/>
<circle cx="240.4" cy="505.9" r="0.78"/>
<circle cx="246.2" cy="505.5" r="0.78"/>
<circle cx="248.0" cy="505.5" r="0.78"/>
<circle cx="249.6" cy="505.6" r="0.78"/>
<circle cx="251.4" cy="505.2" r="0.78"/>
<circle cx="252.9" cy="505.8" r="0.78"/>
<circle cx="235.1" cy="507.2" r="0.78"/>
<circle cx="236.8" cy="507.0" r="0.78"/>
<circle cx="239.0" cy="507.2" r="0.78"/>
<circle cx="242.7" cy="506.7" r="0.78"/>
<circle cx="244.2" cy="506.8" r="0.78"/>
<circle cx="246.1" cy="507.0" r="0.78"/>
<circle cx="247.8" cy="506.8" r="0.78"/>
<circle cx="249.8" cy="507.3" r="0.78"/>
<circle cx="251.6" cy="507.4" r="0.78"/>
<circle cx="253.3" cy="506.8" r="0.78"/>
<circle cx="237.0" cy="508.5" r="0.78"/>
<circle cx="239.1" cy="508.4" r="0.78"/>
<circle cx="240.8" cy="508.5" r="0.78"/>
<circle cx="242.5" cy="508.1" r="0.78"/>
<circle cx="244.1" cy="508.8" r="0.78"/>
<circle cx="245.8" cy="508.4" r="0.78"/>
<circle cx="247.8" cy="508.7" r="0.78"/>
<circle cx="249.6" cy="508.3" r="0.78"/>
<circle cx="251.5" cy="508.7" r="0.78"/>
<circle cx="237.2" cy="509.4" r="0.78"/>
<circle cx="238.6" cy="509.9" r="0.78"/>
<circle cx="240.5" cy="509.9" r="0.78"/>
<circle cx="242.6" cy="509.5" r="0.78"/>
<circle cx="244.0" cy="509.6" r="0.78"/>
<circle cx="246.0" cy="509.7" r="0.78"/>
<circle cx="247.8" cy="509.5" r="0.78"/>
<circle cx="249.7" cy="509.9" r="0.78"/>
<circle cx="251.6" cy="509.9" r="0.78"/>
<circle cx="238.6" cy="511.4" r="0.78"/>
<circle cx="240.9" cy="511.1" r="0.78"/>
<circle cx="242.7" cy="511.0" r="0.78"/>
<circle cx="245.7" cy="511.0" r="0.78"/>
<circle cx="247.6" cy="510.9" r="0.78"/>
<circle cx="249.5" cy="511.4" r="0.78"/>
<circle cx="240.5" cy="512.7" r="0.78"/>
<circle cx="242.2" cy="512.7" r="0.78"/>
<circle cx="244.5" cy="512.3" r="0.78"/>
<circle cx="246.2" cy="512.6" r="0.78"/>
<circle cx="247.6" cy="512.3" r="0.78"/>
<circle cx="242.1" cy="514.0" r="0.78"/>
<circle cx="244.2" cy="513.7" r="0.78"/>
<circle cx="245.8" cy="514.3" r="0.78"/>
<circle cx="243.9" cy="515.0" r="0.78"/>
<circle cx="244.4" cy="516.7" r="0.78"/>
<circle cx="244.2" cy="518.1" r="0.78"/>
<circle cx="244.3" cy="521.3" r="0.78"/>
<circle cx="244.2" cy="522.6" r="0.78"/>
<circle cx="244.0" cy="523.5" r="0.78"/>
<circle cx="244.5" cy="526.8" r="0.78"/>
<circle cx="244.3" cy="532.2" r="0.78"/>
<circle cx="244.5" cy="536.6" r="0.78"/>
<circle cx="244.5" cy="540.9" r="0.78"/>
</g>
<g fill="#3b72c4">
<polygon points="279.25,486.55 279.25,487.85 279.25,487.85 279.25,489.15 279.90,489.15 279.90,490.45 280.55,490.45 280.55,491.75 281.20,491.75 281.20,493.05 281.85,493.05 281.85,494.35 281.85,494.35 281.85,495.65 282.50,495.65 282.50,496.95 283.15,496.95 283.15,498.25 283.80,498.25 283.80,499.55 283.80,499.55 283.80,500.85 284.45,500.85 284.45,502.15 285.10,502.15 285.10,503.45 285.75,503.45 285.75,504.75 285.75,504.75 285.75,506.05 286.40,506.05 286.40,507.35 287.05,507.35 287.05,508.65 287.70,508.65 287.70,509.95 288.35,509.95 288.35,511.25 278.60,511.25 278.60,512.55 278.60,512.55 278.60,513.85 278.60,513.85 278.60,515.15 278.60,515.15 278.60,516.45 278.60,516.45 278.60,517.75 278.60,517.75 278.60,519.05 278.60,519.05 278.60,520.35 278.60,520.35 278.60,521.65 278.60,521.65 278.60,522.95 276.00,522.95 276.00,521.65 276.00,521.65 276.00,520.35 276.00,520.35 276.00,519.05 276.00,519.05 276.00,517.75 276.00,517.75 276.00,516.45 276.00,516.45 276.00,515.15 276.00,515.15 276.00,513.85 276.00,513.85 276.00,512.55 276.00,512.55 276.00,511.25 266.25,511.25 266.25,509.95 266.90,509.95 266.90,508.65 267.55,508.65 267.55,507.35 268.20,507.35 268.20,506.05 268.85,506.05 268.85,504.75 268.85,504.75 268.85,503.45 269.50,503.45 269.50,502.15 270.15,502.15 270.15,500.85 270.80,500.85 270.80,499.55 270.80,499.55 270.80,498.25 271.45,498.25 271.45,496.95 272.10,496.95 272.10,495.65 272.75,495.65 272.75,494.35 272.75,494.35 272.75,493.05 273.40,493.05 273.40,491.75 274.05,491.75 274.05,490.45 274.70,490.45 274.70,489.15 275.35,489.15 275.35,487.85 275.35,487.85 275.35,486.55"/>
<rect x="276.65" y="481.40" width="1.3" height="1.3"/>
<rect x="276.65" y="484.00" width="1.3" height="1.3"/>
<rect x="276.65" y="523.00" width="1.3" height="1.3"/>
<rect x="276.65" y="525.60" width="1.3" height="1.3"/>
<rect x="276.65" y="528.20" width="1.3" height="1.3"/>
<rect x="276.65" y="530.80" width="1.3" height="1.3"/>
</g>
<line x1="329.50" y1="453.40" x2="329.50" y2="563.50" stroke="#111" stroke-width="1.1"/>
<line x1="329.00" y1="563.00" x2="404.50" y2="563.00" stroke="#111" stroke-width="1.1"/>
<line x1="326.70" y1="453.80" x2="329.50" y2="453.80" stroke="#111" stroke-width="0.9"/>
<text x="325.80" y="456.40" font-size="7.3" fill="#1a1a1a" stroke="#1a1a1a" stroke-width="0.22" text-anchor="end">5</text>
<line x1="326.70" y1="490.00" x2="329.50" y2="490.00" stroke="#111" stroke-width="0.9"/>
<text x="325.80" y="492.60" font-size="7.3" fill="#1a1a1a" stroke="#1a1a1a" stroke-width="0.22" text-anchor="end">0</text>
<line x1="326.70" y1="526.60" x2="329.50" y2="526.60" stroke="#111" stroke-width="0.9"/>
<text x="325.80" y="529.20" font-size="7.3" fill="#1a1a1a" stroke="#1a1a1a" stroke-width="0.22" text-anchor="end">−5</text>
<line x1="326.70" y1="563.00" x2="329.50" y2="563.00" stroke="#111" stroke-width="0.9"/>
<text x="325.80" y="565.60" font-size="7.3" fill="#1a1a1a" stroke="#1a1a1a" stroke-width="0.22" text-anchor="end">−10</text>
<text x="316.20" y="502.50" font-size="7.3" fill="#1a1a1a" stroke="#1a1a1a" stroke-width="0.22" text-anchor="middle" transform="rotate(-90 316.20 502.50)">Feret diameter (log<tspan font-size="4.6" dy="1.6">2</tspan><tspan dy="-1.6">)</tspan></text>
<text x="367.00" y="458.00" font-size="7.3" fill="#1a1a1a" stroke="#1a1a1a" stroke-width="0.22" text-anchor="middle">0.0024</text>
<line x1="347.50" y1="460.50" x2="385.00" y2="460.50" stroke="#222" stroke-width="1.0"/>
<line x1="350.80" y1="563.00" x2="350.80" y2="566.00" stroke="#111" stroke-width="0.9"/>
<text x="350.80" y="574.40" font-size="7.3" fill="#1a1a1a" stroke="#1a1a1a" stroke-width="0.22" text-anchor="middle">WT</text>
<line x1="382.80" y1="563.00" x2="382.80" y2="566.00" stroke="#111" stroke-width="0.9"/>
<text x="383.40" y="574.40" font-size="7.3" fill="#1a1a1a" stroke="#1a1a1a" stroke-width="0.22" text-anchor="middle">CBFB_KO</text>
<line x1="331" y1="490" x2="404.5" y2="490" stroke="#1f3d48" stroke-width="1.2" stroke-dasharray="1.2 1.9"/>
<g fill="#ab1d24" fill-opacity="0.55" stroke="#ab1d24" stroke-width="0.8">
<circle cx="350.9" cy="467.6" r="0.78"/>
<circle cx="350.5" cy="468.8" r="0.78"/>
<circle cx="351.0" cy="470.5" r="0.78"/>
<circle cx="350.8" cy="475.6" r="0.78"/>
<circle cx="350.5" cy="477.6" r="0.78"/>
<circle cx="349.1" cy="478.6" r="0.78"/>
<circle cx="351.0" cy="478.3" r="0.78"/>
<circle cx="352.9" cy="478.7" r="0.78"/>
<circle cx="349.3" cy="480.5" r="0.78"/>
<circle cx="350.7" cy="479.8" r="0.78"/>
<circle cx="352.7" cy="479.8" r="0.78"/>
<circle cx="348.7" cy="481.2" r="0.78"/>
<circle cx="350.7" cy="481.4" r="0.78"/>
<circle cx="352.6" cy="481.4" r="0.78"/>
<circle cx="347.4" cy="483.3" r="0.78"/>
<circle cx="350.7" cy="482.8" r="0.78"/>
<circle cx="352.7" cy="482.6" r="0.78"/>
<circle cx="354.3" cy="482.9" r="0.78"/>
<circle cx="347.2" cy="483.9" r="0.78"/>
<circle cx="349.0" cy="484.3" r="0.78"/>
<circle cx="350.7" cy="484.2" r="0.78"/>
<circle cx="352.3" cy="484.3" r="0.78"/>
<circle cx="354.5" cy="483.9" r="0.78"/>
<circle cx="347.1" cy="485.8" r="0.78"/>
<circle cx="349.0" cy="485.5" r="0.78"/>
<circle cx="350.8" cy="486.1" r="0.78"/>
<circle cx="352.9" cy="485.4" r="0.78"/>
<circle cx="354.3" cy="485.5" r="0.78"/>
<circle cx="345.7" cy="486.7" r="0.78"/>
<circle cx="347.4" cy="487.0" r="0.78"/>
<circle cx="348.7" cy="486.7" r="0.78"/>
<circle cx="351.1" cy="487.5" r="0.78"/>
<circle cx="352.3" cy="487.0" r="0.78"/>
<circle cx="354.6" cy="487.2" r="0.78"/>
<circle cx="356.2" cy="487.1" r="0.78"/>
<circle cx="345.2" cy="488.9" r="0.78"/>
<circle cx="347.0" cy="488.3" r="0.78"/>
<circle cx="348.8" cy="488.9" r="0.78"/>
<circle cx="350.9" cy="488.7" r="0.78"/>
<circle cx="352.4" cy="488.3" r="0.78"/>
<circle cx="354.5" cy="488.2" r="0.78"/>
<circle cx="356.1" cy="488.3" r="0.78"/>
<circle cx="343.9" cy="489.9" r="0.78"/>
<circle cx="345.7" cy="490.3" r="0.78"/>
<circle cx="347.1" cy="490.0" r="0.78"/>
<circle cx="349.2" cy="490.0" r="0.78"/>
<circle cx="350.7" cy="490.1" r="0.78"/>
<circle cx="352.3" cy="490.1" r="0.78"/>
<circle cx="354.6" cy="490.2" r="0.78"/>
<circle cx="356.2" cy="490.1" r="0.78"/>
<circle cx="357.7" cy="489.8" r="0.78"/>
<circle cx="343.9" cy="491.5" r="0.78"/>
<circle cx="345.5" cy="491.0" r="0.78"/>
<circle cx="347.3" cy="491.2" r="0.78"/>
<circle cx="348.9" cy="491.2" r="0.78"/>
<circle cx="350.5" cy="491.0" r="0.78"/>
<circle cx="352.7" cy="491.5" r="0.78"/>
<circle cx="354.7" cy="491.2" r="0.78"/>
<circle cx="356.2" cy="491.3" r="0.78"/>
<circle cx="358.1" cy="491.2" r="0.78"/>
<circle cx="343.5" cy="493.1" r="0.78"/>
<circle cx="345.3" cy="492.5" r="0.78"/>
<circle cx="347.2" cy="492.5" r="0.78"/>
<circle cx="349.0" cy="492.9" r="0.78"/>
<circle cx="350.8" cy="492.8" r="0.78"/>
<circle cx="352.4" cy="492.7" r="0.78"/>
<circle cx="354.6" cy="492.5" r="0.78"/>
<circle cx="356.4" cy="492.6" r="0.78"/>
<circle cx="358.1" cy="493.1" r="0.78"/>
<circle cx="341.9" cy="494.0" r="0.78"/>
<circle cx="343.5" cy="494.1" r="0.78"/>
<circle cx="345.3" cy="493.8" r="0.78"/>
<circle cx="347.2" cy="493.9" r="0.78"/>
<circle cx="349.2" cy="493.9" r="0.78"/>
<circle cx="352.5" cy="494.4" r="0.78"/>
<circle cx="354.3" cy="493.8" r="0.78"/>
<circle cx="356.4" cy="494.2" r="0.78"/>
<circle cx="357.9" cy="494.2" r="0.78"/>
<circle cx="359.7" cy="494.0" r="0.78"/>
<circle cx="341.7" cy="495.7" r="0.78"/>
<circle cx="343.4" cy="495.3" r="0.78"/>
<circle cx="346.9" cy="495.8" r="0.78"/>
<circle cx="349.2" cy="495.4" r="0.78"/>
<circle cx="350.7" cy="495.2" r="0.78"/>
<circle cx="352.8" cy="495.3" r="0.78"/>
<circle cx="354.1" cy="495.3" r="0.78"/>
<circle cx="356.0" cy="495.2" r="0.78"/>
<circle cx="357.9" cy="495.3" r="0.78"/>
<circle cx="359.7" cy="495.8" r="0.78"/>
<circle cx="341.5" cy="497.0" r="0.78"/>
<circle cx="343.6" cy="496.9" r="0.78"/>
<circle cx="345.6" cy="496.9" r="0.78"/>
<circle cx="347.2" cy="497.0" r="0.78"/>
<circle cx="348.9" cy="496.9" r="0.78"/>
<circle cx="350.6" cy="497.2" r="0.78"/>
<circle cx="352.8" cy="497.1" r="0.78"/>
<circle cx="356.1" cy="496.8" r="0.78"/>
<circle cx="358.2" cy="497.2" r="0.78"/>
<circle cx="359.5" cy="496.6" r="0.78"/>
<circle cx="341.5" cy="497.9" r="0.78"/>
<circle cx="343.3" cy="498.4" r="0.78"/>
<circle cx="345.7" cy="498.7" r="0.78"/>
<circle cx="347.5" cy="497.9" r="0.78"/>
<circle cx="349.3" cy="498.3" r="0.78"/>
<circle cx="351.0" cy="498.2" r="0.78"/>
<circle cx="352.5" cy="498.1" r="0.78"/>
<circle cx="354.5" cy="498.7" r="0.78"/>
<circle cx="358.3" cy="498.2" r="0.78"/>
<circle cx="360.1" cy="498.4" r="0.78"/>
<circle cx="341.5" cy="499.5" r="0.78"/>
<circle cx="343.8" cy="500.0" r="0.78"/>
<circle cx="345.3" cy="499.6" r="0.78"/>
<circle cx="347.5" cy="499.7" r="0.78"/>
<circle cx="349.1" cy="499.7" r="0.78"/>
<circle cx="350.6" cy="499.6" r="0.78"/>
<circle cx="352.3" cy="499.7" r="0.78"/>
<circle cx="356.0" cy="499.6" r="0.78"/>
<circle cx="358.2" cy="499.8" r="0.78"/>
<circle cx="359.8" cy="499.8" r="0.78"/>
<circle cx="341.7" cy="500.9" r="0.78"/>
<circle cx="343.9" cy="501.0" r="0.78"/>
<circle cx="345.4" cy="500.8" r="0.78"/>
<circle cx="347.0" cy="501.0" r="0.78"/>
<circle cx="348.9" cy="501.5" r="0.78"/>
<circle cx="350.7" cy="501.2" r="0.78"/>
<circle cx="352.6" cy="501.2" r="0.78"/>
<circle cx="354.5" cy="500.8" r="0.78"/>
<circle cx="356.4" cy="501.5" r="0.78"/>
<circle cx="357.8" cy="501.1" r="0.78"/>
<circle cx="360.0" cy="500.9" r="0.78"/>
<circle cx="343.7" cy="502.6" r="0.78"/>
<circle cx="345.4" cy="502.9" r="0.78"/>
<circle cx="347.5" cy="502.4" r="0.78"/>
<circle cx="348.9" cy="502.7" r="0.78"/>
<circle cx="350.6" cy="502.5" r="0.78"/>
<circle cx="352.6" cy="502.6" r="0.78"/>
<circle cx="354.6" cy="502.4" r="0.78"/>
<circle cx="355.9" cy="502.8" r="0.78"/>
<circle cx="357.9" cy="502.9" r="0.78"/>
<circle cx="343.4" cy="504.2" r="0.78"/>
<circle cx="345.3" cy="503.7" r="0.78"/>
<circle cx="346.9" cy="503.5" r="0.78"/>
<circle cx="348.9" cy="503.6" r="0.78"/>
<circle cx="351.0" cy="503.8" r="0.78"/>
<circle cx="352.7" cy="504.2" r="0.78"/>
<circle cx="354.2" cy="504.2" r="0.78"/>
<circle cx="356.5" cy="503.9" r="0.78"/>
<circle cx="357.8" cy="504.2" r="0.78"/>
<circle cx="343.6" cy="505.5" r="0.78"/>
<circle cx="345.4" cy="505.6" r="0.78"/>
<circle cx="347.3" cy="505.0" r="0.78"/>
<circle cx="349.2" cy="505.4" r="0.78"/>
<circle cx="350.5" cy="505.3" r="0.78"/>
<circle cx="352.5" cy="505.0" r="0.78"/>
<circle cx="354.4" cy="505.3" r="0.78"/>
<circle cx="356.5" cy="505.3" r="0.78"/>
<circle cx="358.2" cy="505.2" r="0.78"/>
<circle cx="345.1" cy="506.9" r="0.78"/>
<circle cx="347.3" cy="507.1" r="0.78"/>
<circle cx="348.9" cy="506.9" r="0.78"/>
<circle cx="350.8" cy="506.9" r="0.78"/>
<circle cx="352.9" cy="506.8" r="0.78"/>
<circle cx="354.3" cy="506.4" r="0.78"/>
<circle cx="355.9" cy="507.1" r="0.78"/>
<circle cx="345.5" cy="507.8" r="0.78"/>
<circle cx="348.8" cy="508.4" r="0.78"/>
<circle cx="351.1" cy="507.9" r="0.78"/>
<circle cx="352.7" cy="507.9" r="0.78"/>
<circle cx="354.5" cy="508.3" r="0.78"/>
<circle cx="356.4" cy="507.9" r="0.78"/>
<circle cx="347.2" cy="509.2" r="0.78"/>
<circle cx="349.1" cy="509.4" r="0.78"/>
<circle cx="350.8" cy="509.4" r="0.78"/>
<circle cx="352.6" cy="509.5" r="0.78"/>
<circle cx="354.7" cy="509.8" r="0.78"/>
<circle cx="347.5" cy="510.8" r="0.78"/>
<circle cx="350.7" cy="511.2" r="0.78"/>
<circle cx="352.7" cy="510.7" r="0.78"/>
<circle cx="354.7" cy="510.6" r="0.78"/>
<circle cx="347.2" cy="512.6" r="0.78"/>
<circle cx="349.3" cy="512.5" r="0.78"/>
<circle cx="351.1" cy="512.2" r="0.78"/>
<circle cx="352.9" cy="512.6" r="0.78"/>
<circle cx="354.4" cy="512.1" r="0.78"/>
<circle cx="348.7" cy="513.4" r="0.78"/>
<circle cx="351.1" cy="514.0" r="0.78"/>
<circle cx="352.7" cy="513.7" r="0.78"/>
<circle cx="349.1" cy="515.5" r="0.78"/>
<circle cx="350.9" cy="515.2" r="0.78"/>
<circle cx="352.6" cy="515.1" r="0.78"/>
<circle cx="350.6" cy="516.4" r="0.78"/>
<circle cx="350.9" cy="517.8" r="0.78"/>
<circle cx="350.7" cy="523.3" r="0.78"/>
<circle cx="350.8" cy="530.2" r="0.78"/>
<circle cx="350.9" cy="531.6" r="0.78"/>
<circle cx="351.0" cy="533.3" r="0.78"/>
<circle cx="350.5" cy="536.5" r="0.78"/>
<circle cx="351.1" cy="541.7" r="0.78"/>
<circle cx="350.6" cy="544.5" r="0.78"/>
<circle cx="351.1" cy="545.7" r="0.78"/>
</g>
<line x1="340.50" y1="496.30" x2="360.80" y2="496.30" stroke="#111" stroke-width="1.2"/>
<g fill="#3b72c4">
<polygon points="384.60,481.85 384.60,483.15 385.25,483.15 385.25,484.45 385.90,484.45 385.90,485.75 386.55,485.75 386.55,487.05 387.20,487.05 387.20,488.35 388.50,488.35 388.50,489.65 389.15,489.65 389.15,490.95 390.45,490.95 390.45,492.25 391.10,492.25 391.10,493.55 391.75,493.55 391.75,494.85 392.40,494.85 392.40,496.15 393.05,496.15 393.05,497.45 393.05,497.45 393.05,498.75 392.40,498.75 392.40,500.05 392.40,500.05 392.40,501.35 392.40,501.35 392.40,502.65 391.75,502.65 391.75,503.95 391.10,503.95 391.10,505.25 390.45,505.25 390.45,506.55 389.80,506.55 389.80,507.85 389.15,507.85 389.15,509.15 388.50,509.15 388.50,510.45 387.85,510.45 387.85,511.75 387.20,511.75 387.20,513.05 386.55,513.05 386.55,514.35 385.90,514.35 385.90,515.65 384.60,515.65 384.60,516.95 383.95,516.95 383.95,518.25 383.30,518.25 383.30,519.55 383.30,519.55 383.30,520.85 383.30,520.85 383.30,522.15 383.30,522.15 383.30,523.45 383.30,523.45 383.30,524.75 380.70,524.75 380.70,523.45 380.70,523.45 380.70,522.15 380.70,522.15 380.70,520.85 380.70,520.85 380.70,519.55 380.70,519.55 380.70,518.25 380.05,518.25 380.05,516.95 379.40,516.95 379.40,515.65 378.10,515.65 378.10,514.35 377.45,514.35 377.45,513.05 376.80,513.05 376.80,511.75 376.15,511.75 376.15,510.45 375.50,510.45 375.50,509.15 374.85,509.15 374.85,507.85 374.20,507.85 374.20,506.55 373.55,506.55 373.55,505.25 372.90,505.25 372.90,503.95 372.25,503.95 372.25,502.65 371.60,502.65 371.60,501.35 371.60,501.35 371.60,500.05 371.60,500.05 371.60,498.75 370.95,498.75 370.95,497.45 370.95,497.45 370.95,496.15 371.60,496.15 371.60,494.85 372.25,494.85 372.25,493.55 372.90,493.55 372.90,492.25 373.55,492.25 373.55,490.95 374.85,490.95 374.85,489.65 375.50,489.65 375.50,488.35 376.80,488.35 376.80,487.05 377.45,487.05 377.45,485.75 378.10,485.75 378.10,484.45 378.75,484.45 378.75,483.15 379.40,483.15 379.40,481.85"/>
<rect x="381.35" y="475.40" width="1.3" height="1.3"/>
<rect x="381.35" y="478.00" width="1.3" height="1.3"/>
<rect x="381.35" y="480.60" width="1.3" height="1.3"/>
<rect x="381.35" y="524.80" width="1.3" height="1.3"/>
<rect x="381.35" y="527.40" width="1.3" height="1.3"/>
<rect x="381.35" y="530.00" width="1.3" height="1.3"/>
<rect x="381.35" y="532.60" width="1.3" height="1.3"/>
</g>
<line x1="437.50" y1="449.10" x2="437.50" y2="563.50" stroke="#111" stroke-width="1.1"/>
<line x1="437.00" y1="563.00" x2="513.80" y2="563.00" stroke="#111" stroke-width="1.1"/>
<line x1="434.70" y1="449.50" x2="437.50" y2="449.50" stroke="#111" stroke-width="0.9"/>
<text x="433.80" y="452.10" font-size="7.3" fill="#1a1a1a" stroke="#1a1a1a" stroke-width="0.22" text-anchor="end">1.5</text>
<line x1="434.70" y1="487.40" x2="437.50" y2="487.40" stroke="#111" stroke-width="0.9"/>
<text x="433.80" y="490.00" font-size="7.3" fill="#1a1a1a" stroke="#1a1a1a" stroke-width="0.22" text-anchor="end">1.0</text>
<line x1="434.70" y1="525.30" x2="437.50" y2="525.30" stroke="#111" stroke-width="0.9"/>
<text x="433.80" y="527.90" font-size="7.3" fill="#1a1a1a" stroke="#1a1a1a" stroke-width="0.22" text-anchor="end">0.5</text>
<line x1="434.70" y1="563.00" x2="437.50" y2="563.00" stroke="#111" stroke-width="0.9"/>
<text x="433.80" y="565.60" font-size="7.3" fill="#1a1a1a" stroke="#1a1a1a" stroke-width="0.22" text-anchor="end">0</text>
<text x="418.20" y="500.50" font-size="7.3" fill="#1a1a1a" stroke="#1a1a1a" stroke-width="0.22" text-anchor="middle" transform="rotate(-90 418.20 500.50)">Circularity</text>
<text x="479.50" y="458.00" font-size="7.3" fill="#1a1a1a" stroke="#1a1a1a" stroke-width="0.22" text-anchor="middle">0.0367</text>
<line x1="459.50" y1="460.50" x2="499.50" y2="460.50" stroke="#222" stroke-width="1.0"/>
<line x1="458.50" y1="563.00" x2="458.50" y2="566.00" stroke="#111" stroke-width="0.9"/>
<text x="458.50" y="574.40" font-size="7.3" fill="#1a1a1a" stroke="#1a1a1a" stroke-width="0.22" text-anchor="middle">WT</text>
<line x1="491.30" y1="563.00" x2="491.30" y2="566.00" stroke="#111" stroke-width="0.9"/>
<text x="491.90" y="574.40" font-size="7.3" fill="#1a1a1a" stroke="#1a1a1a" stroke-width="0.22" text-anchor="middle">CBFB_KO</text>
<g fill="#c9353c" fill-opacity="0.15" stroke="#c9353c" stroke-width="0.6">
<circle cx="458.9" cy="487.1" r="0.78"/>
<circle cx="458.6" cy="490.2" r="0.78"/>
<circle cx="459.0" cy="492.0" r="0.78"/>
<circle cx="456.5" cy="493.8" r="0.78"/>
<circle cx="459.0" cy="494.1" r="0.78"/>
<circle cx="460.7" cy="493.7" r="0.78"/>
<circle cx="465.3" cy="495.7" r="0.78"/>
<circle cx="450.4" cy="497.4" r="0.78"/>
<circle cx="452.4" cy="497.2" r="0.78"/>
<circle cx="463.2" cy="497.2" r="0.78"/>
<circle cx="467.0" cy="497.3" r="0.78"/>
<circle cx="450.2" cy="499.2" r="0.78"/>
<circle cx="452.4" cy="499.0" r="0.78"/>
<circle cx="454.4" cy="499.0" r="0.78"/>
<circle cx="456.6" cy="498.9" r="0.78"/>
<circle cx="463.2" cy="499.6" r="0.78"/>
<circle cx="464.8" cy="499.5" r="0.78"/>
<circle cx="452.4" cy="501.3" r="0.78"/>
<circle cx="459.0" cy="500.9" r="0.78"/>
<circle cx="463.3" cy="501.1" r="0.78"/>
<circle cx="467.3" cy="501.1" r="0.78"/>
<circle cx="450.3" cy="502.9" r="0.78"/>
<circle cx="452.4" cy="502.5" r="0.78"/>
<circle cx="456.5" cy="502.4" r="0.78"/>
<circle cx="460.9" cy="502.4" r="0.78"/>
<circle cx="462.9" cy="502.4" r="0.78"/>
<circle cx="465.4" cy="502.4" r="0.78"/>
<circle cx="467.0" cy="502.8" r="0.78"/>
<circle cx="450.4" cy="504.4" r="0.78"/>
<circle cx="454.5" cy="504.5" r="0.78"/>
<circle cx="458.8" cy="504.6" r="0.78"/>
<circle cx="460.6" cy="504.5" r="0.78"/>
<circle cx="467.3" cy="504.8" r="0.78"/>
<circle cx="450.5" cy="506.1" r="0.78"/>
<circle cx="452.4" cy="506.0" r="0.78"/>
<circle cx="454.3" cy="506.2" r="0.78"/>
<circle cx="456.9" cy="506.3" r="0.78"/>
<circle cx="459.0" cy="506.0" r="0.78"/>
<circle cx="460.9" cy="506.1" r="0.78"/>
<circle cx="463.0" cy="506.0" r="0.78"/>
<circle cx="467.4" cy="506.0" r="0.78"/>
<circle cx="450.3" cy="507.6" r="0.78"/>
<circle cx="452.4" cy="508.0" r="0.78"/>
<circle cx="458.8" cy="507.7" r="0.78"/>
<circle cx="463.3" cy="508.0" r="0.78"/>
<circle cx="464.8" cy="507.8" r="0.78"/>
<circle cx="450.4" cy="509.6" r="0.78"/>
<circle cx="452.7" cy="509.5" r="0.78"/>
<circle cx="461.2" cy="509.7" r="0.78"/>
<circle cx="463.1" cy="510.0" r="0.78"/>
<circle cx="466.9" cy="509.8" r="0.78"/>
<circle cx="452.4" cy="511.9" r="0.78"/>
<circle cx="454.3" cy="511.1" r="0.78"/>
<circle cx="456.9" cy="511.2" r="0.78"/>
<circle cx="467.3" cy="511.8" r="0.78"/>
<circle cx="452.7" cy="512.9" r="0.78"/>
<circle cx="454.9" cy="513.2" r="0.78"/>
<circle cx="456.9" cy="513.2" r="0.78"/>
<circle cx="458.5" cy="513.1" r="0.78"/>
<circle cx="461.2" cy="513.0" r="0.78"/>
<circle cx="467.5" cy="513.5" r="0.78"/>
<circle cx="450.2" cy="515.0" r="0.78"/>
<circle cx="454.4" cy="514.9" r="0.78"/>
<circle cx="456.5" cy="515.1" r="0.78"/>
<circle cx="459.0" cy="514.7" r="0.78"/>
<circle cx="461.0" cy="514.8" r="0.78"/>
<circle cx="465.1" cy="515.3" r="0.78"/>
<circle cx="467.4" cy="515.1" r="0.78"/>
<circle cx="450.7" cy="516.4" r="0.78"/>
<circle cx="454.8" cy="516.5" r="0.78"/>
<circle cx="456.7" cy="517.1" r="0.78"/>
<circle cx="458.8" cy="516.8" r="0.78"/>
<circle cx="460.9" cy="516.4" r="0.78"/>
<circle cx="463.2" cy="516.6" r="0.78"/>
<circle cx="464.8" cy="516.9" r="0.78"/>
<circle cx="467.5" cy="516.9" r="0.78"/>
<circle cx="450.7" cy="518.8" r="0.78"/>
<circle cx="462.8" cy="518.2" r="0.78"/>
<circle cx="466.9" cy="518.6" r="0.78"/>
<circle cx="450.4" cy="520.5" r="0.78"/>
<circle cx="454.8" cy="520.2" r="0.78"/>
<circle cx="456.6" cy="520.6" r="0.78"/>
<circle cx="459.1" cy="520.1" r="0.78"/>
<circle cx="466.9" cy="520.2" r="0.78"/>
<circle cx="452.7" cy="522.2" r="0.78"/>
<circle cx="456.6" cy="522.1" r="0.78"/>
<circle cx="460.7" cy="521.7" r="0.78"/>
<circle cx="462.9" cy="522.4" r="0.78"/>
<circle cx="465.4" cy="521.8" r="0.78"/>
<circle cx="452.8" cy="523.4" r="0.78"/>
<circle cx="454.3" cy="523.4" r="0.78"/>
<circle cx="456.5" cy="523.5" r="0.78"/>
<circle cx="458.9" cy="523.4" r="0.78"/>
<circle cx="460.9" cy="524.1" r="0.78"/>
<circle cx="458.5" cy="525.6" r="0.78"/>
<circle cx="460.9" cy="525.7" r="0.78"/>
<circle cx="463.1" cy="525.4" r="0.78"/>
<circle cx="464.9" cy="525.3" r="0.78"/>
<circle cx="452.5" cy="527.6" r="0.78"/>
<circle cx="454.8" cy="526.9" r="0.78"/>
<circle cx="459.1" cy="527.6" r="0.78"/>
<circle cx="461.1" cy="527.0" r="0.78"/>
<circle cx="462.7" cy="527.2" r="0.78"/>
<circle cx="465.2" cy="527.3" r="0.78"/>
<circle cx="452.6" cy="528.8" r="0.78"/>
<circle cx="454.5" cy="528.6" r="0.78"/>
<circle cx="458.5" cy="529.2" r="0.78"/>
<circle cx="462.9" cy="528.7" r="0.78"/>
<circle cx="465.1" cy="528.8" r="0.78"/>
<circle cx="452.8" cy="530.4" r="0.78"/>
<circle cx="454.8" cy="530.9" r="0.78"/>
<circle cx="456.9" cy="530.8" r="0.78"/>
<circle cx="465.3" cy="530.7" r="0.78"/>
<circle cx="452.7" cy="532.6" r="0.78"/>
<circle cx="454.3" cy="532.7" r="0.78"/>
<circle cx="456.7" cy="532.3" r="0.78"/>
<circle cx="458.7" cy="532.8" r="0.78"/>
<circle cx="460.9" cy="532.7" r="0.78"/>
<circle cx="463.0" cy="532.7" r="0.78"/>
<circle cx="456.7" cy="534.0" r="0.78"/>
<circle cx="458.8" cy="534.2" r="0.78"/>
<circle cx="462.9" cy="534.4" r="0.78"/>
<circle cx="465.3" cy="534.0" r="0.78"/>
<circle cx="454.6" cy="535.6" r="0.78"/>
<circle cx="456.9" cy="536.2" r="0.78"/>
<circle cx="458.7" cy="535.6" r="0.78"/>
<circle cx="463.2" cy="536.1" r="0.78"/>
<circle cx="465.4" cy="535.7" r="0.78"/>
<circle cx="454.9" cy="537.8" r="0.78"/>
<circle cx="457.0" cy="537.8" r="0.78"/>
<circle cx="458.5" cy="538.0" r="0.78"/>
<circle cx="462.7" cy="537.7" r="0.78"/>
<circle cx="454.3" cy="539.8" r="0.78"/>
<circle cx="456.9" cy="539.5" r="0.78"/>
<circle cx="461.1" cy="539.7" r="0.78"/>
<circle cx="463.0" cy="539.3" r="0.78"/>
<circle cx="456.8" cy="541.0" r="0.78"/>
<circle cx="458.5" cy="541.4" r="0.78"/>
<circle cx="460.9" cy="541.0" r="0.78"/>
<circle cx="462.7" cy="540.9" r="0.78"/>
<circle cx="461.0" cy="543.1" r="0.78"/>
<circle cx="462.7" cy="542.8" r="0.78"/>
<circle cx="465.3" cy="543.2" r="0.78"/>
<circle cx="452.2" cy="544.9" r="0.78"/>
<circle cx="454.4" cy="544.8" r="0.78"/>
<circle cx="456.6" cy="544.7" r="0.78"/>
<circle cx="460.9" cy="544.5" r="0.78"/>
<circle cx="454.8" cy="546.5" r="0.78"/>
<circle cx="456.5" cy="546.5" r="0.78"/>
<circle cx="460.6" cy="546.7" r="0.78"/>
<circle cx="462.9" cy="546.3" r="0.78"/>
<circle cx="454.7" cy="548.1" r="0.78"/>
<circle cx="457.0" cy="548.2" r="0.78"/>
<circle cx="459.1" cy="547.9" r="0.78"/>
<circle cx="461.0" cy="548.4" r="0.78"/>
<circle cx="454.6" cy="550.3" r="0.78"/>
<circle cx="456.9" cy="550.0" r="0.78"/>
<circle cx="463.2" cy="549.9" r="0.78"/>
<circle cx="463.3" cy="551.5" r="0.78"/>
<circle cx="454.3" cy="553.6" r="0.78"/>
<circle cx="459.0" cy="553.4" r="0.78"/>
<circle cx="460.7" cy="553.6" r="0.78"/>
<circle cx="462.7" cy="553.3" r="0.78"/>
<circle cx="456.8" cy="555.2" r="0.78"/>
<circle cx="458.9" cy="555.0" r="0.78"/>
<circle cx="461.0" cy="555.4" r="0.78"/>
<circle cx="463.3" cy="554.9" r="0.78"/>
<circle cx="454.5" cy="557.2" r="0.78"/>
<circle cx="461.2" cy="556.7" r="0.78"/>
<circle cx="454.4" cy="559.0" r="0.78"/>
<circle cx="461.2" cy="558.8" r="0.78"/>
<circle cx="462.7" cy="559.1" r="0.78"/>
<circle cx="454.4" cy="560.4" r="0.78"/>
</g>
<line x1="448.30" y1="520.80" x2="470.00" y2="520.80" stroke="#111" stroke-width="1.4"/>
<g fill="#3b72c4">
<rect x="490.9" y="486.3" width="1.5" height="1.5"/>
<rect x="490.6" y="487.9" width="1.5" height="1.5"/>
<rect x="490.8" y="489.2" width="1.5" height="1.5"/>
<rect x="490.5" y="490.5" width="1.5" height="1.5"/>
<rect x="490.5" y="492.2" width="1.5" height="1.5"/>
<rect x="484.6" y="493.2" width="1.5" height="1.5"/>
<rect x="488.0" y="493.6" width="1.5" height="1.5"/>
<rect x="489.1" y="493.5" width="1.5" height="1.5"/>
<rect x="491.0" y="493.4" width="1.5" height="1.5"/>
<rect x="492.4" y="493.3" width="1.5" height="1.5"/>
<rect x="495.3" y="493.4" width="1.5" height="1.5"/>
<rect x="496.6" y="493.2" width="1.5" height="1.5"/>
<rect x="481.6" y="495.1" width="1.5" height="1.5"/>
<rect x="483.5" y="495.2" width="1.5" height="1.5"/>
<rect x="484.9" y="495.0" width="1.5" height="1.5"/>
<rect x="486.0" y="494.9" width="1.5" height="1.5"/>
<rect x="487.6" y="495.2" width="1.5" height="1.5"/>
<rect x="489.2" y="494.9" width="1.5" height="1.5"/>
<rect x="490.7" y="495.2" width="1.5" height="1.5"/>
<rect x="492.0" y="494.7" width="1.5" height="1.5"/>
<rect x="494.0" y="494.9" width="1.5" height="1.5"/>
<rect x="495.3" y="495.1" width="1.5" height="1.5"/>
<rect x="496.8" y="495.0" width="1.5" height="1.5"/>
<rect x="498.1" y="494.8" width="1.5" height="1.5"/>
<rect x="500.0" y="494.9" width="1.5" height="1.5"/>
<rect x="481.6" y="496.2" width="1.5" height="1.5"/>
<rect x="483.4" y="496.6" width="1.5" height="1.5"/>
<rect x="484.9" y="496.5" width="1.5" height="1.5"/>
<rect x="486.5" y="496.3" width="1.5" height="1.5"/>
<rect x="491.0" y="496.4" width="1.5" height="1.5"/>
<rect x="492.1" y="496.6" width="1.5" height="1.5"/>
<rect x="493.5" y="496.6" width="1.5" height="1.5"/>
<rect x="495.2" y="496.6" width="1.5" height="1.5"/>
<rect x="496.6" y="496.3" width="1.5" height="1.5"/>
<rect x="498.1" y="496.1" width="1.5" height="1.5"/>
<rect x="500.0" y="496.7" width="1.5" height="1.5"/>
<rect x="481.7" y="497.7" width="1.5" height="1.5"/>
<rect x="484.9" y="497.6" width="1.5" height="1.5"/>
<rect x="486.5" y="498.0" width="1.5" height="1.5"/>
<rect x="487.8" y="497.8" width="1.5" height="1.5"/>
<rect x="489.5" y="497.7" width="1.5" height="1.5"/>
<rect x="490.6" y="498.0" width="1.5" height="1.5"/>
<rect x="492.4" y="498.1" width="1.5" height="1.5"/>
<rect x="493.8" y="497.9" width="1.5" height="1.5"/>
<rect x="495.3" y="497.7" width="1.5" height="1.5"/>
<rect x="497.0" y="498.1" width="1.5" height="1.5"/>
<rect x="498.0" y="497.6" width="1.5" height="1.5"/>
<rect x="499.7" y="497.6" width="1.5" height="1.5"/>
<rect x="481.8" y="499.1" width="1.5" height="1.5"/>
<rect x="483.1" y="499.3" width="1.5" height="1.5"/>
<rect x="484.5" y="499.1" width="1.5" height="1.5"/>
<rect x="486.4" y="499.3" width="1.5" height="1.5"/>
<rect x="487.9" y="499.5" width="1.5" height="1.5"/>
<rect x="489.4" y="499.0" width="1.5" height="1.5"/>
<rect x="490.5" y="499.5" width="1.5" height="1.5"/>
<rect x="492.4" y="499.2" width="1.5" height="1.5"/>
<rect x="493.6" y="499.0" width="1.5" height="1.5"/>
<rect x="495.1" y="499.5" width="1.5" height="1.5"/>
<rect x="496.8" y="499.3" width="1.5" height="1.5"/>
<rect x="499.8" y="499.3" width="1.5" height="1.5"/>
<rect x="482.0" y="500.6" width="1.5" height="1.5"/>
<rect x="483.3" y="500.8" width="1.5" height="1.5"/>
<rect x="484.9" y="501.0" width="1.5" height="1.5"/>
<rect x="486.1" y="501.0" width="1.5" height="1.5"/>
<rect x="487.5" y="500.5" width="1.5" height="1.5"/>
<rect x="489.4" y="500.7" width="1.5" height="1.5"/>
<rect x="490.5" y="500.8" width="1.5" height="1.5"/>
<rect x="492.3" y="500.7" width="1.5" height="1.5"/>
<rect x="493.6" y="500.5" width="1.5" height="1.5"/>
<rect x="495.1" y="500.9" width="1.5" height="1.5"/>
<rect x="496.9" y="500.7" width="1.5" height="1.5"/>
<rect x="498.2" y="500.7" width="1.5" height="1.5"/>
<rect x="500.0" y="500.5" width="1.5" height="1.5"/>
<rect x="481.7" y="502.3" width="1.5" height="1.5"/>
<rect x="483.4" y="502.3" width="1.5" height="1.5"/>
<rect x="484.9" y="502.4" width="1.5" height="1.5"/>
<rect x="486.4" y="502.0" width="1.5" height="1.5"/>
<rect x="489.3" y="502.4" width="1.5" height="1.5"/>
<rect x="493.6" y="502.1" width="1.5" height="1.5"/>
<rect x="495.0" y="502.2" width="1.5" height="1.5"/>
<rect x="496.6" y="502.5" width="1.5" height="1.5"/>
<rect x="498.2" y="502.0" width="1.5" height="1.5"/>
<rect x="481.6" y="503.6" width="1.5" height="1.5"/>
<rect x="483.4" y="503.5" width="1.5" height="1.5"/>
<rect x="486.1" y="503.9" width="1.5" height="1.5"/>
<rect x="487.9" y="503.5" width="1.5" height="1.5"/>
<rect x="489.1" y="503.6" width="1.5" height="1.5"/>
<rect x="492.2" y="503.7" width="1.5" height="1.5"/>
<rect x="493.6" y="503.6" width="1.5" height="1.5"/>
<rect x="495.1" y="503.9" width="1.5" height="1.5"/>
<rect x="496.9" y="503.9" width="1.5" height="1.5"/>
<rect x="498.0" y="503.7" width="1.5" height="1.5"/>
<rect x="499.8" y="503.8" width="1.5" height="1.5"/>
<rect x="481.5" y="505.1" width="1.5" height="1.5"/>
<rect x="483.1" y="505.1" width="1.5" height="1.5"/>
<rect x="484.7" y="504.9" width="1.5" height="1.5"/>
<rect x="486.4" y="505.1" width="1.5" height="1.5"/>
<rect x="487.6" y="505.0" width="1.5" height="1.5"/>
<rect x="489.1" y="505.3" width="1.5" height="1.5"/>
<rect x="491.0" y="505.3" width="1.5" height="1.5"/>
<rect x="492.3" y="504.8" width="1.5" height="1.5"/>
<rect x="493.9" y="505.3" width="1.5" height="1.5"/>
<rect x="495.0" y="505.3" width="1.5" height="1.5"/>
<rect x="496.8" y="505.1" width="1.5" height="1.5"/>
<rect x="498.2" y="505.0" width="1.5" height="1.5"/>
<rect x="499.6" y="505.2" width="1.5" height="1.5"/>
<rect x="481.5" y="506.3" width="1.5" height="1.5"/>
<rect x="483.4" y="506.4" width="1.5" height="1.5"/>
<rect x="484.5" y="506.3" width="1.5" height="1.5"/>
<rect x="486.4" y="506.6" width="1.5" height="1.5"/>
<rect x="487.5" y="506.8" width="1.5" height="1.5"/>
<rect x="489.2" y="506.7" width="1.5" height="1.5"/>
<rect x="490.8" y="506.3" width="1.5" height="1.5"/>
<rect x="492.1" y="506.3" width="1.5" height="1.5"/>
<rect x="493.8" y="506.6" width="1.5" height="1.5"/>
<rect x="495.4" y="506.5" width="1.5" height="1.5"/>
<rect x="497.0" y="506.7" width="1.5" height="1.5"/>
<rect x="499.6" y="506.7" width="1.5" height="1.5"/>
<rect x="483.5" y="508.3" width="1.5" height="1.5"/>
<rect x="485.0" y="508.3" width="1.5" height="1.5"/>
<rect x="486.0" y="507.9" width="1.5" height="1.5"/>
<rect x="487.8" y="508.2" width="1.5" height="1.5"/>
<rect x="489.0" y="508.3" width="1.5" height="1.5"/>
<rect x="491.0" y="507.8" width="1.5" height="1.5"/>
<rect x="493.9" y="508.1" width="1.5" height="1.5"/>
<rect x="495.2" y="507.7" width="1.5" height="1.5"/>
<rect x="496.6" y="508.0" width="1.5" height="1.5"/>
<rect x="498.2" y="507.8" width="1.5" height="1.5"/>
<rect x="499.7" y="508.0" width="1.5" height="1.5"/>
<rect x="481.8" y="509.3" width="1.5" height="1.5"/>
<rect x="483.5" y="509.5" width="1.5" height="1.5"/>
<rect x="484.8" y="509.2" width="1.5" height="1.5"/>
<rect x="486.2" y="509.5" width="1.5" height="1.5"/>
<rect x="487.9" y="509.5" width="1.5" height="1.5"/>
<rect x="489.2" y="509.4" width="1.5" height="1.5"/>
<rect x="490.6" y="509.5" width="1.5" height="1.5"/>
<rect x="492.0" y="509.6" width="1.5" height="1.5"/>
<rect x="493.9" y="509.6" width="1.5" height="1.5"/>
<rect x="495.5" y="509.4" width="1.5" height="1.5"/>
<rect x="496.5" y="509.5" width="1.5" height="1.5"/>
<rect x="498.3" y="509.7" width="1.5" height="1.5"/>
<rect x="499.6" y="509.6" width="1.5" height="1.5"/>
<rect x="481.7" y="510.6" width="1.5" height="1.5"/>
<rect x="483.4" y="510.9" width="1.5" height="1.5"/>
<rect x="484.7" y="511.0" width="1.5" height="1.5"/>
<rect x="486.4" y="511.1" width="1.5" height="1.5"/>
<rect x="487.7" y="510.8" width="1.5" height="1.5"/>
<rect x="489.4" y="511.2" width="1.5" height="1.5"/>
<rect x="491.0" y="511.1" width="1.5" height="1.5"/>
<rect x="492.1" y="511.0" width="1.5" height="1.5"/>
<rect x="493.9" y="510.8" width="1.5" height="1.5"/>
<rect x="495.1" y="510.7" width="1.5" height="1.5"/>
<rect x="496.7" y="511.0" width="1.5" height="1.5"/>
<rect x="498.4" y="510.8" width="1.5" height="1.5"/>
<rect x="499.7" y="510.7" width="1.5" height="1.5"/>
<rect x="481.5" y="512.5" width="1.5" height="1.5"/>
<rect x="483.0" y="512.6" width="1.5" height="1.5"/>
<rect x="484.5" y="512.5" width="1.5" height="1.5"/>
<rect x="486.2" y="512.4" width="1.5" height="1.5"/>
<rect x="489.3" y="512.4" width="1.5" height="1.5"/>
<rect x="490.7" y="512.5" width="1.5" height="1.5"/>
<rect x="492.2" y="512.4" width="1.5" height="1.5"/>
<rect x="493.9" y="512.1" width="1.5" height="1.5"/>
<rect x="495.2" y="512.2" width="1.5" height="1.5"/>
<rect x="496.8" y="512.1" width="1.5" height="1.5"/>
<rect x="498.0" y="512.5" width="1.5" height="1.5"/>
<rect x="499.6" y="512.2" width="1.5" height="1.5"/>
<rect x="483.1" y="513.6" width="1.5" height="1.5"/>
<rect x="485.0" y="513.6" width="1.5" height="1.5"/>
<rect x="486.3" y="513.6" width="1.5" height="1.5"/>
<rect x="487.9" y="513.6" width="1.5" height="1.5"/>
<rect x="489.3" y="513.6" width="1.5" height="1.5"/>
<rect x="490.8" y="513.6" width="1.5" height="1.5"/>
<rect x="492.3" y="514.0" width="1.5" height="1.5"/>
<rect x="493.8" y="513.5" width="1.5" height="1.5"/>
<rect x="495.1" y="514.0" width="1.5" height="1.5"/>
<rect x="496.9" y="513.5" width="1.5" height="1.5"/>
<rect x="498.5" y="514.0" width="1.5" height="1.5"/>
<rect x="483.1" y="515.5" width="1.5" height="1.5"/>
<rect x="485.0" y="515.4" width="1.5" height="1.5"/>
<rect x="486.3" y="515.0" width="1.5" height="1.5"/>
<rect x="487.8" y="515.3" width="1.5" height="1.5"/>
<rect x="489.4" y="515.0" width="1.5" height="1.5"/>
<rect x="490.5" y="515.1" width="1.5" height="1.5"/>
<rect x="492.4" y="515.0" width="1.5" height="1.5"/>
<rect x="493.5" y="515.3" width="1.5" height="1.5"/>
<rect x="495.1" y="515.2" width="1.5" height="1.5"/>
<rect x="496.7" y="515.4" width="1.5" height="1.5"/>
<rect x="498.2" y="515.3" width="1.5" height="1.5"/>
<rect x="484.6" y="516.7" width="1.5" height="1.5"/>
<rect x="486.1" y="516.5" width="1.5" height="1.5"/>
<rect x="489.1" y="516.4" width="1.5" height="1.5"/>
<rect x="491.0" y="516.6" width="1.5" height="1.5"/>
<rect x="492.1" y="516.8" width="1.5" height="1.5"/>
<rect x="493.9" y="516.7" width="1.5" height="1.5"/>
<rect x="495.1" y="516.8" width="1.5" height="1.5"/>
<rect x="496.9" y="516.7" width="1.5" height="1.5"/>
<rect x="485.0" y="518.4" width="1.5" height="1.5"/>
<rect x="486.4" y="518.3" width="1.5" height="1.5"/>
<rect x="488.0" y="518.4" width="1.5" height="1.5"/>
<rect x="489.5" y="518.0" width="1.5" height="1.5"/>
<rect x="491.0" y="518.0" width="1.5" height="1.5"/>
<rect x="492.3" y="518.0" width="1.5" height="1.5"/>
<rect x="493.9" y="518.2" width="1.5" height="1.5"/>
<rect x="495.4" y="518.4" width="1.5" height="1.5"/>
<rect x="496.9" y="518.4" width="1.5" height="1.5"/>
<rect x="484.9" y="519.6" width="1.5" height="1.5"/>
<rect x="487.7" y="519.7" width="1.5" height="1.5"/>
<rect x="489.0" y="519.5" width="1.5" height="1.5"/>
<rect x="490.5" y="519.4" width="1.5" height="1.5"/>
<rect x="492.4" y="519.3" width="1.5" height="1.5"/>
<rect x="493.5" y="519.6" width="1.5" height="1.5"/>
<rect x="495.2" y="519.7" width="1.5" height="1.5"/>
<rect x="496.7" y="519.7" width="1.5" height="1.5"/>
<rect x="484.7" y="521.2" width="1.5" height="1.5"/>
<rect x="486.5" y="520.9" width="1.5" height="1.5"/>
<rect x="487.6" y="521.2" width="1.5" height="1.5"/>
<rect x="489.0" y="521.0" width="1.5" height="1.5"/>
<rect x="492.3" y="521.2" width="1.5" height="1.5"/>
<rect x="493.9" y="520.8" width="1.5" height="1.5"/>
<rect x="495.1" y="521.0" width="1.5" height="1.5"/>
<rect x="496.5" y="521.2" width="1.5" height="1.5"/>
<rect x="483.3" y="522.5" width="1.5" height="1.5"/>
<rect x="485.0" y="522.6" width="1.5" height="1.5"/>
<rect x="486.4" y="522.3" width="1.5" height="1.5"/>
<rect x="489.1" y="522.3" width="1.5" height="1.5"/>
<rect x="490.9" y="522.7" width="1.5" height="1.5"/>
<rect x="492.4" y="522.3" width="1.5" height="1.5"/>
<rect x="493.6" y="522.5" width="1.5" height="1.5"/>
<rect x="495.5" y="522.3" width="1.5" height="1.5"/>
<rect x="481.9" y="524.1" width="1.5" height="1.5"/>
<rect x="483.3" y="524.2" width="1.5" height="1.5"/>
<rect x="485.0" y="523.7" width="1.5" height="1.5"/>
<rect x="486.2" y="524.2" width="1.5" height="1.5"/>
<rect x="487.8" y="523.7" width="1.5" height="1.5"/>
<rect x="489.4" y="523.7" width="1.5" height="1.5"/>
<rect x="490.5" y="524.0" width="1.5" height="1.5"/>
<rect x="492.0" y="524.2" width="1.5" height="1.5"/>
<rect x="495.3" y="523.9" width="1.5" height="1.5"/>
<rect x="496.7" y="523.9" width="1.5" height="1.5"/>
<rect x="498.1" y="523.8" width="1.5" height="1.5"/>
<rect x="499.6" y="523.7" width="1.5" height="1.5"/>
<rect x="483.2" y="525.3" width="1.5" height="1.5"/>
<rect x="484.7" y="525.4" width="1.5" height="1.5"/>
<rect x="486.3" y="525.1" width="1.5" height="1.5"/>
<rect x="487.6" y="525.2" width="1.5" height="1.5"/>
<rect x="489.1" y="525.6" width="1.5" height="1.5"/>
<rect x="490.7" y="525.6" width="1.5" height="1.5"/>
<rect x="492.1" y="525.5" width="1.5" height="1.5"/>
<rect x="493.8" y="525.6" width="1.5" height="1.5"/>
<rect x="495.5" y="525.3" width="1.5" height="1.5"/>
<rect x="497.0" y="525.4" width="1.5" height="1.5"/>
<rect x="499.9" y="525.3" width="1.5" height="1.5"/>
<rect x="481.7" y="526.9" width="1.5" height="1.5"/>
<rect x="483.1" y="527.1" width="1.5" height="1.5"/>
<rect x="484.8" y="526.6" width="1.5" height="1.5"/>
<rect x="486.5" y="526.7" width="1.5" height="1.5"/>
<rect x="487.9" y="526.9" width="1.5" height="1.5"/>
<rect x="489.5" y="527.0" width="1.5" height="1.5"/>
<rect x="490.7" y="526.8" width="1.5" height="1.5"/>
<rect x="492.4" y="526.7" width="1.5" height="1.5"/>
<rect x="493.7" y="526.6" width="1.5" height="1.5"/>
<rect x="495.2" y="526.7" width="1.5" height="1.5"/>
<rect x="497.0" y="527.1" width="1.5" height="1.5"/>
<rect x="498.5" y="526.8" width="1.5" height="1.5"/>
<rect x="500.0" y="526.6" width="1.5" height="1.5"/>
<rect x="481.7" y="528.2" width="1.5" height="1.5"/>
<rect x="483.0" y="528.4" width="1.5" height="1.5"/>
<rect x="486.1" y="528.2" width="1.5" height="1.5"/>
<rect x="487.6" y="528.5" width="1.5" height="1.5"/>
<rect x="489.3" y="528.4" width="1.5" height="1.5"/>
<rect x="490.5" y="528.6" width="1.5" height="1.5"/>
<rect x="492.2" y="528.5" width="1.5" height="1.5"/>
<rect x="493.6" y="528.2" width="1.5" height="1.5"/>
<rect x="495.2" y="528.0" width="1.5" height="1.5"/>
<rect x="496.6" y="528.4" width="1.5" height="1.5"/>
<rect x="498.2" y="528.2" width="1.5" height="1.5"/>
<rect x="481.9" y="529.6" width="1.5" height="1.5"/>
<rect x="483.1" y="529.5" width="1.5" height="1.5"/>
<rect x="484.5" y="529.7" width="1.5" height="1.5"/>
<rect x="486.3" y="529.9" width="1.5" height="1.5"/>
<rect x="487.5" y="529.9" width="1.5" height="1.5"/>
<rect x="489.4" y="530.0" width="1.5" height="1.5"/>
<rect x="490.6" y="529.7" width="1.5" height="1.5"/>
<rect x="492.1" y="529.5" width="1.5" height="1.5"/>
<rect x="493.8" y="529.9" width="1.5" height="1.5"/>
<rect x="495.5" y="529.9" width="1.5" height="1.5"/>
<rect x="496.8" y="529.5" width="1.5" height="1.5"/>
<rect x="498.4" y="529.6" width="1.5" height="1.5"/>
<rect x="499.6" y="529.9" width="1.5" height="1.5"/>
<rect x="481.9" y="531.5" width="1.5" height="1.5"/>
<rect x="483.2" y="531.1" width="1.5" height="1.5"/>
<rect x="487.7" y="531.4" width="1.5" height="1.5"/>
<rect x="489.1" y="531.2" width="1.5" height="1.5"/>
<rect x="492.1" y="531.3" width="1.5" height="1.5"/>
<rect x="496.9" y="531.5" width="1.5" height="1.5"/>
<rect x="498.1" y="531.1" width="1.5" height="1.5"/>
<rect x="499.5" y="531.2" width="1.5" height="1.5"/>
<rect x="483.3" y="532.7" width="1.5" height="1.5"/>
<rect x="486.2" y="532.9" width="1.5" height="1.5"/>
<rect x="487.5" y="532.8" width="1.5" height="1.5"/>
<rect x="489.5" y="532.9" width="1.5" height="1.5"/>
<rect x="490.7" y="532.5" width="1.5" height="1.5"/>
<rect x="492.1" y="532.5" width="1.5" height="1.5"/>
<rect x="493.5" y="532.7" width="1.5" height="1.5"/>
<rect x="495.4" y="532.7" width="1.5" height="1.5"/>
<rect x="498.0" y="532.7" width="1.5" height="1.5"/>
<rect x="500.0" y="532.9" width="1.5" height="1.5"/>
<rect x="482.0" y="533.9" width="1.5" height="1.5"/>
<rect x="483.2" y="534.0" width="1.5" height="1.5"/>
<rect x="484.7" y="534.2" width="1.5" height="1.5"/>
<rect x="486.3" y="533.9" width="1.5" height="1.5"/>
<rect x="489.3" y="534.0" width="1.5" height="1.5"/>
<rect x="490.9" y="534.3" width="1.5" height="1.5"/>
<rect x="492.1" y="534.2" width="1.5" height="1.5"/>
<rect x="493.9" y="534.0" width="1.5" height="1.5"/>
<rect x="495.0" y="534.2" width="1.5" height="1.5"/>
<rect x="496.5" y="534.0" width="1.5" height="1.5"/>
<rect x="498.2" y="534.1" width="1.5" height="1.5"/>
<rect x="500.0" y="534.0" width="1.5" height="1.5"/>
<rect x="481.9" y="535.7" width="1.5" height="1.5"/>
<rect x="483.2" y="535.7" width="1.5" height="1.5"/>
<rect x="484.7" y="535.6" width="1.5" height="1.5"/>
<rect x="486.1" y="535.6" width="1.5" height="1.5"/>
<rect x="487.5" y="535.5" width="1.5" height="1.5"/>
<rect x="489.3" y="535.8" width="1.5" height="1.5"/>
<rect x="490.8" y="535.5" width="1.5" height="1.5"/>
<rect x="492.5" y="535.3" width="1.5" height="1.5"/>
<rect x="493.5" y="535.6" width="1.5" height="1.5"/>
<rect x="495.1" y="535.8" width="1.5" height="1.5"/>
<rect x="496.6" y="535.8" width="1.5" height="1.5"/>
<rect x="498.1" y="535.8" width="1.5" height="1.5"/>
<rect x="499.7" y="535.5" width="1.5" height="1.5"/>
<rect x="483.2" y="536.8" width="1.5" height="1.5"/>
<rect x="484.6" y="537.2" width="1.5" height="1.5"/>
<rect x="486.3" y="537.2" width="1.5" height="1.5"/>
<rect x="487.8" y="537.1" width="1.5" height="1.5"/>
<rect x="489.2" y="537.1" width="1.5" height="1.5"/>
<rect x="490.5" y="536.7" width="1.5" height="1.5"/>
<rect x="492.3" y="537.2" width="1.5" height="1.5"/>
<rect x="493.9" y="537.0" width="1.5" height="1.5"/>
<rect x="495.4" y="537.0" width="1.5" height="1.5"/>
<rect x="496.8" y="536.8" width="1.5" height="1.5"/>
<rect x="498.3" y="536.7" width="1.5" height="1.5"/>
<rect x="500.0" y="537.3" width="1.5" height="1.5"/>
<rect x="481.6" y="538.7" width="1.5" height="1.5"/>
<rect x="483.0" y="538.3" width="1.5" height="1.5"/>
<rect x="484.9" y="538.2" width="1.5" height="1.5"/>
<rect x="486.4" y="538.4" width="1.5" height="1.5"/>
<rect x="487.9" y="538.4" width="1.5" height="1.5"/>
<rect x="489.2" y="538.6" width="1.5" height="1.5"/>
<rect x="491.0" y="538.6" width="1.5" height="1.5"/>
<rect x="492.2" y="538.5" width="1.5" height="1.5"/>
<rect x="493.5" y="538.7" width="1.5" height="1.5"/>
<rect x="495.4" y="538.7" width="1.5" height="1.5"/>
<rect x="497.0" y="538.4" width="1.5" height="1.5"/>
<rect x="499.7" y="538.5" width="1.5" height="1.5"/>
<rect x="481.8" y="540.1" width="1.5" height="1.5"/>
<rect x="483.4" y="540.1" width="1.5" height="1.5"/>
<rect x="484.5" y="540.0" width="1.5" height="1.5"/>
<rect x="486.1" y="539.7" width="1.5" height="1.5"/>
<rect x="487.6" y="540.0" width="1.5" height="1.5"/>
<rect x="489.1" y="540.0" width="1.5" height="1.5"/>
<rect x="492.3" y="539.8" width="1.5" height="1.5"/>
<rect x="493.5" y="539.6" width="1.5" height="1.5"/>
<rect x="495.5" y="539.9" width="1.5" height="1.5"/>
<rect x="496.5" y="540.0" width="1.5" height="1.5"/>
<rect x="499.9" y="540.1" width="1.5" height="1.5"/>
<rect x="484.8" y="541.3" width="1.5" height="1.5"/>
<rect x="486.1" y="541.4" width="1.5" height="1.5"/>
<rect x="488.0" y="541.5" width="1.5" height="1.5"/>
<rect x="489.1" y="541.3" width="1.5" height="1.5"/>
<rect x="490.9" y="541.2" width="1.5" height="1.5"/>
<rect x="492.2" y="541.2" width="1.5" height="1.5"/>
<rect x="493.7" y="541.6" width="1.5" height="1.5"/>
<rect x="495.5" y="541.4" width="1.5" height="1.5"/>
<rect x="496.5" y="541.4" width="1.5" height="1.5"/>
<rect x="498.2" y="541.5" width="1.5" height="1.5"/>
<rect x="484.5" y="543.0" width="1.5" height="1.5"/>
<rect x="486.2" y="543.0" width="1.5" height="1.5"/>
<rect x="488.0" y="542.7" width="1.5" height="1.5"/>
<rect x="489.0" y="542.8" width="1.5" height="1.5"/>
<rect x="491.0" y="542.9" width="1.5" height="1.5"/>
<rect x="492.4" y="542.7" width="1.5" height="1.5"/>
<rect x="493.5" y="542.7" width="1.5" height="1.5"/>
<rect x="495.4" y="542.6" width="1.5" height="1.5"/>
<rect x="484.7" y="544.0" width="1.5" height="1.5"/>
<rect x="486.3" y="544.0" width="1.5" height="1.5"/>
<rect x="489.2" y="544.1" width="1.5" height="1.5"/>
<rect x="490.6" y="544.5" width="1.5" height="1.5"/>
<rect x="492.2" y="544.3" width="1.5" height="1.5"/>
<rect x="493.6" y="544.2" width="1.5" height="1.5"/>
<rect x="495.1" y="544.2" width="1.5" height="1.5"/>
<rect x="496.7" y="544.2" width="1.5" height="1.5"/>
<rect x="484.6" y="545.7" width="1.5" height="1.5"/>
<rect x="486.3" y="545.7" width="1.5" height="1.5"/>
<rect x="488.0" y="545.9" width="1.5" height="1.5"/>
<rect x="491.0" y="545.7" width="1.5" height="1.5"/>
<rect x="492.2" y="546.0" width="1.5" height="1.5"/>
<rect x="495.1" y="545.5" width="1.5" height="1.5"/>
<rect x="496.9" y="545.8" width="1.5" height="1.5"/>
<rect x="484.5" y="547.4" width="1.5" height="1.5"/>
<rect x="486.0" y="547.1" width="1.5" height="1.5"/>
<rect x="487.9" y="547.2" width="1.5" height="1.5"/>
<rect x="489.5" y="546.9" width="1.5" height="1.5"/>
<rect x="490.9" y="547.2" width="1.5" height="1.5"/>
<rect x="492.2" y="547.2" width="1.5" height="1.5"/>
<rect x="486.0" y="548.8" width="1.5" height="1.5"/>
<rect x="487.8" y="548.6" width="1.5" height="1.5"/>
<rect x="490.5" y="548.4" width="1.5" height="1.5"/>
<rect x="493.5" y="548.9" width="1.5" height="1.5"/>
<rect x="495.4" y="548.6" width="1.5" height="1.5"/>
<rect x="496.7" y="548.3" width="1.5" height="1.5"/>
<rect x="485.0" y="550.0" width="1.5" height="1.5"/>
<rect x="486.2" y="550.0" width="1.5" height="1.5"/>
<rect x="487.6" y="550.1" width="1.5" height="1.5"/>
<rect x="490.9" y="549.9" width="1.5" height="1.5"/>
<rect x="492.3" y="550.0" width="1.5" height="1.5"/>
<rect x="494.0" y="549.8" width="1.5" height="1.5"/>
<rect x="495.5" y="549.9" width="1.5" height="1.5"/>
<rect x="496.6" y="550.1" width="1.5" height="1.5"/>
<rect x="486.1" y="551.7" width="1.5" height="1.5"/>
<rect x="487.9" y="551.6" width="1.5" height="1.5"/>
<rect x="489.0" y="551.7" width="1.5" height="1.5"/>
<rect x="492.2" y="551.3" width="1.5" height="1.5"/>
<rect x="493.5" y="551.4" width="1.5" height="1.5"/>
<rect x="495.3" y="551.5" width="1.5" height="1.5"/>
<rect x="496.6" y="551.2" width="1.5" height="1.5"/>
<rect x="487.5" y="553.2" width="1.5" height="1.5"/>
<rect x="489.4" y="552.9" width="1.5" height="1.5"/>
<rect x="490.6" y="553.2" width="1.5" height="1.5"/>
<rect x="492.2" y="552.9" width="1.5" height="1.5"/>
<rect x="489.5" y="554.5" width="1.5" height="1.5"/>
<rect x="490.8" y="554.5" width="1.5" height="1.5"/>
<rect x="492.1" y="554.3" width="1.5" height="1.5"/>
<rect x="489.0" y="556.0" width="1.5" height="1.5"/>
<rect x="490.9" y="555.8" width="1.5" height="1.5"/>
<rect x="489.3" y="557.3" width="1.5" height="1.5"/>
<rect x="490.5" y="557.3" width="1.5" height="1.5"/>
<rect x="492.3" y="557.1" width="1.5" height="1.5"/>
</g>
<line x1="480.60" y1="518.80" x2="503.00" y2="518.80" stroke="#111" stroke-width="1.4"/>
<text x="1.60" y="599.00" font-size="12.5" fill="#111" stroke="#111" stroke-width="0.22" font-weight="bold">H</text>
<line x1="33.30" y1="606.02" x2="33.30" y2="721.20" stroke="#7d7d7d" stroke-width="0.9"/>
<line x1="32.90" y1="720.80" x2="250.80" y2="720.80" stroke="#7d7d7d" stroke-width="0.9"/>
<line x1="30.70" y1="720.80" x2="33.30" y2="720.80" stroke="#7d7d7d" stroke-width="0.8"/>
<text x="26.70" y="723.40" font-size="7.3" fill="#1a1a1a" stroke="#1a1a1a" stroke-width="0.22" text-anchor="end">0</text>
<line x1="30.70" y1="701.72" x2="33.30" y2="701.72" stroke="#7d7d7d" stroke-width="0.8"/>
<text x="26.70" y="704.32" font-size="7.3" fill="#1a1a1a" stroke="#1a1a1a" stroke-width="0.22" text-anchor="end">1</text>
<line x1="30.70" y1="682.64" x2="33.30" y2="682.64" stroke="#7d7d7d" stroke-width="0.8"/>
<text x="26.70" y="685.24" font-size="7.3" fill="#1a1a1a" stroke="#1a1a1a" stroke-width="0.22" text-anchor="end">2</text>
<line x1="30.70" y1="663.56" x2="33.30" y2="663.56" stroke="#7d7d7d" stroke-width="0.8"/>
<text x="26.70" y="666.16" font-size="7.3" fill="#1a1a1a" stroke="#1a1a1a" stroke-width="0.22" text-anchor="end">3</text>
<line x1="30.70" y1="644.48" x2="33.30" y2="644.48" stroke="#7d7d7d" stroke-width="0.8"/>
<text x="26.70" y="647.08" font-size="7.3" fill="#1a1a1a" stroke="#1a1a1a" stroke-width="0.22" text-anchor="end">4</text>
<line x1="30.70" y1="625.40" x2="33.30" y2="625.40" stroke="#7d7d7d" stroke-width="0.8"/>
<text x="26.70" y="628.00" font-size="7.3" fill="#1a1a1a" stroke="#1a1a1a" stroke-width="0.22" text-anchor="end">5</text>
<line x1="30.70" y1="606.32" x2="33.30" y2="606.32" stroke="#7d7d7d" stroke-width="0.8"/>
<text x="26.70" y="608.92" font-size="7.3" fill="#1a1a1a" stroke="#1a1a1a" stroke-width="0.22" text-anchor="end">6</text>
<line x1="33.30" y1="720.80" x2="33.30" y2="723.20" stroke="#7d7d7d" stroke-width="0.8"/>
<text x="33.30" y="732.00" font-size="7.3" fill="#1a1a1a" stroke="#1a1a1a" stroke-width="0.22" text-anchor="middle">0</text>
<line x1="76.70" y1="720.80" x2="76.70" y2="723.20" stroke="#7d7d7d" stroke-width="0.8"/>
<text x="76.70" y="732.00" font-size="7.3" fill="#1a1a1a" stroke="#1a1a1a" stroke-width="0.22" text-anchor="middle">20</text>
<line x1="120.10" y1="720.80" x2="120.10" y2="723.20" stroke="#7d7d7d" stroke-width="0.8"/>
<text x="120.10" y="732.00" font-size="7.3" fill="#1a1a1a" stroke="#1a1a1a" stroke-width="0.22" text-anchor="middle">40</text>
<line x1="163.50" y1="720.80" x2="163.50" y2="723.20" stroke="#7d7d7d" stroke-width="0.8"/>
<text x="163.50" y="732.00" font-size="7.3" fill="#1a1a1a" stroke="#1a1a1a" stroke-width="0.22" text-anchor="middle">60</text>
<line x1="206.90" y1="720.80" x2="206.90" y2="723.20" stroke="#7d7d7d" stroke-width="0.8"/>
<text x="206.90" y="732.00" font-size="7.3" fill="#1a1a1a" stroke="#1a1a1a" stroke-width="0.22" text-anchor="middle">80</text>
<line x1="250.30" y1="720.80" x2="250.30" y2="723.20" stroke="#7d7d7d" stroke-width="0.8"/>
<text x="250.30" y="732.00" font-size="7.3" fill="#1a1a1a" stroke="#1a1a1a" stroke-width="0.22" text-anchor="middle">100</text>
<text x="14.60" y="657.50" font-size="7.3" fill="#1a1a1a" stroke="#1a1a1a" stroke-width="0.22" text-anchor="middle" transform="rotate(-90 14.60 657.50)">ECAR (mpH/min/µg)</text>
<text x="139.60" y="740.60" font-size="7.3" fill="#1a1a1a" stroke="#1a1a1a" stroke-width="0.22" text-anchor="middle">Time (min)</text>
<text x="55.50" y="667.60" font-size="7.3" fill="#1a1a1a" stroke="#1a1a1a" stroke-width="0.22">Glucose</text>
<line x1="70.50" y1="673.80" x2="73.75" y2="686.36" stroke="#111" stroke-width="1.25"/>
<polygon points="75.00,691.20 71.33,686.99 76.17,685.73" fill="#111"/>
<text x="95.00" y="645.10" font-size="7.3" fill="#1a1a1a" stroke="#1a1a1a" stroke-width="0.22">Oligomycin</text>
<line x1="124.50" y1="650.00" x2="129.33" y2="670.14" stroke="#111" stroke-width="1.25"/>
<polygon points="130.50,675.00 126.90,670.72 131.76,669.55" fill="#111"/>
<text x="155.80" y="610.60" font-size="7.3" fill="#1a1a1a" stroke="#1a1a1a" stroke-width="0.22">2-DG</text>
<line x1="181.30" y1="606.30" x2="184.00" y2="612.23" stroke="#111" stroke-width="1.25"/>
<polygon points="185.50,615.50 181.73,613.26 186.28,611.19" fill="#111"/>
<line x1="37.00" y1="707.00" x2="37.00" y2="714.00" stroke="#757575" stroke-width="1.1"/>
<line x1="35.10" y1="707.00" x2="38.90" y2="707.00" stroke="#757575" stroke-width="1.1"/>
<line x1="35.10" y1="714.00" x2="38.90" y2="714.00" stroke="#757575" stroke-width="1.1"/>
<line x1="55.50" y1="707.00" x2="55.50" y2="714.00" stroke="#757575" stroke-width="1.1"/>
<line x1="53.60" y1="707.00" x2="57.40" y2="707.00" stroke="#757575" stroke-width="1.1"/>
<line x1="53.60" y1="714.00" x2="57.40" y2="714.00" stroke="#757575" stroke-width="1.1"/>
<line x1="74.30" y1="703.80" x2="74.30" y2="706.80" stroke="#757575" stroke-width="1.1"/>
<line x1="72.40" y1="703.80" x2="76.20" y2="703.80" stroke="#757575" stroke-width="1.1"/>
<line x1="72.40" y1="706.80" x2="76.20" y2="706.80" stroke="#757575" stroke-width="1.1"/>
<line x1="93.80" y1="689.30" x2="93.80" y2="691.70" stroke="#757575" stroke-width="1.1"/>
<line x1="91.90" y1="689.30" x2="95.70" y2="689.30" stroke="#757575" stroke-width="1.1"/>
<line x1="91.90" y1="691.70" x2="95.70" y2="691.70" stroke="#757575" stroke-width="1.1"/>
<line x1="113.00" y1="688.80" x2="113.00" y2="691.20" stroke="#757575" stroke-width="1.1"/>
<line x1="111.10" y1="688.80" x2="114.90" y2="688.80" stroke="#757575" stroke-width="1.1"/>
<line x1="111.10" y1="691.20" x2="114.90" y2="691.20" stroke="#757575" stroke-width="1.1"/>
<line x1="132.00" y1="687.30" x2="132.00" y2="690.30" stroke="#757575" stroke-width="1.1"/>
<line x1="130.10" y1="687.30" x2="133.90" y2="687.30" stroke="#757575" stroke-width="1.1"/>
<line x1="130.10" y1="690.30" x2="133.90" y2="690.30" stroke="#757575" stroke-width="1.1"/>
<line x1="151.00" y1="617.50" x2="151.00" y2="645.10" stroke="#757575" stroke-width="1.1"/>
<line x1="149.10" y1="617.50" x2="152.90" y2="617.50" stroke="#757575" stroke-width="1.1"/>
<line x1="149.10" y1="645.10" x2="152.90" y2="645.10" stroke="#757575" stroke-width="1.1"/>
<line x1="170.00" y1="618.00" x2="170.00" y2="645.60" stroke="#757575" stroke-width="1.1"/>
<line x1="168.10" y1="618.00" x2="171.90" y2="618.00" stroke="#757575" stroke-width="1.1"/>
<line x1="168.10" y1="645.60" x2="171.90" y2="645.60" stroke="#757575" stroke-width="1.1"/>
<line x1="189.30" y1="616.70" x2="189.30" y2="644.30" stroke="#757575" stroke-width="1.1"/>
<line x1="187.40" y1="616.70" x2="191.20" y2="616.70" stroke="#757575" stroke-width="1.1"/>
<line x1="187.40" y1="644.30" x2="191.20" y2="644.30" stroke="#757575" stroke-width="1.1"/>
<line x1="208.30" y1="704.30" x2="208.30" y2="707.30" stroke="#757575" stroke-width="1.1"/>
<line x1="206.40" y1="704.30" x2="210.20" y2="704.30" stroke="#757575" stroke-width="1.1"/>
<line x1="206.40" y1="707.30" x2="210.20" y2="707.30" stroke="#757575" stroke-width="1.1"/>
<line x1="227.50" y1="710.80" x2="227.50" y2="713.20" stroke="#757575" stroke-width="1.1"/>
<line x1="225.60" y1="710.80" x2="229.40" y2="710.80" stroke="#757575" stroke-width="1.1"/>
<line x1="225.60" y1="713.20" x2="229.40" y2="713.20" stroke="#757575" stroke-width="1.1"/>
<line x1="246.80" y1="712.10" x2="246.80" y2="714.50" stroke="#757575" stroke-width="1.1"/>
<line x1="244.90" y1="712.10" x2="248.70" y2="712.10" stroke="#757575" stroke-width="1.1"/>
<line x1="244.90" y1="714.50" x2="248.70" y2="714.50" stroke="#757575" stroke-width="1.1"/>
<line x1="37.00" y1="716.00" x2="37.00" y2="718.00" stroke="#b06a50" stroke-width="1.1"/>
<line x1="35.10" y1="716.00" x2="38.90" y2="716.00" stroke="#b06a50" stroke-width="1.1"/>
<line x1="35.10" y1="718.00" x2="38.90" y2="718.00" stroke="#b06a50" stroke-width="1.1"/>
<line x1="55.50" y1="716.00" x2="55.50" y2="718.00" stroke="#b06a50" stroke-width="1.1"/>
<line x1="53.60" y1="716.00" x2="57.40" y2="716.00" stroke="#b06a50" stroke-width="1.1"/>
<line x1="53.60" y1="718.00" x2="57.40" y2="718.00" stroke="#b06a50" stroke-width="1.1"/>
<line x1="74.30" y1="715.50" x2="74.30" y2="717.50" stroke="#b06a50" stroke-width="1.1"/>
<line x1="72.40" y1="715.50" x2="76.20" y2="715.50" stroke="#b06a50" stroke-width="1.1"/>
<line x1="72.40" y1="717.50" x2="76.20" y2="717.50" stroke="#b06a50" stroke-width="1.1"/>
<line x1="93.80" y1="705.70" x2="93.80" y2="712.90" stroke="#b06a50" stroke-width="1.1"/>
<line x1="91.90" y1="705.70" x2="95.70" y2="705.70" stroke="#b06a50" stroke-width="1.1"/>
<line x1="91.90" y1="712.90" x2="95.70" y2="712.90" stroke="#b06a50" stroke-width="1.1"/>
<line x1="113.00" y1="703.00" x2="113.00" y2="711.00" stroke="#b06a50" stroke-width="1.1"/>
<line x1="111.10" y1="703.00" x2="114.90" y2="703.00" stroke="#b06a50" stroke-width="1.1"/>
<line x1="111.10" y1="711.00" x2="114.90" y2="711.00" stroke="#b06a50" stroke-width="1.1"/>
<line x1="132.00" y1="701.30" x2="132.00" y2="709.70" stroke="#b06a50" stroke-width="1.1"/>
<line x1="130.10" y1="701.30" x2="133.90" y2="701.30" stroke="#b06a50" stroke-width="1.1"/>
<line x1="130.10" y1="709.70" x2="133.90" y2="709.70" stroke="#b06a50" stroke-width="1.1"/>
<line x1="151.00" y1="673.70" x2="151.00" y2="692.90" stroke="#8a8a8a" stroke-width="1.1"/>
<line x1="149.10" y1="673.70" x2="152.90" y2="673.70" stroke="#8a8a8a" stroke-width="1.1"/>
<line x1="149.10" y1="692.90" x2="152.90" y2="692.90" stroke="#8a8a8a" stroke-width="1.1"/>
<line x1="170.00" y1="673.70" x2="170.00" y2="692.90" stroke="#8a8a8a" stroke-width="1.1"/>
<line x1="168.10" y1="673.70" x2="171.90" y2="673.70" stroke="#8a8a8a" stroke-width="1.1"/>
<line x1="168.10" y1="692.90" x2="171.90" y2="692.90" stroke="#8a8a8a" stroke-width="1.1"/>
<line x1="189.30" y1="673.70" x2="189.30" y2="692.90" stroke="#8a8a8a" stroke-width="1.1"/>
<line x1="187.40" y1="673.70" x2="191.20" y2="673.70" stroke="#8a8a8a" stroke-width="1.1"/>
<line x1="187.40" y1="692.90" x2="191.20" y2="692.90" stroke="#8a8a8a" stroke-width="1.1"/>
<line x1="208.30" y1="714.00" x2="208.30" y2="716.00" stroke="#b06a50" stroke-width="1.1"/>
<line x1="206.40" y1="714.00" x2="210.20" y2="714.00" stroke="#b06a50" stroke-width="1.1"/>
<line x1="206.40" y1="716.00" x2="210.20" y2="716.00" stroke="#b06a50" stroke-width="1.1"/>
<line x1="227.50" y1="716.00" x2="227.50" y2="718.00" stroke="#b06a50" stroke-width="1.1"/>
<line x1="225.60" y1="716.00" x2="229.40" y2="716.00" stroke="#b06a50" stroke-width="1.1"/>
<line x1="225.60" y1="718.00" x2="229.40" y2="718.00" stroke="#b06a50" stroke-width="1.1"/>
<line x1="246.80" y1="716.50" x2="246.80" y2="718.50" stroke="#b06a50" stroke-width="1.1"/>
<line x1="244.90" y1="716.50" x2="248.70" y2="716.50" stroke="#b06a50" stroke-width="1.1"/>
<line x1="244.90" y1="718.50" x2="248.70" y2="718.50" stroke="#b06a50" stroke-width="1.1"/>
<polyline fill="none" stroke="#3c71ba" stroke-width="1.5" stroke-linejoin="round" points="37,710.5 55.5,710.5 74.3,705.3 93.8,690.5 113,690 132,688.8 151,631.3 170,631.8 189.3,630.5 208.3,705.8 227.5,712 246.8,713.3"/>
<polyline fill="none" stroke="#c4262e" stroke-width="1.5" stroke-linejoin="round" points="37,717 55.5,717 74.3,716.5 93.8,709.3 113,707 132,705.5 151,683.3 170,683.3 189.3,683.3 208.3,715 227.5,717 246.8,717.5"/>
<circle cx="37.00" cy="710.50" r="2.9" fill="#3c71ba"/>
<circle cx="55.50" cy="710.50" r="2.9" fill="#3c71ba"/>
<circle cx="74.30" cy="705.30" r="2.9" fill="#3c71ba"/>
<circle cx="93.80" cy="690.50" r="2.9" fill="#3c71ba"/>
<circle cx="113.00" cy="690.00" r="2.9" fill="#3c71ba"/>
<circle cx="132.00" cy="688.80" r="2.9" fill="#3c71ba"/>
<circle cx="151.00" cy="631.30" r="2.9" fill="#3c71ba"/>
<circle cx="170.00" cy="631.80" r="2.9" fill="#3c71ba"/>
<circle cx="189.30" cy="630.50" r="2.9" fill="#3c71ba"/>
<circle cx="208.30" cy="705.80" r="2.9" fill="#3c71ba"/>
<circle cx="227.50" cy="712.00" r="2.9" fill="#3c71ba"/>
<circle cx="246.80" cy="713.30" r="2.9" fill="#3c71ba"/>
<circle cx="37.00" cy="717.00" r="2.9" fill="#c4262e"/>
<circle cx="55.50" cy="717.00" r="2.9" fill="#c4262e"/>
<circle cx="74.30" cy="716.50" r="2.9" fill="#c4262e"/>
<circle cx="93.80" cy="709.30" r="2.9" fill="#c4262e"/>
<circle cx="113.00" cy="707.00" r="2.9" fill="#c4262e"/>
<circle cx="132.00" cy="705.50" r="2.9" fill="#c4262e"/>
<circle cx="151.00" cy="683.30" r="2.9" fill="#c4262e"/>
<circle cx="170.00" cy="683.30" r="2.9" fill="#c4262e"/>
<circle cx="189.30" cy="683.30" r="2.9" fill="#c4262e"/>
<circle cx="208.30" cy="715.00" r="2.9" fill="#c4262e"/>
<circle cx="227.50" cy="717.00" r="2.9" fill="#c4262e"/>
<circle cx="246.80" cy="717.50" r="2.9" fill="#c4262e"/>
<circle cx="207.00" cy="635.00" r="3.0" fill="#c4262e"/>
<text x="215.80" y="637.60" font-size="7.3" fill="#1a1a1a" stroke="#1a1a1a" stroke-width="0.22">WT</text>
<circle cx="207.00" cy="648.30" r="3.0" fill="#3c71ba"/>
<text x="215.80" y="650.90" font-size="7.3" fill="#1a1a1a" stroke="#1a1a1a" stroke-width="0.22">CBFB_KO</text>
<text x="281.40" y="598.00" font-size="12.5" fill="#111" stroke="#111" stroke-width="0.22" font-weight="bold">I</text>
<line x1="307.50" y1="603.24" x2="307.50" y2="721.10" stroke="#111" stroke-width="1.3"/>
<line x1="306.90" y1="720.50" x2="492.50" y2="720.50" stroke="#111" stroke-width="1.3"/>
<line x1="303.10" y1="720.50" x2="307.50" y2="720.50" stroke="#111" stroke-width="1.0"/>
<text x="302.10" y="723.10" font-size="7.3" fill="#1a1a1a" stroke="#1a1a1a" stroke-width="0.22" text-anchor="end">0</text>
<line x1="303.10" y1="681.58" x2="307.50" y2="681.58" stroke="#111" stroke-width="1.0"/>
<text x="302.10" y="684.18" font-size="7.3" fill="#1a1a1a" stroke="#1a1a1a" stroke-width="0.22" text-anchor="end">2</text>
<line x1="303.10" y1="642.66" x2="307.50" y2="642.66" stroke="#111" stroke-width="1.0"/>
<text x="302.10" y="645.26" font-size="7.3" fill="#1a1a1a" stroke="#1a1a1a" stroke-width="0.22" text-anchor="end">4</text>
<line x1="303.10" y1="603.74" x2="307.50" y2="603.74" stroke="#111" stroke-width="1.0"/>
<text x="302.10" y="606.34" font-size="7.3" fill="#1a1a1a" stroke="#1a1a1a" stroke-width="0.22" text-anchor="end">6</text>
<text x="290.00" y="662.50" font-size="7.3" fill="#1a1a1a" stroke="#1a1a1a" stroke-width="0.22" text-anchor="middle" transform="rotate(-90 290.00 662.50)">ECAR (mpH/min/µg)</text>
<rect x="318.00" y="712.00" width="21.50" height="8.50" fill="#b3282f"/>
<rect x="339.50" y="688.80" width="21.30" height="31.70" fill="#2f74c4"/>
<rect x="382.50" y="681.30" width="21.30" height="39.20" fill="#b3282f"/>
<rect x="403.80" y="633.00" width="22.00" height="87.50" fill="#2f74c4"/>
<rect x="447.50" y="698.80" width="21.30" height="21.70" fill="#b3282f"/>
<rect x="468.80" y="662.00" width="21.20" height="58.50" fill="#2f74c4"/>
<line x1="339.50" y1="720.50" x2="339.50" y2="723.70" stroke="#111" stroke-width="1.0"/>
<line x1="403.80" y1="720.50" x2="403.80" y2="723.70" stroke="#111" stroke-width="1.0"/>
<line x1="468.80" y1="720.50" x2="468.80" y2="723.70" stroke="#111" stroke-width="1.0"/>
<line x1="328.80" y1="707.50" x2="328.80" y2="716.30" stroke="#111" stroke-width="0.9"/>
<line x1="325.40" y1="707.50" x2="332.20" y2="707.50" stroke="#111" stroke-width="0.9"/>
<line x1="325.40" y1="716.30" x2="332.20" y2="716.30" stroke="#111" stroke-width="0.9"/>
<line x1="350.00" y1="681.30" x2="350.00" y2="697.00" stroke="#111" stroke-width="0.9"/>
<line x1="345.80" y1="681.30" x2="354.20" y2="681.30" stroke="#111" stroke-width="0.9"/>
<line x1="345.80" y1="697.00" x2="354.20" y2="697.00" stroke="#111" stroke-width="0.9"/>
<line x1="393.00" y1="674.50" x2="393.00" y2="685.00" stroke="#111" stroke-width="0.9"/>
<line x1="389.00" y1="674.50" x2="397.00" y2="674.50" stroke="#111" stroke-width="0.9"/>
<line x1="389.00" y1="685.00" x2="397.00" y2="685.00" stroke="#111" stroke-width="0.9"/>
<line x1="414.50" y1="622.50" x2="414.50" y2="642.00" stroke="#111" stroke-width="0.9"/>
<line x1="410.30" y1="622.50" x2="418.70" y2="622.50" stroke="#111" stroke-width="0.9"/>
<line x1="410.30" y1="642.00" x2="418.70" y2="642.00" stroke="#111" stroke-width="0.9"/>
<line x1="458.00" y1="693.80" x2="458.00" y2="703.80" stroke="#111" stroke-width="0.9"/>
<line x1="453.50" y1="693.80" x2="462.50" y2="693.80" stroke="#111" stroke-width="0.9"/>
<line x1="453.50" y1="703.80" x2="462.50" y2="703.80" stroke="#111" stroke-width="0.9"/>
<line x1="479.50" y1="640.50" x2="479.50" y2="681.30" stroke="#111" stroke-width="0.9"/>
<line x1="474.50" y1="640.50" x2="484.50" y2="640.50" stroke="#111" stroke-width="0.9"/>
<line x1="474.50" y1="681.30" x2="484.50" y2="681.30" stroke="#111" stroke-width="0.9"/>
<ellipse cx="328.8" cy="708" rx="3.1" ry="1.7" fill="#0c0c0c"/>
<ellipse cx="328.8" cy="712" rx="3.1" ry="1.7" fill="#0c0c0c"/>
<ellipse cx="328.8" cy="715.2" rx="3.1" ry="1.7" fill="#0c0c0c"/>
<ellipse cx="393" cy="673.8" rx="3.1" ry="1.7" fill="#0c0c0c"/>
<ellipse cx="401" cy="683" rx="3.1" ry="1.7" fill="#0c0c0c"/>
<ellipse cx="385.5" cy="683.4" rx="3.1" ry="1.7" fill="#0c0c0c"/>
<ellipse cx="450" cy="694.5" rx="3.1" ry="1.7" fill="#0c0c0c"/>
<ellipse cx="465.8" cy="697.5" rx="3.1" ry="1.7" fill="#0c0c0c"/>
<ellipse cx="458" cy="703.8" rx="3.1" ry="1.7" fill="#0c0c0c"/>
<rect x="339.40" y="682.20" width="6.20" height="3.20" fill="#0c0c0c"/>
<rect x="354.40" y="682.70" width="6.20" height="3.20" fill="#0c0c0c"/>
<rect x="346.90" y="695.20" width="6.20" height="3.20" fill="#0c0c0c"/>
<rect x="411.40" y="620.20" width="6.20" height="3.20" fill="#0c0c0c"/>
<rect x="411.40" y="634.20" width="6.20" height="3.20" fill="#0c0c0c"/>
<rect x="411.40" y="638.90" width="6.20" height="3.20" fill="#0c0c0c"/>
<rect x="476.40" y="638.40" width="6.20" height="3.20" fill="#0c0c0c"/>
<rect x="476.40" y="666.40" width="6.20" height="3.20" fill="#0c0c0c"/>
<rect x="476.40" y="676.40" width="6.20" height="3.20" fill="#0c0c0c"/>
<text x="342.50" y="667.60" font-size="7.3" fill="#1a1a1a" stroke="#1a1a1a" stroke-width="0.22" text-anchor="middle">0.007</text>
<line x1="328.80" y1="671.50" x2="350.50" y2="671.50" stroke="#222" stroke-width="1.0"/>
<text x="407.00" y="611.40" font-size="7.3" fill="#1a1a1a" stroke="#1a1a1a" stroke-width="0.22" text-anchor="middle">0.001</text>
<line x1="394.50" y1="615.50" x2="416.30" y2="615.50" stroke="#222" stroke-width="1.0"/>
<text x="475.50" y="629.40" font-size="7.3" fill="#1a1a1a" stroke="#1a1a1a" stroke-width="0.22" text-anchor="middle">0.035</text>
<line x1="461.30" y1="633.50" x2="483.00" y2="633.50" stroke="#222" stroke-width="1.0"/>
<rect x="335.80" y="601.30" width="5.00" height="5.50" fill="#b3282f"/>
<text x="345.00" y="607.60" font-size="7.3" fill="#1a1a1a" stroke="#1a1a1a" stroke-width="0.22">WT</text>
<rect x="335.80" y="613.30" width="5.00" height="5.50" fill="#2f74c4"/>
<text x="345.00" y="619.40" font-size="7.3" fill="#1a1a1a" stroke="#1a1a1a" stroke-width="0.22">CBFB_KO</text>
<text x="339.50" y="733.10" font-size="7.3" fill="#1a1a1a" stroke="#1a1a1a" stroke-width="0.22" text-anchor="middle">Glycolysis</text>
<text x="403.80" y="733.80" font-size="7.3" fill="#1a1a1a" stroke="#1a1a1a" stroke-width="0.22" text-anchor="middle">Glycolytic</text>
<text x="403.80" y="742.60" font-size="7.3" fill="#1a1a1a" stroke="#1a1a1a" stroke-width="0.22" text-anchor="middle">capacity</text>
<text x="470.00" y="733.80" font-size="7.3" fill="#1a1a1a" stroke="#1a1a1a" stroke-width="0.22" text-anchor="middle">Glycolytic</text>
<text x="470.00" y="742.60" font-size="7.3" fill="#1a1a1a" stroke="#1a1a1a" stroke-width="0.22" text-anchor="middle">reserve</text>
</svg>
</body></html>
